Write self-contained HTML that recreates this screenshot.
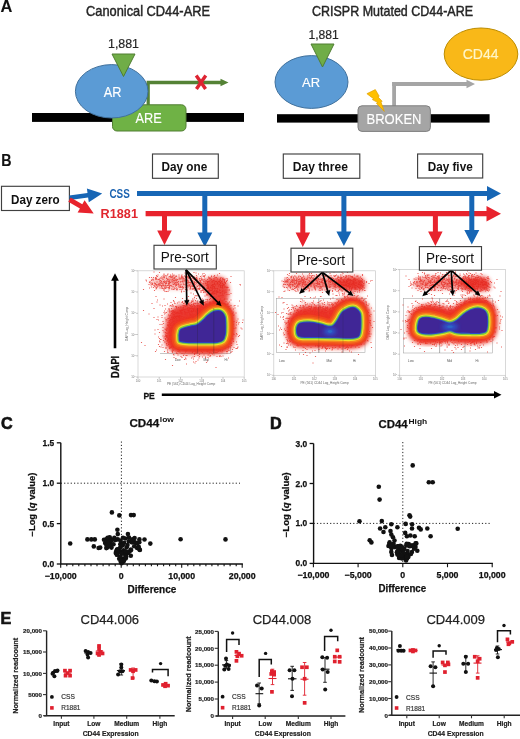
<!DOCTYPE html>
<html><head><meta charset="utf-8"><style>
html,body{margin:0;padding:0;background:#fff;}
svg{display:block;font-family:'Liberation Sans', Arial, sans-serif;}
</style></head><body>
<svg width="520" height="739" viewBox="0 0 520 739">
<rect width="520" height="739" fill="#fff"/>
<text x="0.6" y="12.0" font-size="16.4" font-weight="bold" fill="#111" stroke="#111" stroke-width="0.1">A</text>
<text x="86.0" y="16.2" font-size="14.3" fill="#262626" textLength="124.0" lengthAdjust="spacingAndGlyphs" stroke="#262626" stroke-width="0.45">Canonical CD44-ARE</text>
<text x="312.0" y="15.6" font-size="14.3" fill="#262626" textLength="161.0" lengthAdjust="spacingAndGlyphs" stroke="#262626" stroke-width="0.45">CRISPR Mutated CD44-ARE</text>
<rect x="32" y="113" width="212" height="8.9" fill="#000"/>
<rect x="112.5" y="104.8" width="73.5" height="26.2" rx="4.5" fill="#6fb245" stroke="#507e32" stroke-width="1"/>
<text x="135.6" y="122.8" font-size="13.8" fill="#fff" textLength="26.2" lengthAdjust="spacingAndGlyphs" stroke="#fff" stroke-width="0.15">ARE</text>
<line x1="148.2" y1="82.7" x2="148.2" y2="105" stroke="#548235" stroke-width="3.2"/>
<polygon points="146.6,84.2 220.5,84.2 220.5,86.3 228.5,82.5 220.5,78.7 220.5,80.8 146.6,80.8" fill="#548235"/>
<path d="M196.2,75.6 L205.6,89 M205.8,75.6 L196.4,89" stroke="#de2432" stroke-width="3.4" fill="none"/>
<ellipse cx="111.7" cy="91.3" rx="36.3" ry="26.7" fill="#5b9bd5" stroke="#41719c" stroke-width="1"/>
<polygon points="112,54 135,54 123.5,76.5" fill="#70ad47" stroke="#507e32" stroke-width="1"/>
<text x="108.0" y="47.7" font-size="12.3" fill="#262626" textLength="31.0" lengthAdjust="spacingAndGlyphs" stroke="#262626" stroke-width="0.2">1,881</text>
<text x="103.8" y="97.0" font-size="13.8" fill="#fff" textLength="17.7" lengthAdjust="spacingAndGlyphs" stroke="#fff" stroke-width="0.15">AR</text>
<rect x="277" y="114.2" width="212.6" height="8.4" fill="#000"/>
<rect x="392.2" y="82" width="3.8" height="24" fill="#a5a5a5"/>
<polygon points="392.2,86.0 466.5,86.0 466.5,88.2 475.0,84.0 466.5,79.8 466.5,82.0 392.2,82.0" fill="#a5a5a5"/>
<rect x="358" y="105.8" width="72.4" height="25.6" rx="4" fill="#a5a5a5" stroke="#7f7f7f" stroke-width="1"/>
<text x="366.5" y="123.6" font-size="14.4" fill="#fff" textLength="55.0" lengthAdjust="spacingAndGlyphs" stroke="#fff" stroke-width="0.15">BROKEN</text>
<polygon points="366.9,93.7 375.3,89.6 379.2,96.2 377.8,96.8 382.2,101.3 380.9,101.8 384.3,111.4 376.4,103.3 377.9,102.6 372.4,99.6 373.8,98.9" fill="#ffc000" stroke="#e0a000" stroke-width="0.7" stroke-linejoin="round"/>
<ellipse cx="311.5" cy="82" rx="36.5" ry="26.4" fill="#5b9bd5" stroke="#41719c" stroke-width="1"/>
<polygon points="311,44 334,44 322.5,67" fill="#70ad47" stroke="#507e32" stroke-width="1"/>
<text x="308.5" y="39.2" font-size="12.3" fill="#262626" textLength="30.3" lengthAdjust="spacingAndGlyphs" stroke="#262626" stroke-width="0.2">1,881</text>
<text x="302.0" y="86.5" font-size="13.5" fill="#fff" textLength="18.0" lengthAdjust="spacingAndGlyphs" stroke="#fff" stroke-width="0.15">AR</text>
<ellipse cx="481" cy="54.1" rx="36.8" ry="26.1" fill="#f9b818" stroke="#bc8c00" stroke-width="1"/>
<text x="462.7" y="59.4" font-size="14" fill="#fff6c8" textLength="35.8" lengthAdjust="spacingAndGlyphs" stroke="#fff6c8" stroke-width="0.15">CD44</text>
<defs><filter id="fblur" x="-20%" y="-20%" width="140%" height="140%"><feGaussianBlur stdDeviation="0.7"/></filter><filter id="fblur2" x="-50%" y="-50%" width="200%" height="200%"><feGaussianBlur stdDeviation="2.2"/></filter><filter id="fblur3" x="-50%" y="-50%" width="200%" height="200%"><feGaussianBlur stdDeviation="4"/></filter></defs>
<rect x="138" y="270.8" width="106.2" height="106.2" fill="#fff" stroke="#c8c8c8" stroke-width="0.7"/>
<line x1="136" y1="270.8" x2="138" y2="270.8" stroke="#999" stroke-width="0.5"/>
<text x="135.5" y="271.8" font-size="2.8" fill="#777" text-anchor="end">10<tspan dy="-1" font-size="2">5</tspan></text>
<line x1="138.0" y1="377" x2="138.0" y2="379" stroke="#999" stroke-width="0.5"/>
<text x="138.0" y="381.5" font-size="2.8" fill="#777" text-anchor="middle">100</text>
<line x1="136" y1="292.0" x2="138" y2="292.0" stroke="#999" stroke-width="0.5"/>
<text x="135.5" y="293.0" font-size="2.8" fill="#777" text-anchor="end">10<tspan dy="-1" font-size="2">4</tspan></text>
<line x1="159.2" y1="377" x2="159.2" y2="379" stroke="#999" stroke-width="0.5"/>
<text x="159.2" y="381.5" font-size="2.8" fill="#777" text-anchor="middle">101</text>
<line x1="136" y1="313.3" x2="138" y2="313.3" stroke="#999" stroke-width="0.5"/>
<text x="135.5" y="314.3" font-size="2.8" fill="#777" text-anchor="end">10<tspan dy="-1" font-size="2">3</tspan></text>
<line x1="180.5" y1="377" x2="180.5" y2="379" stroke="#999" stroke-width="0.5"/>
<text x="180.5" y="381.5" font-size="2.8" fill="#777" text-anchor="middle">102</text>
<line x1="136" y1="334.5" x2="138" y2="334.5" stroke="#999" stroke-width="0.5"/>
<text x="135.5" y="335.5" font-size="2.8" fill="#777" text-anchor="end">10<tspan dy="-1" font-size="2">2</tspan></text>
<line x1="201.7" y1="377" x2="201.7" y2="379" stroke="#999" stroke-width="0.5"/>
<text x="201.7" y="381.5" font-size="2.8" fill="#777" text-anchor="middle">103</text>
<line x1="136" y1="355.8" x2="138" y2="355.8" stroke="#999" stroke-width="0.5"/>
<text x="135.5" y="356.8" font-size="2.8" fill="#777" text-anchor="end">10<tspan dy="-1" font-size="2">1</tspan></text>
<line x1="223.0" y1="377" x2="223.0" y2="379" stroke="#999" stroke-width="0.5"/>
<text x="223.0" y="381.5" font-size="2.8" fill="#777" text-anchor="middle">104</text>
<line x1="136" y1="377.0" x2="138" y2="377.0" stroke="#999" stroke-width="0.5"/>
<text x="135.5" y="378.0" font-size="2.8" fill="#777" text-anchor="end">10<tspan dy="-1" font-size="2">0</tspan></text>
<line x1="244.2" y1="377" x2="244.2" y2="379" stroke="#999" stroke-width="0.5"/>
<text x="244.2" y="381.5" font-size="2.8" fill="#777" text-anchor="middle">105</text>
<text x="191.1" y="385.3" font-size="3.2" fill="#666" text-anchor="middle">PE (561) CD44 Log_Height Comp</text>
<text transform="translate(127.5,323.9) rotate(-90)" font-size="3.2" fill="#666" text-anchor="middle">DAPI Log_Height Comp</text>
<path d="M160,353.5 H230.5 V340" fill="none" stroke="#8a8a8a" stroke-width="0.5"/>
<line x1="197.7" y1="300" x2="197.7" y2="353.5" stroke="#666" stroke-width="0.5"/>
<line x1="213.8" y1="300" x2="213.8" y2="353.5" stroke="#666" stroke-width="0.5"/>
<path d="M165.0,334.0C165.0,329.7 166.0,323.8 167.0,320.0C168.0,316.2 169.2,313.3 171.0,311.0C172.8,308.7 174.8,307.2 178.0,306.0C181.2,304.8 185.7,304.5 190.0,304.0C194.3,303.5 200.2,303.7 204.0,303.0C207.8,302.3 210.0,300.4 213.0,300.0C216.0,299.6 219.3,299.3 222.0,300.5C224.7,301.7 227.5,303.4 229.0,307.0C230.5,310.6 230.8,316.5 231.0,322.0C231.2,327.5 231.2,335.5 230.5,340.0C229.8,344.5 229.6,346.9 227.0,349.0C224.4,351.1 220.3,351.8 215.0,352.5C209.7,353.2 201.5,353.2 195.0,353.0C188.5,352.8 180.7,352.7 176.0,351.5C171.3,350.3 168.8,348.9 167.0,346.0C165.2,343.1 165.0,338.3 165.0,334.0Z" fill="#ee4a44" opacity="0.3" filter="url(#fblur3)"/>
<path d="M205.0,281.0C206.2,278.5 210.0,277.5 213.0,277.0C216.0,276.5 220.5,276.7 223.0,278.0C225.5,279.3 227.0,282.2 228.0,285.0C229.0,287.8 229.5,292.2 229.0,295.0C228.5,297.8 227.7,301.2 225.0,302.0C222.3,302.8 216.2,301.7 213.0,300.0C209.8,298.3 207.3,295.2 206.0,292.0C204.7,288.8 203.8,283.5 205.0,281.0Z" fill="#e8281e" opacity="0.85" filter="url(#fblur2)"/>
<path d="M150.0,282.0C150.8,280.2 158.3,277.8 165.0,277.0C171.7,276.2 183.3,276.5 190.0,277.0C196.7,277.5 202.5,278.2 205.0,280.0C207.5,281.8 208.3,286.5 205.0,288.0C201.7,289.5 192.5,289.0 185.0,289.0C177.5,289.0 165.8,289.2 160.0,288.0C154.2,286.8 149.2,283.8 150.0,282.0Z" fill="#e8281e" opacity="0.35" filter="url(#fblur2)"/>
<path d="M193.5 311h0M174.5 326h0M193.5 359h0M169.5 347h0M180.5 341h0M191.5 329.5h0M205.5 320.5h0M185 350h0M195 363h0M177.5 328h0M155 330h0M180 334h0M219.5 348.5h0M214 329h0M189 336h0M209.5 311.5h0M178.5 317.5h0M215.5 322h0M228.5 310.5h0M201.5 331.5h0M186 322h0M210 333h0M221 343.5h0M207.5 305h0M174.5 316.5h0M173 315h0M198 327h0M191.5 345h0M207 309h0M215 320h0M201.5 348.5h0M219.5 350.5h0M164.5 342h0M190 314h0M195.5 349h0M227 299h0M215.5 322.5h0M208 357.5h0M217 314.5h0M229 306.5h0M197.5 330h0M193.5 333.5h0M218.5 314h0M211 321h0M193.5 321h0M224.5 326.5h0M194.5 308h0M193 344h0M199.5 340.5h0M174.5 337.5h0M218 323.5h0M197.5 325.5h0M210.5 355.5h0M230 347h0M173 333.5h0M219 329.5h0M164.5 351.5h0M215.5 308h0M186.5 318h0M201.5 339h0M217 352.5h0M209.5 317.5h0M223 311.5h0M210 302h0M207.5 341.5h0M212 321h0M183 309.5h0M178.5 313h0M201.5 310h0M168.5 344.5h0M219 309h0M214 307.5h0M183 339.5h0M220 316.5h0M222.5 339h0M194 320.5h0M232.5 328.5h0M192 331h0M173.5 321.5h0M180.5 323.5h0M205.5 358h0M186.5 341.5h0M225.5 330h0M204 315h0M202 343.5h0M179 302h0M216 336.5h0M213 325h0M213 318h0M170.5 339.5h0M189 330h0M181 339h0M207.5 343.5h0M197.5 323.5h0M197 313.5h0M206.5 306.5h0M217.5 322h0M227.5 326h0M193 318.5h0M219.5 342.5h0M211 325h0M203.5 320.5h0M174.5 343h0M176 333h0M236 336h0M201 335h0M224 337h0M171 331.5h0M227 320.5h0M193 315.5h0M206.5 311.5h0M173.5 311.5h0M188 308h0M188.5 325h0M199.5 338.5h0M191 318.5h0M221 295.5h0M191.5 334.5h0M219.5 349h0M185 324.5h0M206.5 340h0M212.5 307.5h0M172.5 310.5h0M166.5 330.5h0M174.5 312.5h0M202.5 311h0M197.5 342.5h0M224.5 314.5h0M209.5 303h0M180 349h0M184.5 339h0M171 302.5h0M177 320.5h0M188 324h0M232 315h0M164 338h0M198 331.5h0M182 312.5h0M171 323.5h0M184.5 350h0M221.5 304.5h0M178.5 344.5h0M227.5 329.5h0M216 348h0M188 323h0M184.5 321.5h0M219.5 330.5h0M187 315h0M179 340.5h0M219.5 302.5h0M167 328h0M192.5 321.5h0M206.5 314.5h0M189.5 341.5h0M172.5 351.5h0M232.5 322h0M198 342.5h0M189.5 305.5h0M221 321.5h0M212.5 348h0M180 322h0M208 335h0M212 316.5h0M198 305.5h0M206 301.5h0M180 325h0M195.5 322h0M186.5 339h0M197 340h0M210.5 339h0M188.5 330.5h0M231 293.5h0M187 305.5h0M192 345h0M222 305h0M172 311h0M174.5 312h0M203 339h0M202.5 334.5h0M197 324.5h0M167.5 341h0M214.5 324.5h0M170 324h0M167 329h0M208.5 330.5h0M198.5 311h0M228 308h0M190.5 338.5h0M222 306h0M185 327.5h0M179 347.5h0M213.5 302.5h0M224.5 327.5h0M231.5 330h0M231 326h0M177.5 337.5h0M204.5 348h0M164 332h0M174 312h0M189.5 311h0M200.5 311.5h0M231 315.5h0M222.5 342h0M204.5 326h0M228 338h0M206.5 324h0M169 333h0M206.5 323.5h0M189.5 313h0M212 293h0M216 325.5h0M213 332h0M196 322.5h0M208 350.5h0M193 309h0M187 355.5h0M214 336h0M209.5 341h0M201.5 315.5h0M230.5 311.5h0M192 308.5h0M215 340h0M191 342h0M226.5 351.5h0M225 336h0M184 303.5h0M186 324.5h0M217.5 318.5h0M218.5 334h0M211.5 317.5h0M222 305h0M188 340.5h0M194 342.5h0M218.5 318.5h0M210.5 325.5h0M212.5 332.5h0M205 328.5h0M174 355h0M180.5 316h0M212.5 325h0M203 341.5h0M206 304.5h0M180 313h0M172.5 313h0M186 306.5h0M189.5 345.5h0M179 336.5h0M164.5 314h0M204 322.5h0M206.5 344.5h0M201.5 305h0M206.5 340h0M180.5 336h0M208 335.5h0M209.5 320h0M195 342h0M169 321h0M190 303h0M191.5 333h0M219 317.5h0M180.5 322.5h0M212 325h0M228.5 324.5h0M182.5 298.5h0M199.5 329h0M201 344.5h0M192.5 317h0M180.5 321h0M179 313.5h0M215.5 331.5h0M169.5 340h0M227 334h0M210 315h0M221.5 315h0M178 339h0M227.5 351.5h0M205 335.5h0M181 312.5h0M189 307.5h0M215 316h0M200 327h0M194.5 353.5h0M210.5 328h0M200.5 323.5h0M196 342.5h0M203.5 340.5h0M206 313.5h0M215.5 322.5h0M206 336h0M171.5 340.5h0M218.5 326.5h0M202 332.5h0M221.5 306.5h0M229 328h0M198.5 315.5h0M203 337h0M217 331h0M199.5 330.5h0M193 308.5h0M224 314h0M213.5 314.5h0M215.5 335h0M210 336h0M232.5 338.5h0M218.5 302h0M219 328.5h0M195 333h0M201 338.5h0M227 343.5h0M224.5 345h0M208.5 313.5h0M212.5 326.5h0M194.5 330h0M214.5 340.5h0M226.5 340h0M174.5 339.5h0M223.5 307h0M180.5 307h0M172 351h0M217 348h0M176.5 307h0M203.5 322.5h0M177.5 340.5h0M196.5 329h0M221.5 335h0M200.5 335.5h0M182 310.5h0M225 323h0M207 320.5h0M198.5 327.5h0M200.5 308h0M189.5 346h0M219 337.5h0M171.5 334.5h0M203 342h0M173.5 327.5h0M214 309.5h0M232 351.5h0M215.5 340.5h0M196.5 334.5h0M214 327.5h0M194 305.5h0M178 325h0M221 336h0M199 310h0M227 304.5h0M227.5 317h0M189 305h0M179.5 332h0M173 305.5h0M207 331.5h0M212.5 345h0M225 325.5h0M186 344.5h0M224.5 329.5h0M216.5 322.5h0M193 322h0M214 324h0M159.5 346.5h0M202 328h0M185 345.5h0M204 328.5h0M225 340h0M196.5 316h0M199 343.5h0M169.5 348.5h0M228.5 325h0M175.5 317.5h0M219.5 346.5h0M199 358h0M212 321.5h0M221 339h0M222.5 310.5h0M178.5 325h0M197.5 329h0M214.5 304.5h0M184.5 327h0M173 319h0M163.5 323.5h0M200 312.5h0M205.5 327.5h0M204.5 320.5h0M217 313h0M218.5 306h0M169 318.5h0M183.5 355.5h0M195 327.5h0M199.5 332h0M228 347.5h0M196 323h0M212 350.5h0M191 341.5h0M195.5 311h0M198 314h0M196.5 317h0M212.5 354h0M203.5 317.5h0M195 341h0M185.5 350h0M179 316.5h0M216.5 315h0M190.5 333h0M193.5 294h0M187.5 308h0M173 306.5h0M226 336h0M183.5 341h0M199 335.5h0M190 334h0M192 305h0M200 342h0M188 341h0M168 352.5h0M213.5 334.5h0M233 341h0M165.5 332.5h0M182 326h0M223 329.5h0M186 319h0M171 329h0M173 346.5h0M182.5 310.5h0M174.5 343h0M175 320h0M191.5 337.5h0M225.5 327.5h0M205.5 310.5h0M182.5 331h0M199.5 325h0M207 331h0M175.5 343.5h0M201.5 321h0M185 309.5h0M202 339.5h0M172 311h0M186.5 317.5h0M222 321h0M227 339.5h0M175 311.5h0M188 330h0M210.5 309.5h0M218.5 312.5h0M178 339h0M170.5 328.5h0M223 311.5h0M227.5 335.5h0M202.5 335.5h0M167 345.5h0M229 335.5h0M188 323.5h0M212 340h0M191.5 358h0M176.5 325h0M209.5 305h0M215 347h0M180.5 311.5h0M187.5 326.5h0M223 303.5h0M174.5 331.5h0M204 329h0M182 302.5h0M192.5 299h0M176 335.5h0M173.5 347.5h0M194.5 345.5h0M219.5 335.5h0M196 330.5h0M161 339.5h0M207 310.5h0M220 348.5h0M192.5 324.5h0M218.5 351.5h0M205 320h0M209.5 337.5h0M238.5 336.5h0M211.5 314h0M208.5 315h0M184 339.5h0M183 329.5h0M195 303.5h0M176.5 348.5h0M182.5 332.5h0M178 330h0M158.5 320h0M214.5 302.5h0M224.5 319.5h0M221 309h0M203 307.5h0M208 327h0M216 317.5h0M206 347.5h0M226.5 337.5h0M205.5 340.5h0M185.5 305h0M169.5 341.5h0M213.5 317.5h0M218 343.5h0M175.5 325h0M171.5 347.5h0M180 340.5h0M174 314.5h0M184.5 328h0M198 355.5h0M182.5 321h0M210 352.5h0M209 339.5h0M200.5 304h0M209.5 308.5h0M205 319.5h0M179.5 318h0M181.5 313h0M218.5 322.5h0M170 312h0M190.5 350.5h0M204 348h0M226 301.5h0M177 320h0M175.5 328.5h0M223 356h0M224.5 321.5h0M224.5 340h0M212.5 330.5h0M167 320h0M197 332h0M236.5 333.5h0M214 319h0M207.5 308.5h0M199.5 326.5h0M215 303.5h0M179 342.5h0M203.5 350h0M211.5 341h0M215.5 305.5h0M201.5 328h0M178.5 307.5h0M171.5 341h0M201 319.5h0M233.5 309h0M188.5 344.5h0M206 316h0M176.5 306.5h0M206.5 304.5h0M212 347.5h0M218 305h0M206 344.5h0M224.5 337.5h0M177.5 343h0M167.5 304h0M188 343.5h0M190.5 324h0M184 346.5h0M199.5 317h0M187.5 306h0M198 303.5h0M184 310h0M198 322h0M202 332h0M202 326.5h0M201.5 333h0M165 342h0M195.5 317h0M216 346h0M208 329h0M199 336.5h0M172.5 340h0M188.5 323.5h0M204 327h0M217.5 324h0M170 306h0M203.5 349h0M207 326h0M169.5 317h0M171.5 317.5h0M190.5 330h0M213.5 316h0M171.5 335.5h0M192.5 318.5h0M175.5 340.5h0M222.5 302h0M191.5 343h0M192.5 325.5h0M203 346.5h0M224 303.5h0M209 314.5h0M200 324.5h0M207 320.5h0M190 347.5h0M218 336.5h0M210.5 326h0M219 301.5h0M166.5 336.5h0M221.5 322h0M222 307.5h0M185.5 313h0M196.5 327.5h0M218.5 346.5h0M193.5 320h0M193.5 340.5h0M198 325.5h0M220.5 308h0M196.5 348.5h0M194.5 333h0M191.5 305h0M196.5 339.5h0M221.5 311h0M161 347h0M183.5 349.5h0M209.5 307h0M210.5 326.5h0M189.5 336h0M188.5 333.5h0M194.5 336.5h0M238 306h0M200 310.5h0M231 300h0M199.5 311.5h0M231 314h0M227.5 316.5h0M187 321.5h0M215.5 315.5h0M200 342h0M204.5 310.5h0M190.5 323h0M233 312h0M220.5 305.5h0M190.5 308.5h0M180 323h0M241 328h0M195.5 338.5h0M218.5 309h0M208 320h0M180 329.5h0M192 334.5h0M212.5 339h0M230 323.5h0M212.5 337.5h0M193.5 309.5h0M219.5 315h0M209.5 329h0M214.5 308h0M237 344.5h0M233 338.5h0M207 310h0M187.5 350h0M230.5 339.5h0M169 324.5h0M212 330h0M207.5 351.5h0M201 340h0M168 340h0M191 306.5h0M178 330h0M174 334.5h0M184.5 359.5h0M193 347.5h0M199.5 350.5h0M178 346.5h0M193 300.5h0M188.5 347h0M198.5 331.5h0M201 310h0M212.5 324h0M210 319.5h0M212.5 341h0M180 332.5h0M214.5 331h0M192 311.5h0M206.5 309.5h0M188 300h0M190.5 305.5h0M217.5 310h0M193 357h0M225.5 311h0M186 320h0M182.5 342.5h0M216.5 313h0M201 341.5h0M223.5 326h0M209.5 299.5h0M231.5 316h0M215.5 334h0M177 326h0M216 314.5h0M194.5 350.5h0M203 326h0M187.5 319h0M196 325h0M220.5 301h0M228.5 339.5h0M220.5 299h0M205.5 346.5h0M173.5 329.5h0M211 304.5h0M211 309h0M202.5 341.5h0M177 338h0M183 336.5h0M214.5 302.5h0M201 342h0M217.5 311.5h0M237 321h0M172 318h0M187 313h0M216 334h0M173.5 300.5h0M212 339h0M211 335h0M209.5 353h0M185 348.5h0M228.5 318h0M200 346h0M207.5 312h0M199.5 354.5h0M191 344h0M188 331.5h0M219.5 322.5h0M175 313h0M210.5 309h0M173 334.5h0M201.5 334.5h0M206.5 307h0M209.5 306.5h0M178.5 349.5h0M183 333.5h0M231.5 343h0M235 308h0M231.5 314.5h0M216.5 316.5h0M172.5 341.5h0M211 329.5h0M208 343.5h0M184 320.5h0M225.5 348h0M183 322h0M196 295.5h0M172 317h0M208 352h0M166 336h0M201 328h0M217 347h0M212.5 343h0M227 328.5h0M179.5 320h0M219.5 332h0M214 315h0M174 357.5h0M213 346.5h0M214.5 322h0M224.5 303.5h0M219.5 304.5h0M171.5 311h0M186 345h0M210.5 332h0M216.5 310h0M202.5 330.5h0M196 361.5h0M175 325h0M188.5 342.5h0M221.5 343.5h0M175 344.5h0M217 315h0M190.5 336.5h0M189.5 336h0M189 333h0M184.5 324h0M176 316.5h0M225 299h0M162 324.5h0M195 310h0M175.5 317h0M228.5 326.5h0M201.5 311h0M158 317h0M172 329.5h0M183.5 307h0M172 335.5h0M208.5 328.5h0M219 304h0M224 324h0M204.5 348.5h0M194 303h0M242.5 322.5h0M186.5 323.5h0M232 331h0M176.5 353h0M199.5 308.5h0M181.5 321.5h0M183.5 309.5h0M204.5 332.5h0M167 336.5h0M206.5 362.5h0M225 307.5h0M196.5 319h0M196 302h0M219 350.5h0M223 328h0M179.5 317.5h0M209.5 325.5h0M216.5 350.5h0M220 311.5h0M193.5 362h0M192 338.5h0M181 316h0M200 301.5h0M191 342h0M160 342h0M209 337.5h0M227 315h0M226 325.5h0M200.5 338.5h0M176.5 339h0M217 356.5h0M225 307.5h0M194 326h0M208 331h0M192 324h0M212.5 331h0M221.5 313h0M223 345h0M200.5 306.5h0M202.5 315h0M214 306.5h0M210.5 334.5h0M187 337.5h0M227.5 341h0M194 319.5h0M205 302.5h0M173 305.5h0M214.5 329.5h0M189 323.5h0M187 319.5h0M192 347h0M207 336.5h0M222 304h0M167 341h0M197.5 307h0M217.5 308h0M203 349h0M193.5 326h0M184 305.5h0M194.5 356.5h0M215.5 346.5h0M172 346.5h0M198 350.5h0M178 343.5h0M229 346.5h0M198 360h0M216 317h0M193.5 304h0M207.5 361h0M213 349.5h0M187 344h0M228 307h0M170 341.5h0M163 347.5h0M218 347.5h0M222.5 314h0M182 314h0M169.5 336h0M210 315h0M198 344.5h0M220.5 338h0M229 336.5h0M201.5 324h0M196.5 347h0M223.5 335h0M197.5 318.5h0M188 324.5h0M213.5 331.5h0M206 340h0M218 344.5h0M182 316.5h0M204 355h0M217.5 327h0M193 327.5h0M188 342.5h0M202.5 307h0M201 328.5h0M201 350h0M195.5 300.5h0M180 324.5h0M217.5 316h0M206 317.5h0M180.5 322h0M200 349.5h0M178.5 332.5h0M208 355h0M194 344h0M214 331.5h0M185.5 321h0M209 355h0M209 343h0M207.5 326h0M212.5 302h0M178.5 345.5h0M202.5 329h0M213.5 316.5h0M221.5 335h0M176 337.5h0M221 309h0M222.5 335.5h0M221 306.5h0M222.5 350.5h0M217.5 332h0M213 335h0M191 351h0M195 331h0M173 314h0M175.5 329.5h0M222.5 326h0M198.5 308.5h0M198 311h0M217.5 325h0M195 338.5h0M204.5 326h0M228.5 341h0M184 338.5h0M223 325h0M226.5 336h0M227 330.5h0M223 310.5h0M193.5 333h0M173.5 335h0M209 311h0M193.5 323h0M218 322h0M232.5 313.5h0M198.5 337h0M180 343.5h0M218 348h0M215 337.5h0M175.5 346.5h0M173.5 310.5h0M186 345.5h0M217 338.5h0M198.5 295.5h0M220 301.5h0M219.5 306.5h0M192.5 329.5h0M218 329h0M166.5 337h0M174.5 303h0M234 334.5h0M195.5 352h0M186.5 351h0M181 323h0M204.5 338.5h0M192.5 351h0M193 347h0M192 318.5h0M176 358.5h0M196 330h0M174.5 342.5h0M220 350h0M202 306.5h0M225.5 315h0M199 342.5h0M204 322h0M193.5 324h0M197 317.5h0M197.5 344h0M207.5 311h0M168.5 339.5h0M225.5 315.5h0M226 338.5h0M178 351.5h0M175 331h0M210.5 324h0M214 305h0M187.5 302h0M188 320h0M214.5 324.5h0M174.5 333.5h0M205 340h0M202 313h0M223.5 334h0M223.5 308h0M206 325.5h0M185.5 352h0M220 355.5h0M212 306h0M174.5 318.5h0M208 332.5h0M210 356.5h0M190.5 317.5h0M174 314.5h0M207.5 318.5h0M211.5 353h0M193 323.5h0M220.5 332h0M189 309.5h0M172.5 304.5h0M210.5 338h0M201.5 330.5h0M186.5 298.5h0M186.5 304h0M217 348h0M227.5 317h0M227.5 313h0M185.5 347.5h0M194 322h0M187.5 323h0M187.5 337h0M212 339.5h0M220.5 310h0M210.5 334.5h0M187.5 321h0M220.5 314h0M218.5 338.5h0M192 301.5h0M205.5 323.5h0M222.5 328h0M187 330.5h0M195 352h0M192 343.5h0M186.5 334.5h0M225.5 316.5h0M182.5 323.5h0M232 324.5h0M210 331.5h0M195 343h0M176 345h0M192.5 306.5h0M180.5 333h0M203 321h0M203.5 302.5h0M207 347h0M215 335h0M236 348.5h0M230.5 336.5h0M222 326h0M222.5 334h0M224 319h0M171.5 335h0M199.5 333.5h0M201 339h0M217 310.5h0M204 342.5h0M220 323.5h0M213 340.5h0M173.5 318h0M211.5 343h0M181.5 342.5h0M166 348.5h0M179 336.5h0M178 338h0M180 321.5h0M217.5 327.5h0M219 305.5h0M223 322h0M174 324.5h0M224 324.5h0M171.5 327.5h0M221 303h0M217.5 339h0M180 336h0M186.5 322h0M185.5 336h0M225 304h0M169.5 330h0M193 344.5h0M177 337h0M172 338h0M219.5 330h0M213.5 329h0M184.5 336.5h0M187.5 332.5h0M170 328h0M173 312h0M214 335.5h0M191 336h0M176 340h0M173.5 338.5h0M209.5 322h0M188 319h0M193.5 322.5h0M208 340.5h0M188.5 348.5h0M171.5 313.5h0M223 313.5h0M188.5 345.5h0M178.5 316.5h0M174.5 326.5h0M179.5 324.5h0M193 316h0M194 333h0M209.5 338h0M174 321.5h0M184.5 331h0M171.5 306h0M186.5 341h0M223.5 311h0M219.5 328h0M176 334h0M166.5 335.5h0M214 301.5h0M192.5 311.5h0M196.5 341.5h0M213.5 344h0M192.5 335h0M217 315h0M195.5 334h0M177.5 313h0M205.5 323.5h0M190 314.5h0M224 319.5h0M167 337.5h0M194 351h0M172 340.5h0M216 336h0M181.5 317h0M226 328.5h0M200 319.5h0M180 329h0M218.5 343h0M187.5 302h0M213 350h0M173.5 354.5h0M208 312h0M183.5 329h0M215 335h0M187.5 340.5h0M205 342h0M202 332h0M201 307.5h0M194.5 297.5h0M185.5 331h0M165.5 359.5h0M216 346h0M181 346.5h0M204 321h0M164.5 311h0M196.5 323.5h0M186.5 346h0M205.5 344h0M208 334.5h0M228 350h0M194.5 325.5h0M215.5 352.5h0M219.5 313.5h0M185 313h0M199.5 306.5h0M226 341h0M223 338.5h0M199.5 356.5h0M220.5 306h0M200.5 314h0M219.5 342h0M172 344h0M185 338.5h0M173.5 321h0M219 307h0M207.5 346.5h0M184.5 302h0M198 339h0M182 341.5h0M213 341.5h0M230 320.5h0M182.5 302.5h0M186 359h0M220 316h0M222.5 334.5h0M209 316h0M201 349h0M238.5 324h0M222 330.5h0M198 316.5h0M170 315.5h0M229 334.5h0M204.5 330.5h0M192.5 320.5h0M199 326.5h0M195 353.5h0M179.5 315.5h0M215 323h0M158.5 344.5h0M215 314.5h0M210.5 334h0M166.5 312.5h0M184.5 338.5h0M197.5 302h0M208 313h0M221 345.5h0M205 324h0M185.5 358h0M167.5 325h0M179 335.5h0M167.5 341h0M177 330h0M208 334.5h0M212 312h0M192.5 346.5h0M175 341h0M204.5 312h0M214 349.5h0M179.5 320h0M227 316.5h0M179.5 336h0M223 334.5h0M208.5 331.5h0M206.5 304h0M214 308.5h0M195 332.5h0M213.5 303.5h0M208 314.5h0M222 302.5h0M231 317h0M189.5 338.5h0M228.5 348h0M167.5 350h0M195 338.5h0M215 332.5h0M169.5 322.5h0M196 351h0M225 340h0M193.5 333h0M232.5 321h0M218 308.5h0M204 307h0M238 347h0M191 325.5h0M173.5 350h0M201 330.5h0M202.5 352.5h0M197 309h0M195.5 336.5h0M180 337h0M220 302h0M214 333h0M197.5 342.5h0M202 344h0M189 327h0M194.5 320.5h0M208.5 318.5h0M219 350.5h0M218 306.5h0M198.5 313.5h0M231 305.5h0M195 306.5h0M228 328h0M201.5 307h0M226.5 341.5h0M204 314.5h0M219.5 315.5h0M200 301.5h0M171.5 334h0M221.5 326h0M208 311.5h0M176.5 313h0M186 341h0M219.5 346h0M225.5 331h0M172.5 342.5h0M197 315.5h0M212 325h0M219.5 332.5h0M186 309h0M225.5 335h0M175.5 324.5h0M217 318h0M212.5 315.5h0M188.5 296.5h0M207 338h0M197.5 321.5h0M177.5 303h0M178 348.5h0M197 314.5h0M223.5 305.5h0M220.5 302h0M168.5 338.5h0M210.5 319.5h0M168 318.5h0M226 301.5h0M227.5 334h0M175 311.5h0M190.5 323.5h0M222 352h0M215.5 326h0M193 347.5h0M212.5 343h0M219 343.5h0M226 344h0M212.5 326.5h0M205 307h0M203.5 320h0M174.5 340h0M175 321h0M199 304h0M186.5 334.5h0M214.5 333h0M203.5 348.5h0M194.5 349.5h0M218 318h0M201 317.5h0M220.5 346h0M217.5 315h0M218.5 305.5h0M198 351h0M192 313h0M183 332.5h0M191.5 316h0M185.5 335.5h0M196.5 298.5h0M197 325.5h0M186.5 350.5h0M237 334.5h0M219.5 356.5h0M230.5 313h0M215 314h0M230.5 314.5h0M224.5 312h0M213 334h0M222 323.5h0M234 321.5h0M209 313.5h0M200 341.5h0M174.5 344.5h0M177 353.5h0M207.5 325h0M183.5 303.5h0M220 332.5h0M181.5 334h0M200 309.5h0M189.5 321h0M212.5 320h0M216.5 331h0M205 316h0M191 321h0M192 314.5h0M197.5 313h0M166 347.5h0M196 340.5h0M174.5 315h0M202 330.5h0M223.5 318h0M213 307h0M194.5 339.5h0M176.5 333h0M224.5 345.5h0M163.5 340.5h0M188 349.5h0M197 296h0M222 309h0M221 326h0M233 314h0M169 342.5h0M181 307h0M193 344h0M215.5 341.5h0M205 322.5h0M184.5 302h0M210 303.5h0M179.5 332.5h0M225 338.5h0M191 325h0M207 331h0M231.5 343.5h0M208 307h0M185 320.5h0M178.5 320.5h0M214.5 331.5h0M198 309h0M196 333.5h0M208 335h0M222.5 346h0M194 299h0M184.5 347h0M181 318.5h0M169 309.5h0M219 339.5h0M177 312.5h0M204 302.5h0M202.5 330h0M208.5 326.5h0M205.5 328h0M216.5 334h0M211 313h0M209.5 312h0M226.5 338.5h0M188 333.5h0M200 331h0M189 317.5h0M199.5 354h0M218 326.5h0M169 327h0M187 323h0M223 317h0M196.5 310h0M182 357.5h0M182.5 314h0M174 344.5h0M214.5 340h0M213 325.5h0M178 331h0M199 346h0M170.5 305.5h0M203 344.5h0M225.5 312h0M209 330.5h0M216 311h0M190.5 315.5h0M181 321.5h0M172.5 321h0M166 329.5h0M226.5 314h0M190.5 350.5h0M196 327h0M189 346h0M210 348.5h0M224.5 340h0M169 308.5h0M224 300h0M184.5 339.5h0M199 330h0M216.5 332h0M172.5 352.5h0M207 308.5h0M190.5 327h0M203 316h0M201.5 311h0M201.5 315h0M177 343.5h0M220.5 350.5h0M215 338h0M171.5 311.5h0M177.5 312.5h0M208.5 346h0M205 313h0M165.5 335h0M214 301.5h0M202.5 328h0M178 355h0M227 343.5h0M201.5 349.5h0M157 319.5h0M171 332h0M208.5 331.5h0M219 329h0M194.5 305.5h0M195.5 311h0M183.5 326h0M196 342.5h0M187 343.5h0M221 337.5h0M200.5 342.5h0M165.5 313h0M211 326h0M205.5 320.5h0M206.5 343.5h0M200.5 347h0M212 333.5h0M162 317.5h0M174 323.5h0M182.5 328h0M194.5 354.5h0M225 344h0M178.5 320.5h0M225 313.5h0M210.5 302.5h0M195.5 350.5h0M202.5 330.5h0M217.5 333h0M217.5 339.5h0M188.5 312h0M172 316.5h0M186.5 341.5h0M190.5 350h0M209.5 346h0M173 345.5h0M175.5 325h0M194 327h0M173.5 328h0M207 326.5h0M184 325h0M204 313h0M209.5 324h0M169.5 320.5h0M184 317h0M199.5 307h0M209 337h0M236.5 325h0M218.5 319.5h0M162.5 306h0M232.5 349.5h0M216.5 335h0M181 334.5h0M200 345h0M214.5 309.5h0M172 322.5h0M178.5 325.5h0M204 327.5h0M189.5 329.5h0M222.5 333.5h0M221.5 341h0M215 308.5h0M185 334h0M242 329h0M202.5 314h0M177.5 333h0M210 347h0M219.5 341h0M221.5 306.5h0M220 318h0M204 346.5h0M173 343h0M166.5 344h0M195.5 349h0M189.5 330h0M217 330h0M205.5 357h0M221 331h0M195.5 347.5h0M184.5 323h0M203 336h0M185 331.5h0M176.5 308h0M180 334h0M200 316.5h0M204.5 312.5h0M207 351.5h0M209.5 344h0M195.5 337.5h0M177.5 333.5h0M212.5 314h0M191 350h0M167.5 340h0M170.5 319.5h0M216.5 322.5h0M222 347h0M183.5 309.5h0M227.5 337h0M197 330h0M211 336h0M165 329h0M204 328.5h0M183 334h0M223.5 314h0M222.5 333h0M207 313.5h0M217 339h0M223.5 315.5h0M218.5 303.5h0M225 325h0M197.5 333.5h0M212.5 336.5h0M193 351.5h0M183.5 339h0M216.5 319h0M228 329h0M182.5 322h0M206.5 317h0M160.5 339.5h0M187 301.5h0M175.5 313h0M203.5 315.5h0M225.5 316.5h0M194 351h0M200 311h0M220.5 332.5h0M223.5 343.5h0M177 333.5h0M203.5 349.5h0M177.5 349.5h0M231.5 345.5h0M183.5 327.5h0M191.5 308h0M229 294.5h0M192.5 345.5h0M182.5 349.5h0M205.5 304h0M188.5 303.5h0M207.5 295h0M198.5 325h0M193.5 310.5h0M206 308h0M201 322h0M216.5 338.5h0M195.5 326h0M195.5 345.5h0M230.5 314h0M171 347h0M213.5 343h0M176.5 318.5h0M206.5 319h0M214 352.5h0M207.5 332h0M204 291h0M219.5 310.5h0M172.5 365.5h0M191 339h0M221.5 320.5h0M198 343h0M221 336.5h0M193.5 304.5h0M210.5 332h0M197 324h0M205.5 342h0M193 321.5h0M216 345h0M196 342h0M226.5 334.5h0M196 311.5h0M207 340h0M203 305.5h0M210 306.5h0M235 305.5h0M195 296h0M181.5 336h0M228.5 320h0M174.5 331h0M192.5 335h0M172.5 346.5h0M177 338.5h0M170.5 325.5h0M197.5 309.5h0M176.5 327.5h0M163 327.5h0M207 349.5h0M179 334h0M189 338.5h0M191 349h0M168 338h0M169 324.5h0M207 343h0M207 324h0M173 313h0M232.5 323h0M190.5 322h0M163 336h0M178.5 349h0M179 331h0M210.5 341h0M228.5 320.5h0M199 306h0M159.5 338.5h0M191 330h0M208 342h0M169.5 312h0M192 322.5h0M177.5 349.5h0M183.5 341.5h0M189.5 322.5h0M218.5 305h0M184.5 342h0M220 324.5h0M175.5 306.5h0M210.5 319.5h0M168 322.5h0M211 331h0M237.5 348h0M216.5 327.5h0M204 308.5h0M172.5 337.5h0M198.5 342.5h0M198 315.5h0M210 307.5h0M214.5 314h0M221.5 326.5h0M196.5 312.5h0M215 321.5h0M167 335.5h0M159.5 332.5h0M210 348.5h0M224.5 299h0M215 319h0M195.5 337h0M218.5 317h0M199 331h0M195 334h0M210.5 324h0M204 326.5h0M207 315.5h0M208.5 325.5h0M214.5 323.5h0M233 312.5h0M191.5 326.5h0M210 339.5h0M173.5 325h0M178 316h0M225.5 305h0M172 312h0M235.5 328h0M227 353h0M210.5 340h0M221 342h0M196 316h0M191 312h0M188 349h0M236 328h0M234 328.5h0M185.5 335.5h0M162 345h0M209.5 327h0M206 324.5h0M191.5 341h0M195.5 324.5h0M221.5 318.5h0M219 317.5h0M207.5 311h0M181.5 310h0M218 315h0M200.5 336h0M221.5 326h0M205 330h0M233.5 315.5h0M185 323.5h0M214 339h0M223.5 324h0M219 331.5h0M201 313.5h0M214 313h0M159.5 341h0M205 347.5h0M191 347.5h0M207.5 319.5h0M222.5 317h0M186 333h0M188.5 332h0M169.5 332h0M207.5 299.5h0M181.5 312.5h0M203.5 326h0M185.5 347.5h0M225.5 320h0M185.5 342h0M201 341h0M208 339h0M188.5 340.5h0M197.5 310h0M188.5 317.5h0M171 329h0M213 313h0M225.5 339.5h0M206 343.5h0M206 341h0M175.5 331.5h0M206.5 343h0M221.5 320.5h0M215.5 338h0M187.5 310h0M168 311h0M196 315.5h0M224 317h0M210.5 338.5h0M217.5 342h0M198.5 346h0M176 313.5h0M233 339.5h0M188 349.5h0M167.5 352h0M206 348h0M189 335.5h0M211.5 341h0M180 317h0M209 325h0M228.5 348h0M214 326h0M217.5 304h0M179.5 332.5h0M191.5 341h0M222.5 322h0M177.5 332.5h0M190.5 336.5h0M198 350.5h0M173 329.5h0M163 330.5h0M228.5 321.5h0M168 322.5h0M202 312h0M176 346.5h0M175.5 331h0M196.5 349.5h0M217.5 302.5h0M219 324.5h0M172.5 349h0M170 311h0M175 335h0M196 332.5h0M188 335.5h0M192.5 352.5h0M212 322.5h0M203 310.5h0M165 336.5h0M229.5 308.5h0M206 307h0M217 343h0M220 330.5h0M180 310.5h0M195.5 318h0M173.5 321.5h0M169.5 324h0M229.5 315h0M199.5 336h0M205.5 334.5h0M214.5 321.5h0M178 344h0M196 332h0M219.5 342h0M208.5 315h0M198 341h0M198.5 311h0M178 345.5h0M194.5 322h0M178.5 341h0M189.5 335h0M174.5 339h0M171 330.5h0M174 301.5h0M211 314h0M217.5 316.5h0M192.5 327h0M199.5 315h0M191 342.5h0M168.5 315h0M221.5 302.5h0M190 316h0M163 321.5h0M206 299.5h0M188.5 344.5h0M208 318h0M188 327h0M180 327h0M217.5 327h0M208.5 341.5h0M216.5 343h0M201.5 306h0M230.5 334.5h0M220.5 326h0M220 330.5h0M186.5 319h0M230.5 322h0M196 323.5h0M218.5 303.5h0M182.5 334h0M185 306.5h0M223 304.5h0M160 324.5h0M189 348.5h0M201 302.5h0M213 301.5h0M202 307.5h0M213.5 343h0M216.5 335.5h0M198.5 336h0M221.5 306.5h0M193 301.5h0M188.5 300h0M213 334.5h0M164 332h0M202.5 357h0M211 349h0M198.5 322.5h0M230.5 309h0M209 315h0M220.5 351h0M210.5 335.5h0M214.5 315.5h0M207 315h0M209 314h0M190 330.5h0M226.5 312.5h0M195.5 318.5h0M205.5 340.5h0M215 326h0M175.5 335.5h0M192.5 313h0M201.5 351.5h0M211.5 325.5h0M195.5 327h0M180 338h0M206 338.5h0M181 313h0M206 315.5h0M201 304.5h0M191.5 302.5h0M204 307.5h0M214 355h0M232 322.5h0M180 316h0M205.5 305.5h0M190 326h0M182.5 322h0M180.5 310.5h0M228.5 315h0M202.5 327.5h0M197.5 318h0M216 325.5h0M208 322.5h0M182 348h0M169.5 310h0M209.5 345h0M189 342h0M228 304h0M200 334h0M173 343.5h0M201.5 312h0M188.5 310.5h0M199.5 309.5h0M207 330.5h0M166 321h0M210.5 336h0M201 345h0M203.5 333h0M224 321h0M215.5 310.5h0M215.5 329.5h0M182 353.5h0M210.5 334h0M192.5 324h0M181 348h0M180 311h0M185 312h0M172.5 346h0M195 343.5h0M210 348.5h0M185 347.5h0M208 333.5h0M175 329h0M220 330h0M216 367.5h0M199 310h0M183.5 308h0M205.5 314.5h0M198.5 342.5h0M236.5 342h0M203.5 326h0M194.5 329.5h0M186 346h0M236 313h0M201 309.5h0M206.5 324h0M171 332h0M179.5 320.5h0M183 328h0M191 311.5h0M175 328h0M197 326.5h0M173 325.5h0M179 351h0M208.5 344.5h0M187.5 336h0M225 332h0M173.5 332.5h0M189 326.5h0M193 330.5h0M195.5 335.5h0M189 317.5h0M180.5 311.5h0M189 330h0M216.5 311.5h0M208 321h0M166 319.5h0M182.5 301.5h0M171.5 308.5h0M225.5 326h0M207.5 307.5h0M194 311.5h0M211 343.5h0M186 332.5h0M213.5 337h0M180.5 329.5h0M225.5 324.5h0M181.5 341.5h0M216.5 312.5h0M191.5 304.5h0M216.5 320.5h0M197 309.5h0M213.5 308.5h0M219.5 342h0M217.5 311.5h0M173 342h0M199.5 313.5h0M189 329.5h0M227 321h0M200 310h0M180 352h0M178 335h0M224.5 333.5h0M191.5 301h0M208.5 320.5h0M227 341h0M222 324.5h0M225 305.5h0M190 305.5h0M194 314.5h0M211 305.5h0M218.5 320h0M205 324h0M208 318.5h0M238 319h0M198 324.5h0M210.5 311.5h0M182 339h0M213.5 341.5h0M186 333.5h0M210.5 325h0M190.5 315h0M183.5 334h0M199 339h0M179.5 350.5h0M175 303.5h0M231 352.5h0M172 335.5h0M156.5 350h0M211 316.5h0M185 314.5h0M226 313h0M179 345h0M216.5 337h0M211 335h0M188 347h0M194.5 319.5h0M178.5 313h0M184 354h0M223 342h0M170.5 321h0M222.5 310.5h0M182 337.5h0M187 330.5h0M228.5 316.5h0M193 320h0M193.5 334h0M213.5 325.5h0M200 316.5h0M224.5 303.5h0M216.5 315h0M205 296h0M210 338h0M165.5 339.5h0M175 343h0M200.5 347.5h0M205 326.5h0M219.5 343.5h0M175.5 337h0M229 350.5h0M214.5 313h0M213.5 318h0M177.5 326h0M199.5 354h0M166 335.5h0M186.5 364h0M207.5 323h0M170 347.5h0M204.5 339.5h0M213.5 299.5h0M187 331h0M230 335h0M198.5 319h0M221 356.5h0M187 312.5h0M170.5 348h0M203.5 321.5h0M202.5 299h0M174 334h0M206.5 315h0M165.5 338.5h0M196 347.5h0M169 326h0M207 319h0M190.5 321h0M231.5 343h0M213 325h0M173.5 335h0M190 333.5h0M215.5 331h0M225 340h0M213.5 349.5h0M221 342h0M210 315.5h0M200 308.5h0M234 315h0M211.5 323.5h0M229.5 302h0M209.5 310h0M185.5 342.5h0M204 334.5h0M196.5 328h0M190.5 323h0M185.5 325h0M182 338h0M243 320h0M217.5 352h0M186.5 305h0M170 335.5h0M180 339.5h0M215 337h0M220.5 351h0M181 356.5h0M166.5 343.5h0M228.5 358h0M233.5 334h0M179.5 343h0M191.5 310.5h0M169.5 332.5h0M186.5 330h0M195.5 341.5h0M176.5 330.5h0M178 329h0M176.5 344h0M182 336h0M214.5 337h0M213 344h0M165 318h0M186 355.5h0M184.5 311.5h0M228.5 346.5h0M184 317.5h0M212.5 351h0M182.5 328.5h0M186.5 341.5h0M208 295h0M188.5 320h0M199 330h0M181 312.5h0M219.5 334.5h0M209 306h0M192.5 324.5h0M197 313h0M207.5 311h0M204.5 332.5h0M218 333h0M215.5 304.5h0M210 351h0M177.5 316.5h0M227 318h0M168 325.5h0M175 310h0M188.5 304.5h0M214.5 344.5h0M191.5 331.5h0M189.5 341h0M177.5 312.5h0M209.5 313h0M183 305.5h0M198.5 318.5h0M196 303.5h0M195 326h0M172 319.5h0M208.5 344h0M167 333.5h0M220 333h0M216 343.5h0M188 318h0M171 325h0M194 328h0M209.5 349.5h0M173.5 345.5h0M212.5 349h0M183 308h0M181.5 311h0M180.5 339h0M215 298.5h0M184.5 322.5h0M177 316h0M198 328h0M193.5 309h0M183 339.5h0M182 321h0M236.5 322.5h0M227 337.5h0M231.5 327.5h0M227.5 325.5h0M231.5 311h0M215 318.5h0M197 346h0M192.5 345.5h0M215 313.5h0M218 316h0M183 319h0M173 333.5h0M203 337h0M179 337.5h0M189.5 305h0M176.5 316.5h0M216 352.5h0M171 315h0M179 344.5h0M180.5 335h0M207.5 301h0M190.5 343h0M221.5 316.5h0M215.5 348h0M205 317.5h0M197.5 315h0M189.5 343.5h0M173.5 317h0M202 321h0M228 303h0M172.5 339h0M220.5 346.5h0M216 302h0M189.5 308.5h0M208 307.5h0M205 323.5h0M173 350.5h0M218.5 309h0M196.5 353h0M166 333h0M208.5 349.5h0M233.5 341.5h0M159 279.5h0M183.5 288h0M192 285h0M204 289.5h0M181 287.5h0M191.5 283h0M166.5 286h0M216.5 281.5h0M223 278h0M186 285h0M187 285.5h0M176.5 284.5h0M165.5 286h0M190.5 286h0M215 293.5h0M208.5 285h0M215.5 281.5h0M162 285.5h0M222.5 280h0M223 284h0M181.5 278h0M191 293h0M217.5 279h0M189.5 285h0M220.5 280.5h0M200.5 276.5h0M185.5 277.5h0M202.5 290.5h0M193 289.5h0M174.5 278.5h0M155.5 279h0M174.5 281h0M167 280.5h0M219.5 284.5h0M214 293h0M221 277.5h0M222.5 294h0M170 276.5h0M194.5 283.5h0M159 285.5h0M161 282.5h0M176 285h0M173 275.5h0M155.5 283.5h0M207 288.5h0M188 287h0M180 289.5h0M213.5 291.5h0M203 288.5h0M183.5 284h0M205 292.5h0M202.5 274h0M194 279h0M171 285.5h0M204.5 287.5h0M195 290.5h0M194 279.5h0M220 285h0M196.5 278.5h0M185.5 289.5h0M202 280h0M227.5 280h0M214 280.5h0M188 281.5h0M192 289h0M153.5 280h0M190.5 276.5h0M224 280h0M226 290h0M160.5 280.5h0M182 275h0M192 278.5h0M190 289h0M166.5 278.5h0M215 277.5h0M214.5 283h0M165 276h0M224 291h0M197 286h0M223.5 285h0M176.5 285.5h0M161.5 277h0M156 287.5h0M168.5 287.5h0M191 276.5h0M214.5 287.5h0M181.5 292h0M204 286h0M173 289.5h0M174.5 277.5h0M160 288h0M203 283.5h0M192.5 286.5h0M200 281h0M214.5 286.5h0M196 288.5h0M188.5 282.5h0M172 277h0M181.5 276.5h0M186 284.5h0M193.5 284.5h0M154 285.5h0M187.5 276.5h0M208.5 277h0M156 279.5h0M177.5 282.5h0M175.5 282.5h0M224.5 280.5h0M163 283h0M207.5 279.5h0M197 290.5h0M219 296h0M163 276h0M214 294h0M158.5 284h0M195 278.5h0M204 284h0M182.5 288h0M215 291h0M172.5 279.5h0M212 288h0M169.5 276.5h0M212.5 293h0M199.5 288h0M212.5 287h0M208 287.5h0M191 286.5h0M211.5 295h0M146 280h0M195.5 280h0M165.5 285h0M222.5 288h0M201.5 278h0M217.5 275h0M194.5 288h0M176.5 280h0M186.5 279.5h0M204 281.5h0M216.5 277.5h0M219.5 273.5h0M206 290h0M217.5 289h0M214.5 290.5h0M156.5 275.5h0M204 282h0M165.5 288.5h0M212.5 293.5h0M171.5 286h0M215 291h0M214 287h0M165 287.5h0M209 278.5h0M152 283h0M216 288.5h0M181.5 277h0M204 289h0M172 277.5h0M226 292h0M203.5 286.5h0M180 278.5h0M211 293.5h0M185.5 276.5h0M204.5 289.5h0M220.5 286.5h0M178 284.5h0M156.5 288.5h0M208.5 287h0M189.5 286h0M196.5 283h0M217 290.5h0M193 285h0M169 285h0M158 275h0M156.5 278.5h0M214 284.5h0M219.5 282h0M196.5 289h0M187.5 277h0M206 285h0M196 277.5h0M154 272h0M151 285h0M211.5 276h0M202 285h0M164 276.5h0M189.5 274h0M194.5 282.5h0M195 284.5h0M165 281.5h0M184 278.5h0M214.5 275.5h0M208 291h0M212 282h0M194.5 279h0M190.5 288h0M160.5 278h0M154.5 286h0M166 288h0M174 282.5h0M212.5 284.5h0M200.5 281.5h0M159.5 279h0M161 285.5h0M199 283.5h0M188.5 277.5h0M187 279.5h0M165 291.5h0M214 281h0M216 278h0M213 294h0M224 284.5h0M216.5 291h0M217 291.5h0M213.5 286.5h0M159.5 272.5h0M189 277.5h0M200.5 280.5h0M211 278h0M190.5 289h0M203.5 288.5h0M166.5 283h0M192.5 285.5h0M216 292h0M171 276h0M160 283h0M210 278h0M194 277.5h0M202 279h0M197 277h0M170.5 275h0M219.5 290h0M206.5 295h0M209 281.5h0M164 275h0M198 281.5h0M207 281.5h0M170 280h0M204 279.5h0M182 287h0M162.5 288.5h0M163.5 285.5h0M179 277h0M228 287.5h0M165.5 283.5h0M169.5 281.5h0M203.5 281h0M157 284.5h0M214.5 293h0M167.5 279h0M172 281h0M167.5 285.5h0M210.5 287.5h0M214 276.5h0M202 280h0M207.5 279.5h0M174.5 280h0M207.5 286h0M169 282.5h0M152 280h0M208 286.5h0M214 278.5h0M204.5 276h0M201.5 291h0M197.5 279h0M225 286.5h0M225 283h0M187.5 280.5h0M208 281.5h0M151.5 280.5h0M175.5 286h0M155.5 278.5h0M169.5 283.5h0M177 282.5h0M178.5 284h0M161 283h0M193.5 285h0M152.5 284.5h0M170.5 282.5h0M199 288.5h0M223 278h0M186 277.5h0M224 279.5h0M196.5 277.5h0M188.5 282.5h0M194.5 282.5h0M226.5 287.5h0M199.5 285.5h0M228 290h0M199 285.5h0M214 279h0M220.5 278.5h0M209 291h0M176.5 289.5h0M157 282h0M168 274h0M222 292h0M164 289.5h0M225 279h0M220.5 293h0M207.5 282.5h0M181.5 291h0M201.5 283h0M200 285.5h0M153.5 277.5h0M200 278.5h0M169.5 283.5h0M203 290.5h0M149 284.5h0M183.5 287.5h0M197 280h0M156.5 287.5h0M174 289.5h0M172 282h0M157.5 287h0M177.5 279.5h0M182 278h0M174 278h0M213.5 292h0M204 275.5h0M197 291h0M160 285h0M202.5 290h0M169.5 286.5h0M223 278.5h0M223 279.5h0M149.5 288h0M220.5 283.5h0M183 277h0M229.5 290h0M212.5 282h0M184.5 281h0M189 285.5h0M203.5 289h0M220.5 287.5h0M160 284.5h0M194 281.5h0M188 280.5h0M179 275h0M175 276h0M195 282.5h0M173 278h0M169 288.5h0M177.5 289h0M183 280h0M213 286h0M176 279h0M203 284h0M196 273h0M181.5 276h0M222 285.5h0M182 276.5h0M207 294h0M218 292h0M202 276h0M178.5 284h0M187 275h0M222 281.5h0M172 277.5h0M218 284h0M151.5 277.5h0M162 278.5h0M186.5 289.5h0M202.5 280h0M220.5 282.5h0M149.5 277.5h0M212.5 285h0M157 286h0M190.5 278.5h0M194 284h0M202 290.5h0M161.5 277h0M152.5 284h0M173 286.5h0M188 278h0M173.5 281h0M179 287h0M180.5 286h0M151 285h0M218.5 286h0M162 283.5h0M220.5 292.5h0M168 279.5h0M166 282h0M185 279.5h0M225.5 282.5h0M150 281.5h0M151 283h0M200.5 282.5h0M217.5 283h0M197.5 282.5h0M224.5 279.5h0M214 288.5h0M223 295.5h0M197.5 286.5h0M183 282h0M214 291.5h0M157 276.5h0M162 288.5h0M180 278h0M169.5 287.5h0M180 279h0M178 283h0M176 280.5h0M210 289h0M158 279.5h0M156 285h0M194 288h0M166.5 277h0M193 283h0M205.5 282h0M182.5 281.5h0M224.5 281.5h0M186.5 280.5h0M166 283h0M204 287.5h0M164.5 287h0M221 287.5h0M199.5 289.5h0M216 288.5h0M153 279h0M152 279.5h0M158.5 284.5h0M185 280.5h0M186.5 282.5h0M180.5 282h0M207.5 284.5h0M222 282h0M220 293h0M166 275.5h0M207 285.5h0M171 279h0M163 284.5h0M186 284h0M194 288.5h0M164 290.5h0M156 289h0M173 276.5h0M212 288.5h0M167 281.5h0M163 279.5h0M193.5 283.5h0M164.5 281h0M219.5 281h0M169 284h0M187.5 283h0M222.5 278.5h0M220 290.5h0M222.5 291h0M200.5 291h0M185 281h0M185 273h0M168.5 283.5h0M204 281h0M212 290h0M176.5 276h0M223 285.5h0M159.5 284h0M190.5 282.5h0M194.5 284h0M212.5 282h0M186 287.5h0M215.5 285h0M199 284h0M164 278h0M194 272.5h0M155.5 277.5h0M208.5 290.5h0M150.5 283h0M157 285.5h0M175.5 277h0M170 285.5h0M227 280.5h0M188 282h0M188.5 276h0M191 293h0M169 281.5h0M210.5 296.5h0M168.5 284h0M196.5 279h0M190.5 287h0M187.5 290h0M186 284.5h0M169 277h0M183 279h0M182.5 286.5h0M217.5 284h0M197 280.5h0M213 294h0M180 287.5h0M196 280h0M230.5 282.5h0M198.5 274h0M174.5 288h0M176.5 288h0M156 284.5h0M163 277.5h0M211 287h0M150.5 283h0M159.5 281h0M161.5 281.5h0M169.5 282.5h0M194 284h0M222.5 287h0M193.5 286.5h0M226 292.5h0M159 285.5h0M153.5 287.5h0M205 279h0M225 287.5h0M221.5 281.5h0M155 284h0M190 277.5h0M208 292.5h0M186.5 284h0M226.5 281.5h0M182 289.5h0M210.5 290.5h0M164 289h0M168 285.5h0M167.5 275h0M163.5 283h0M195.5 280.5h0M227 294.5h0M223 278.5h0M203.5 287.5h0M210 280h0M167.5 279h0M173 288h0M204 291.5h0M209.5 293.5h0M213 280.5h0M194 278h0M202.5 287.5h0M210 278.5h0M164 274h0M183 280.5h0M188.5 284h0M179 285h0M193 288.5h0M199.5 278.5h0M217.5 288.5h0M176 283.5h0M180 278h0M211.5 279.5h0M152 284.5h0M188.5 282h0M206 291.5h0M161 281h0M171 277.5h0M218.5 281.5h0M194 285.5h0M164.5 277.5h0M211 280h0M146.5 281h0M166.5 291.5h0M200 288.5h0M161.5 286.5h0M183 278h0M201 292.5h0M152.5 283.5h0M159 286h0M212 290.5h0M190 284.5h0M212.5 289h0M208 288.5h0M204.5 277h0M181 284.5h0M165 285.5h0M154.5 283h0M194.5 278.5h0M184 284.5h0M183 281.5h0M196 287.5h0M196.5 275.5h0M213 285h0M216.5 294h0M222.5 286h0M181 279h0M156.5 279h0M186.5 287h0M205.5 275h0M176.5 276.5h0M163 283h0M204 286.5h0M189.5 282.5h0M169 279h0M227 278.5h0M201.5 280h0M215 289h0M217.5 292.5h0M157.5 276.5h0M224.5 282.5h0M214.5 293.5h0M167.5 279.5h0M177 281h0M203.5 292.5h0M180.5 286.5h0M170.5 277h0M209 290h0M194.5 286.5h0M170 282h0M194.5 289h0M223.5 279.5h0M184 291.5h0M183.5 288h0M171.5 289h0M192.5 286.5h0M189 278.5h0M173 284h0M227 288h0M177 290h0M169.5 288.5h0M188 286h0M168 291.5h0M200 286.5h0M169 280.5h0M204 273.5h0M213 280.5h0M220 279.5h0M210 290.5h0M175 288.5h0M220.5 285.5h0M163.5 281.5h0M172 276.5h0M212.5 292h0M209.5 290h0M203.5 289h0M164.5 282.5h0M203.5 276.5h0M211.5 285.5h0M210.5 296.5h0M166.5 283.5h0M156.5 278h0M198 288.5h0M214.5 284h0M162 283.5h0M217.5 291.5h0M207 288h0M173.5 280h0M192.5 280.5h0M165 288.5h0M179 279h0M198 289.5h0M190.5 283h0M217.5 282.5h0M194.5 282h0M167.5 275h0M212 281.5h0M167 287.5h0M199.5 280h0M188 286.5h0M207 285.5h0M186.5 273.5h0M176 282h0M205.5 283.5h0M151.5 287h0M186.5 288.5h0M197 279.5h0M194 276.5h0M181 281.5h0M194.5 286.5h0M205.5 283.5h0M155 286.5h0M174.5 283.5h0M181.5 292h0M195 278.5h0M168.5 281.5h0M211.5 290.5h0M196.5 279h0M219.5 281h0M216 297.5h0M207 283.5h0M172.5 274h0M163 288.5h0M179 286h0M174 275h0M165 288.5h0M206 280.5h0M162 287.5h0M204 287.5h0M208.5 288h0M173.5 284.5h0M211.5 276.5h0M189.5 286h0M184.5 276h0M209.5 290h0M208.5 288.5h0M217 292.5h0M210.5 298.5h0M209.5 291.5h0M169 290h0M162 278.5h0M182 277h0M192 285.5h0M219 292h0M227 287h0M174.5 278.5h0M203 286h0M178.5 281.5h0M177.5 289h0M189.5 340h0M230.5 320.5h0M217 299h0M157.5 300h0M155 334h0M233 324.5h0M163 286h0M218.5 319.5h0M155.5 351.5h0M216.5 349h0M239.5 335.5h0M234 347.5h0M157 302h0M195 324.5h0M156 296.5h0M218.5 349.5h0M188.5 347h0M228.5 344.5h0M160 305h0M207.5 337.5h0M224.5 285h0M209 277.5h0M172 280h0M192 285.5h0M207 307h0M222 300.5h0M240.5 285h0M149 314h0M191.5 340h0M143.5 289.5h0M165.5 309h0M223.5 326.5h0M165 305.5h0M218 318h0M152 303.5h0M143.5 310.5h0M164 299h0M175 341.5h0M149.5 282.5h0M154 308.5h0M184.5 346.5h0M214 296.5h0M154 317.5h0M224.5 293h0M217.5 303.5h0M237 348.5h0M158.5 337h0M200 305.5h0M193 345h0M189 319h0M190.5 277.5h0M217 284h0M231 276.5h0M198 295.5h0M209.5 323.5h0M216 338.5h0M240 284.5h0M164 312.5h0M234 306h0M162 315.5h0M172.5 282h0M222 310.5h0M225.5 283.5h0M175 284.5h0M225.5 310h0M201.5 279.5h0M185 305.5h0M211.5 294h0M239.5 301h0M192.5 311.5h0M175.5 280h0M145 345.5h0M239 322.5h0M154.5 290.5h0M173 278.5h0M175.5 297.5h0M173.5 339.5h0M197 352h0M172 281h0M217.5 331.5h0M223 304h0M222.5 283.5h0M213.5 328.5h0M197.5 322.5h0M187.5 308.5h0M188.5 322h0M226 301.5h0M197 305.5h0M158 329.5h0M141.5 342.5h0" stroke="#e4261e" stroke-opacity="0.7" stroke-width="1.1" stroke-linecap="square" fill="none"/>
<path d="M165.0,334.0C165.0,329.7 166.0,323.8 167.0,320.0C168.0,316.2 169.2,313.3 171.0,311.0C172.8,308.7 174.8,307.2 178.0,306.0C181.2,304.8 185.7,304.5 190.0,304.0C194.3,303.5 200.2,303.7 204.0,303.0C207.8,302.3 210.0,300.4 213.0,300.0C216.0,299.6 219.3,299.3 222.0,300.5C224.7,301.7 227.5,303.4 229.0,307.0C230.5,310.6 230.8,316.5 231.0,322.0C231.2,327.5 231.2,335.5 230.5,340.0C229.8,344.5 229.6,346.9 227.0,349.0C224.4,351.1 220.3,351.8 215.0,352.5C209.7,353.2 201.5,353.2 195.0,353.0C188.5,352.8 180.7,352.7 176.0,351.5C171.3,350.3 168.8,348.9 167.0,346.0C165.2,343.1 165.0,338.3 165.0,334.0Z" fill="#e92a20" opacity="0.9" filter="url(#fblur2)"/>
<path d="M179.5,340.0C179.3,338.3 179.4,332.9 180.0,331.0C180.6,329.1 181.3,329.2 183.0,328.5C184.7,327.8 187.7,327.1 190.0,326.5C192.3,325.9 194.8,326.0 197.0,325.0C199.2,324.0 201.2,322.1 203.0,320.5C204.8,318.9 206.3,316.9 208.0,315.5C209.7,314.1 211.2,312.8 213.0,312.0C214.8,311.2 217.4,310.9 219.0,311.0C220.6,311.1 221.5,311.8 222.5,312.8C223.5,313.8 224.3,314.8 224.8,317.0C225.3,319.2 225.4,323.1 225.4,326.0C225.4,328.9 225.5,332.1 225.0,334.5C224.5,336.9 223.9,338.9 222.6,340.2C221.3,341.4 220.8,341.6 217.0,342.0C213.2,342.4 205.2,342.3 200.0,342.3C194.8,342.3 189.2,342.2 186.0,342.0C182.8,341.8 182.1,341.6 181.0,341.3C179.9,341.0 179.7,341.7 179.5,340.0Z" fill="#ec3220" stroke="#ec3220" stroke-width="21" stroke-linejoin="round" filter="url(#fblur2)"/>
<g filter="url(#fblur)">
<path d="M179.5,340.0C179.3,338.3 179.4,332.9 180.0,331.0C180.6,329.1 181.3,329.2 183.0,328.5C184.7,327.8 187.7,327.1 190.0,326.5C192.3,325.9 194.8,326.0 197.0,325.0C199.2,324.0 201.2,322.1 203.0,320.5C204.8,318.9 206.3,316.9 208.0,315.5C209.7,314.1 211.2,312.8 213.0,312.0C214.8,311.2 217.4,310.9 219.0,311.0C220.6,311.1 221.5,311.8 222.5,312.8C223.5,313.8 224.3,314.8 224.8,317.0C225.3,319.2 225.4,323.1 225.4,326.0C225.4,328.9 225.5,332.1 225.0,334.5C224.5,336.9 223.9,338.9 222.6,340.2C221.3,341.4 220.8,341.6 217.0,342.0C213.2,342.4 205.2,342.3 200.0,342.3C194.8,342.3 189.2,342.2 186.0,342.0C182.8,341.8 182.1,341.6 181.0,341.3C179.9,341.0 179.7,341.7 179.5,340.0Z" fill="#ef441e" stroke="#ef441e" stroke-width="15.5" stroke-linejoin="round"/>
<path d="M179.5,340.0C179.3,338.3 179.4,332.9 180.0,331.0C180.6,329.1 181.3,329.2 183.0,328.5C184.7,327.8 187.7,327.1 190.0,326.5C192.3,325.9 194.8,326.0 197.0,325.0C199.2,324.0 201.2,322.1 203.0,320.5C204.8,318.9 206.3,316.9 208.0,315.5C209.7,314.1 211.2,312.8 213.0,312.0C214.8,311.2 217.4,310.9 219.0,311.0C220.6,311.1 221.5,311.8 222.5,312.8C223.5,313.8 224.3,314.8 224.8,317.0C225.3,319.2 225.4,323.1 225.4,326.0C225.4,328.9 225.5,332.1 225.0,334.5C224.5,336.9 223.9,338.9 222.6,340.2C221.3,341.4 220.8,341.6 217.0,342.0C213.2,342.4 205.2,342.3 200.0,342.3C194.8,342.3 189.2,342.2 186.0,342.0C182.8,341.8 182.1,341.6 181.0,341.3C179.9,341.0 179.7,341.7 179.5,340.0Z" fill="#f25c1e" stroke="#f25c1e" stroke-width="12" stroke-linejoin="round"/>
<path d="M179.5,340.0C179.3,338.3 179.4,332.9 180.0,331.0C180.6,329.1 181.3,329.2 183.0,328.5C184.7,327.8 187.7,327.1 190.0,326.5C192.3,325.9 194.8,326.0 197.0,325.0C199.2,324.0 201.2,322.1 203.0,320.5C204.8,318.9 206.3,316.9 208.0,315.5C209.7,314.1 211.2,312.8 213.0,312.0C214.8,311.2 217.4,310.9 219.0,311.0C220.6,311.1 221.5,311.8 222.5,312.8C223.5,313.8 224.3,314.8 224.8,317.0C225.3,319.2 225.4,323.1 225.4,326.0C225.4,328.9 225.5,332.1 225.0,334.5C224.5,336.9 223.9,338.9 222.6,340.2C221.3,341.4 220.8,341.6 217.0,342.0C213.2,342.4 205.2,342.3 200.0,342.3C194.8,342.3 189.2,342.2 186.0,342.0C182.8,341.8 182.1,341.6 181.0,341.3C179.9,341.0 179.7,341.7 179.5,340.0Z" fill="#f5861e" stroke="#f5861e" stroke-width="9" stroke-linejoin="round"/>
<path d="M179.5,340.0C179.3,338.3 179.4,332.9 180.0,331.0C180.6,329.1 181.3,329.2 183.0,328.5C184.7,327.8 187.7,327.1 190.0,326.5C192.3,325.9 194.8,326.0 197.0,325.0C199.2,324.0 201.2,322.1 203.0,320.5C204.8,318.9 206.3,316.9 208.0,315.5C209.7,314.1 211.2,312.8 213.0,312.0C214.8,311.2 217.4,310.9 219.0,311.0C220.6,311.1 221.5,311.8 222.5,312.8C223.5,313.8 224.3,314.8 224.8,317.0C225.3,319.2 225.4,323.1 225.4,326.0C225.4,328.9 225.5,332.1 225.0,334.5C224.5,336.9 223.9,338.9 222.6,340.2C221.3,341.4 220.8,341.6 217.0,342.0C213.2,342.4 205.2,342.3 200.0,342.3C194.8,342.3 189.2,342.2 186.0,342.0C182.8,341.8 182.1,341.6 181.0,341.3C179.9,341.0 179.7,341.7 179.5,340.0Z" fill="#eee22c" stroke="#eee22c" stroke-width="6.4" stroke-linejoin="round"/>
<path d="M179.5,340.0C179.3,338.3 179.4,332.9 180.0,331.0C180.6,329.1 181.3,329.2 183.0,328.5C184.7,327.8 187.7,327.1 190.0,326.5C192.3,325.9 194.8,326.0 197.0,325.0C199.2,324.0 201.2,322.1 203.0,320.5C204.8,318.9 206.3,316.9 208.0,315.5C209.7,314.1 211.2,312.8 213.0,312.0C214.8,311.2 217.4,310.9 219.0,311.0C220.6,311.1 221.5,311.8 222.5,312.8C223.5,313.8 224.3,314.8 224.8,317.0C225.3,319.2 225.4,323.1 225.4,326.0C225.4,328.9 225.5,332.1 225.0,334.5C224.5,336.9 223.9,338.9 222.6,340.2C221.3,341.4 220.8,341.6 217.0,342.0C213.2,342.4 205.2,342.3 200.0,342.3C194.8,342.3 189.2,342.2 186.0,342.0C182.8,341.8 182.1,341.6 181.0,341.3C179.9,341.0 179.7,341.7 179.5,340.0Z" fill="#7cc83c" stroke="#7cc83c" stroke-width="4.2" stroke-linejoin="round"/>
<path d="M179.5,340.0C179.3,338.3 179.4,332.9 180.0,331.0C180.6,329.1 181.3,329.2 183.0,328.5C184.7,327.8 187.7,327.1 190.0,326.5C192.3,325.9 194.8,326.0 197.0,325.0C199.2,324.0 201.2,322.1 203.0,320.5C204.8,318.9 206.3,316.9 208.0,315.5C209.7,314.1 211.2,312.8 213.0,312.0C214.8,311.2 217.4,310.9 219.0,311.0C220.6,311.1 221.5,311.8 222.5,312.8C223.5,313.8 224.3,314.8 224.8,317.0C225.3,319.2 225.4,323.1 225.4,326.0C225.4,328.9 225.5,332.1 225.0,334.5C224.5,336.9 223.9,338.9 222.6,340.2C221.3,341.4 220.8,341.6 217.0,342.0C213.2,342.4 205.2,342.3 200.0,342.3C194.8,342.3 189.2,342.2 186.0,342.0C182.8,341.8 182.1,341.6 181.0,341.3C179.9,341.0 179.7,341.7 179.5,340.0Z" fill="#2a4ccc" stroke="#2a4ccc" stroke-width="1.8" stroke-linejoin="round"/>
<path d="M179.5,340.0C179.3,338.3 179.4,332.9 180.0,331.0C180.6,329.1 181.3,329.2 183.0,328.5C184.7,327.8 187.7,327.1 190.0,326.5C192.3,325.9 194.8,326.0 197.0,325.0C199.2,324.0 201.2,322.1 203.0,320.5C204.8,318.9 206.3,316.9 208.0,315.5C209.7,314.1 211.2,312.8 213.0,312.0C214.8,311.2 217.4,310.9 219.0,311.0C220.6,311.1 221.5,311.8 222.5,312.8C223.5,313.8 224.3,314.8 224.8,317.0C225.3,319.2 225.4,323.1 225.4,326.0C225.4,328.9 225.5,332.1 225.0,334.5C224.5,336.9 223.9,338.9 222.6,340.2C221.3,341.4 220.8,341.6 217.0,342.0C213.2,342.4 205.2,342.3 200.0,342.3C194.8,342.3 189.2,342.2 186.0,342.0C182.8,341.8 182.1,341.6 181.0,341.3C179.9,341.0 179.7,341.7 179.5,340.0Z" fill="#3f2896"/>
</g>
<line x1="197.7" y1="308" x2="197.7" y2="353.5" stroke="#222" stroke-width="0.5" opacity="0.55"/>
<line x1="213.8" y1="308" x2="213.8" y2="353.5" stroke="#222" stroke-width="0.5" opacity="0.55"/>
<text x="177.7" y="361" font-size="3.2" fill="#555" text-anchor="middle">Low</text>
<text x="206" y="361" font-size="3.2" fill="#555" text-anchor="middle">Mid</text>
<text x="226" y="361" font-size="3.2" fill="#555" text-anchor="middle">Hi</text>
<polygon points="185.3,269.8 185.9,300.2 184.2,300.3 186.9,305.7 189.4,300.1 187.6,300.2 186.9,269.8" fill="#000"/>
<polygon points="185.3,270.2 200.6,301.1 199.0,301.9 203.8,305.7 203.7,299.6 202.1,300.4 186.9,269.4" fill="#000"/>
<polygon points="185.5,270.4 217.2,302.9 215.9,304.2 221.6,306.3 219.6,300.5 218.4,301.8 186.7,269.2" fill="#000"/>
<rect x="273.8" y="270.8" width="101.6" height="104.5" fill="#fff" stroke="#c8c8c8" stroke-width="0.7"/>
<line x1="271.8" y1="270.8" x2="273.8" y2="270.8" stroke="#999" stroke-width="0.5"/>
<text x="271.3" y="271.8" font-size="2.8" fill="#777" text-anchor="end">10<tspan dy="-1" font-size="2">5</tspan></text>
<line x1="273.8" y1="375.3" x2="273.8" y2="377.3" stroke="#999" stroke-width="0.5"/>
<text x="273.8" y="379.8" font-size="2.8" fill="#777" text-anchor="middle">100</text>
<line x1="271.8" y1="291.7" x2="273.8" y2="291.7" stroke="#999" stroke-width="0.5"/>
<text x="271.3" y="292.7" font-size="2.8" fill="#777" text-anchor="end">10<tspan dy="-1" font-size="2">4</tspan></text>
<line x1="294.1" y1="375.3" x2="294.1" y2="377.3" stroke="#999" stroke-width="0.5"/>
<text x="294.1" y="379.8" font-size="2.8" fill="#777" text-anchor="middle">101</text>
<line x1="271.8" y1="312.6" x2="273.8" y2="312.6" stroke="#999" stroke-width="0.5"/>
<text x="271.3" y="313.6" font-size="2.8" fill="#777" text-anchor="end">10<tspan dy="-1" font-size="2">3</tspan></text>
<line x1="314.4" y1="375.3" x2="314.4" y2="377.3" stroke="#999" stroke-width="0.5"/>
<text x="314.4" y="379.8" font-size="2.8" fill="#777" text-anchor="middle">102</text>
<line x1="271.8" y1="333.5" x2="273.8" y2="333.5" stroke="#999" stroke-width="0.5"/>
<text x="271.3" y="334.5" font-size="2.8" fill="#777" text-anchor="end">10<tspan dy="-1" font-size="2">2</tspan></text>
<line x1="334.8" y1="375.3" x2="334.8" y2="377.3" stroke="#999" stroke-width="0.5"/>
<text x="334.8" y="379.8" font-size="2.8" fill="#777" text-anchor="middle">103</text>
<line x1="271.8" y1="354.4" x2="273.8" y2="354.4" stroke="#999" stroke-width="0.5"/>
<text x="271.3" y="355.4" font-size="2.8" fill="#777" text-anchor="end">10<tspan dy="-1" font-size="2">1</tspan></text>
<line x1="355.1" y1="375.3" x2="355.1" y2="377.3" stroke="#999" stroke-width="0.5"/>
<text x="355.1" y="379.8" font-size="2.8" fill="#777" text-anchor="middle">104</text>
<line x1="271.8" y1="375.3" x2="273.8" y2="375.3" stroke="#999" stroke-width="0.5"/>
<text x="271.3" y="376.3" font-size="2.8" fill="#777" text-anchor="end">10<tspan dy="-1" font-size="2">0</tspan></text>
<line x1="375.4" y1="375.3" x2="375.4" y2="377.3" stroke="#999" stroke-width="0.5"/>
<text x="375.4" y="379.8" font-size="2.8" fill="#777" text-anchor="middle">105</text>
<text x="324.6" y="383.6" font-size="3.2" fill="#666" text-anchor="middle">PE (561) CD44 Log_Height Comp</text>
<text transform="translate(263.3,323.1) rotate(-90)" font-size="3.2" fill="#666" text-anchor="middle">DAPI Log_Height Comp</text>
<rect x="276.3" y="298.5" width="88.7" height="54.2" fill="none" stroke="#9a9a9a" stroke-width="0.5"/>
<line x1="318.8" y1="298.5" x2="318.8" y2="352.7" stroke="#666" stroke-width="0.5"/>
<line x1="343" y1="298.5" x2="343" y2="352.7" stroke="#666" stroke-width="0.5"/>
<path d="M288.0,330.0C287.8,326.2 288.7,321.3 290.0,318.0C291.3,314.7 293.5,312.0 296.0,310.0C298.5,308.0 301.0,306.7 305.0,306.0C309.0,305.3 315.5,306.0 320.0,306.0C324.5,306.0 328.7,306.8 332.0,306.0C335.3,305.2 337.0,302.2 340.0,301.0C343.0,299.8 346.7,298.7 350.0,298.5C353.3,298.3 357.5,298.4 360.0,300.0C362.5,301.6 364.0,304.3 365.0,308.0C366.0,311.7 366.0,317.3 366.0,322.0C366.0,326.7 366.0,332.5 365.0,336.0C364.0,339.5 363.3,341.5 360.0,343.0C356.7,344.5 351.7,344.8 345.0,345.0C338.3,345.2 327.5,344.7 320.0,344.5C312.5,344.3 304.8,344.6 300.0,344.0C295.2,343.4 293.0,343.3 291.0,341.0C289.0,338.7 288.2,333.8 288.0,330.0Z" fill="#ee4a44" opacity="0.3" filter="url(#fblur3)"/>
<path d="M336.0,280.0C337.2,278.2 341.0,277.5 345.0,277.0C349.0,276.5 356.7,276.0 360.0,277.0C363.3,278.0 364.5,280.8 365.0,283.0C365.5,285.2 365.8,288.7 363.0,290.0C360.2,291.3 352.2,291.3 348.0,291.0C343.8,290.7 340.0,289.8 338.0,288.0C336.0,286.2 334.8,281.8 336.0,280.0Z" fill="#e8281e" opacity="0.9" filter="url(#fblur2)"/>
<path d="M284.0,282.0C284.8,280.2 289.0,277.8 295.0,277.0C301.0,276.2 312.8,276.7 320.0,277.0C327.2,277.3 335.0,277.2 338.0,279.0C341.0,280.8 341.8,286.3 338.0,288.0C334.2,289.7 323.0,289.0 315.0,289.0C307.0,289.0 295.2,289.2 290.0,288.0C284.8,286.8 283.2,283.8 284.0,282.0Z" fill="#e8281e" opacity="0.55" filter="url(#fblur2)"/>
<path d="M336 319.5h0M338.5 318.5h0M336.5 341.5h0M315.5 297h0M322.5 337.5h0M339.5 346h0M359 347.5h0M294.5 320.5h0M331 320.5h0M311.5 323h0M348.5 334h0M351 307h0M351.5 339.5h0M294.5 320h0M347.5 331.5h0M369 333h0M297 306.5h0M320 304h0M336.5 304h0M307 339.5h0M309.5 338.5h0M321.5 319h0M363 319h0M346 335.5h0M333 298h0M327.5 302h0M342 307h0M339.5 328.5h0M321.5 315.5h0M348 295.5h0M361 343h0M314.5 304.5h0M301 338.5h0M323.5 313.5h0M351 299.5h0M316 341.5h0M320 323.5h0M301 345.5h0M364 319.5h0M351 325h0M318 327.5h0M318.5 329.5h0M350.5 316.5h0M362.5 327.5h0M309 340.5h0M334.5 334h0M304 316.5h0M326 339h0M337.5 336.5h0M356 333.5h0M300 324h0M363 337h0M300.5 307h0M347 313.5h0M361.5 318h0M356.5 312.5h0M350 310h0M311.5 311h0M337 305h0M312 341h0M297.5 319h0M337 325.5h0M313 314.5h0M351.5 324h0M349 325.5h0M315.5 310h0M284 335h0M349.5 332h0M344.5 326.5h0M307 317h0M296.5 310h0M314.5 328.5h0M329.5 340h0M294 336.5h0M344.5 331.5h0M308.5 337.5h0M314 322.5h0M313 304h0M356 312.5h0M337.5 317h0M296.5 317.5h0M305 324.5h0M358 318h0M300.5 341.5h0M308 318.5h0M314.5 313.5h0M315 308h0M286 337.5h0M318 336.5h0M324 309h0M371 314.5h0M308.5 339.5h0M352.5 344h0M371.5 347.5h0M327 334h0M355 341.5h0M343.5 324h0M299.5 354h0M362 331.5h0M342 343.5h0M292.5 335.5h0M314.5 307.5h0M319.5 306h0M303.5 335.5h0M334.5 307h0M331.5 315h0M312.5 326h0M311 308h0M328.5 334.5h0M339.5 345h0M347.5 342h0M330 333.5h0M317.5 345.5h0M349 337.5h0M352.5 331.5h0M356 303.5h0M328.5 342h0M357 336h0M356.5 337h0M337.5 332h0M337 308.5h0M310.5 312h0M322 316h0M363.5 310.5h0M304 328h0M293.5 309h0M343.5 337h0M317.5 336.5h0M338 336.5h0M357 329.5h0M311 319h0M306 336h0M318.5 309h0M358.5 308h0M304.5 316.5h0M348.5 316h0M339 339h0M362.5 325.5h0M328.5 328h0M360.5 322.5h0M317 332h0M342 343.5h0M298 309.5h0M314 325h0M353 335h0M315.5 345.5h0M319 345h0M351 328h0M325.5 310h0M340 344h0M289.5 319h0M366 301.5h0M349 327h0M306 335.5h0M313.5 321h0M301.5 310.5h0M332 344.5h0M299.5 323h0M298 311h0M326.5 321h0M357.5 320h0M324.5 329h0M350 333h0M310.5 337h0M332.5 339.5h0M350 310.5h0M305.5 305h0M295.5 341.5h0M302.5 300h0M306.5 337h0M318 347h0M290 313h0M309.5 340.5h0M305 330h0M349 322h0M349.5 315h0M351.5 352h0M313 332.5h0M290.5 345h0M333.5 330.5h0M293 328h0M315.5 329h0M333.5 340.5h0M291.5 326.5h0M297 343.5h0M326 321h0M346.5 341h0M317.5 331h0M356 332.5h0M355 326h0M347.5 318.5h0M361 317.5h0M369 310h0M325 315.5h0M350 315.5h0M327.5 304h0M291 338h0M307 307.5h0M346 304.5h0M358.5 332h0M279.5 345h0M360.5 304h0M310.5 315h0M316.5 324.5h0M333 305.5h0M307 307.5h0M318.5 333.5h0M352 308.5h0M308.5 337h0M295 306.5h0M340.5 323.5h0M294 321.5h0M316 307.5h0M318.5 326.5h0M349 332h0M357.5 329.5h0M352.5 310.5h0M349 302h0M349.5 351h0M335 324h0M318.5 317.5h0M307 313.5h0M303 338h0M337.5 344h0M361.5 307.5h0M341 343h0M317 313.5h0M353 334.5h0M292 337.5h0M307 328.5h0M303 341.5h0M296.5 330.5h0M323.5 346h0M332.5 329.5h0M318.5 346.5h0M307 349.5h0M300 332h0M336 307h0M360 313.5h0M323.5 325.5h0M313 332.5h0M311 312.5h0M318 330h0M309 336.5h0M347 314h0M347 305h0M352.5 313.5h0M327.5 309h0M345 302h0M325.5 309h0M345 331.5h0M316.5 315.5h0M326 318h0M296.5 320.5h0M351.5 335h0M356 335h0M340.5 313.5h0M310 319h0M360 325h0M356.5 342.5h0M339 340h0M354 317h0M329.5 311h0M343.5 307h0M332 321.5h0M339 300h0M340 347.5h0M319 324.5h0M325.5 333.5h0M328 330h0M315 305.5h0M309 306h0M348.5 323.5h0M367.5 311.5h0M292.5 336h0M347 316h0M334.5 310h0M305 331.5h0M303 337h0M337 333.5h0M365.5 315h0M348 324h0M297 327.5h0M339 307h0M310 335h0M297 345.5h0M346.5 313.5h0M321.5 311.5h0M360.5 330.5h0M342.5 321h0M358.5 320h0M329 333h0M352 327.5h0M351 312h0M343.5 337.5h0M293 333h0M301 315h0M315.5 331h0M355.5 325h0M360.5 333.5h0M362 339h0M281.5 313h0M339 322.5h0M330 324.5h0M346 306h0M360.5 311.5h0M312 330.5h0M319.5 322.5h0M306 331.5h0M357.5 320h0M363 332.5h0M353.5 338.5h0M341.5 344h0M365.5 323.5h0M335 317h0M357.5 321.5h0M304.5 317.5h0M339 347h0M294.5 311h0M338.5 330h0M339.5 337.5h0M320.5 307.5h0M325.5 317.5h0M354 332.5h0M340.5 332h0M300.5 332h0M320.5 345h0M310.5 332.5h0M318 305h0M289.5 340.5h0M342.5 323h0M366 337.5h0M323.5 340.5h0M325.5 327.5h0M314 314.5h0M332.5 328.5h0M352 306h0M325 336h0M365 326h0M321.5 332.5h0M351 328.5h0M334 348h0M322.5 318h0M304.5 337h0M300.5 333.5h0M343 325h0M317 329h0M329 319h0M349.5 315.5h0M299 326h0M332.5 325.5h0M320.5 341h0M349 313h0M314.5 331h0M346.5 327.5h0M360.5 309.5h0M308 338.5h0M370 322h0M313 339.5h0M319.5 334.5h0M347.5 321.5h0M362 328h0M301 332h0M342 319h0M349.5 306h0M302.5 318.5h0M347 313.5h0M330 305h0M327 322.5h0M347.5 310h0M301 299h0M361 329.5h0M315 332.5h0M330.5 341h0M348 325.5h0M304.5 344.5h0M327.5 324h0M337 332h0M309.5 331.5h0M318.5 320h0M332 332.5h0M330.5 320.5h0M320 316.5h0M361.5 332h0M314 340h0M323 317.5h0M322 335h0M349 313.5h0M315.5 307h0M301.5 336.5h0M318.5 339h0M330.5 308.5h0M306.5 326h0M326 312.5h0M343 331h0M336 336h0M307.5 328h0M313 320.5h0M351.5 303h0M354.5 335.5h0M322 340.5h0M299 333.5h0M341 335.5h0M302 318h0M335 345.5h0M358 321.5h0M298.5 318h0M299 319h0M354 310h0M292.5 319.5h0M361.5 309h0M344 319h0M346 335h0M310.5 309.5h0M348.5 333.5h0M362 316.5h0M357 308h0M326 308.5h0M355 300.5h0M323 304h0M316 333.5h0M300 334h0M361 308h0M319 330h0M333.5 342h0M316 308.5h0M329 326h0M298.5 339h0M318 345h0M324 310h0M353 338.5h0M349 337h0M361 306h0M364 344h0M294.5 332.5h0M297 328.5h0M323 308.5h0M306.5 323h0M318 333h0M298.5 335h0M314.5 318.5h0M361.5 311h0M307.5 329h0M338 338h0M347.5 313.5h0M345.5 313h0M322.5 347.5h0M321 326.5h0M335.5 320.5h0M347 339h0M295.5 321h0M341 324.5h0M334.5 332h0M290 324.5h0M330.5 324.5h0M297 332h0M337.5 336h0M291.5 309.5h0M320 320.5h0M331 302.5h0M330 322.5h0M327.5 318h0M329 329h0M318 315h0M367.5 328.5h0M304.5 324h0M356 330h0M332 313.5h0M313 328h0M307 345h0M317 335.5h0M317 345h0M351 298.5h0M307 340.5h0M343.5 335.5h0M339 330h0M321.5 328h0M335.5 328.5h0M364 304h0M312 311h0M366.5 330h0M336 307.5h0M351 334h0M374 311h0M335 331.5h0M317 334.5h0M334 329h0M325.5 327h0M348.5 307.5h0M341.5 321h0M325 340h0M333 308h0M323.5 317h0M350.5 330h0M349 336.5h0M330 332h0M345 314h0M288.5 345h0M365 326.5h0M319.5 324.5h0M353 312.5h0M346.5 337.5h0M346 313.5h0M339 341h0M344.5 334h0M348.5 318.5h0M354.5 318h0M340 328h0M362 318.5h0M297.5 334.5h0M280.5 328h0M304.5 343.5h0M338.5 320.5h0M340 313h0M304.5 334h0M316 319.5h0M368.5 312.5h0M357 299.5h0M317 309.5h0M362.5 307.5h0M355 310h0M366.5 305h0M359.5 321.5h0M363.5 332.5h0M319 343h0M300.5 313h0M342.5 322.5h0M300.5 301.5h0M309.5 306.5h0M349.5 345.5h0M350.5 327.5h0M364.5 320.5h0M296 333.5h0M309.5 342h0M357 330h0M307 336h0M307 334h0M366 317.5h0M308.5 317.5h0M318.5 316h0M358.5 321.5h0M339.5 343.5h0M350 318.5h0M321 300.5h0M324 312h0M319.5 330.5h0M307.5 327.5h0M342 327h0M307 332h0M341.5 339.5h0M331.5 319h0M309.5 332h0M320 339h0M309 321.5h0M287.5 308.5h0M303.5 315.5h0M344.5 342.5h0M312.5 323h0M293.5 331h0M309.5 317.5h0M337 313h0M300.5 337.5h0M353.5 325.5h0M351 308.5h0M311.5 342h0M304.5 338.5h0M288.5 318.5h0M330.5 317.5h0M348 311h0M311 313.5h0M367.5 340.5h0M319 343.5h0M342.5 323h0M302.5 327.5h0M334.5 311h0M306 336h0M353 314h0M354.5 313.5h0M354.5 301h0M353 319h0M327.5 307h0M289.5 342h0M309 327h0M288 343.5h0M336.5 336h0M298 313.5h0M318.5 341.5h0M300.5 329h0M336.5 342.5h0M345.5 332.5h0M352.5 343h0M361 304h0M359.5 317.5h0M350 328.5h0M358.5 315.5h0M298.5 345.5h0M351 310.5h0M313 303h0M326 313.5h0M345.5 348h0M322.5 307h0M360 319h0M305 309.5h0M345 339h0M314 318.5h0M308 332h0M328 334.5h0M356 329h0M349 337.5h0M316.5 331h0M312 338.5h0M293 336h0M339 320.5h0M298 318h0M331.5 312h0M353 306.5h0M296.5 332.5h0M357.5 312.5h0M290.5 314h0M286.5 313.5h0M332.5 341h0M322.5 317.5h0M362 326.5h0M316 311h0M335.5 339h0M336.5 315.5h0M298 341h0M333 305h0M301 330h0M293.5 340h0M360 325h0M371 342.5h0M342 349h0M323.5 337.5h0M348.5 347.5h0M343 336.5h0M297.5 328.5h0M329.5 343.5h0M343 303h0M364 319h0M329 333.5h0M322 324h0M296.5 319.5h0M334 318h0M356 307.5h0M332.5 331h0M290 326.5h0M321 331.5h0M314.5 315h0M358.5 319h0M357 318.5h0M324.5 304.5h0M327 342.5h0M308 313.5h0M354 325.5h0M320 307h0M346 338h0M341 318.5h0M301 308h0M320.5 306h0M335 306.5h0M317.5 334h0M296.5 338h0M363 315.5h0M368.5 330h0M325 311h0M313 310.5h0M306.5 337.5h0M315.5 342.5h0M325.5 351h0M291 334.5h0M293 320.5h0M314 308h0M311.5 316.5h0M332 321.5h0M290.5 341.5h0M319 343h0M363.5 336.5h0M288 334h0M343.5 337h0M307.5 338h0M306 317h0M354.5 328.5h0M325.5 340h0M341.5 342.5h0M322.5 311.5h0M301.5 329.5h0M309 313.5h0M327.5 307.5h0M328.5 316h0M288.5 307.5h0M316.5 338h0M364 331.5h0M362 308.5h0M316.5 335.5h0M367 326h0M287 347.5h0M344 307h0M335 310h0M359 318.5h0M338.5 330h0M339 313.5h0M294 331.5h0M328 311.5h0M301 342.5h0M301.5 343h0M341 302.5h0M364 324.5h0M356 310h0M307.5 324.5h0M305.5 328.5h0M296 315h0M324.5 329h0M349 332.5h0M356.5 306.5h0M312 337.5h0M305 321h0M335.5 333h0M341.5 305.5h0M302 327h0M349.5 337h0M306 344.5h0M352 318h0M351 302.5h0M323.5 316h0M356.5 322.5h0M358 313h0M342 320.5h0M362 302h0M344 320.5h0M335 333.5h0M358 339h0M302 326h0M340.5 314.5h0M341 306h0M305.5 344.5h0M295.5 331h0M332.5 347.5h0M305.5 348.5h0M350 340.5h0M322 303h0M300 321h0M283 312.5h0M361.5 306h0M329 339.5h0M332 314h0M365 313h0M311 321.5h0M286.5 343.5h0M319.5 314.5h0M322 307.5h0M327 339.5h0M311 323.5h0M316 314h0M308.5 327.5h0M363.5 327h0M355.5 307.5h0M355.5 307.5h0M330 340.5h0M297 315h0M342.5 330.5h0M329 344.5h0M307.5 341.5h0M335 332h0M317.5 324h0M355 321h0M312 335h0M338.5 301.5h0M345 301h0M348 313.5h0M316.5 335h0M300 317.5h0M288 318.5h0M291 336h0M350.5 330h0M317 324h0M353 335.5h0M356 330.5h0M287.5 347h0M319 314h0M339.5 287h0M309 329h0M360.5 327h0M342.5 293.5h0M306.5 344h0M300.5 338h0M319.5 342h0M360.5 310h0M310.5 323.5h0M325 332.5h0M323.5 334.5h0M288 341.5h0M305 315.5h0M357.5 332.5h0M299 337h0M351 301.5h0M303.5 312.5h0M338 308.5h0M327 308h0M327 333h0M358 295.5h0M345 309h0M325 319h0M295 325h0M330.5 344.5h0M298.5 327h0M320.5 338.5h0M331.5 327h0M326 314h0M358 302h0M301 323.5h0M320.5 317.5h0M354.5 319h0M316 329h0M342.5 325.5h0M323.5 333.5h0M351 333h0M308 332.5h0M329 332.5h0M302 332.5h0M358.5 328.5h0M332 322h0M364.5 317.5h0M371.5 308h0M344.5 298h0M299 313h0M311.5 343h0M332.5 326.5h0M358 329h0M330 317.5h0M320.5 337h0M321 312h0M345 315h0M311.5 315.5h0M300.5 343.5h0M344.5 327h0M338.5 318.5h0M339 315.5h0M314 307h0M360 306h0M353.5 337h0M369.5 315.5h0M310 335.5h0M312.5 333.5h0M355 335.5h0M362 331h0M301 321h0M349.5 316.5h0M329 318.5h0M334 341.5h0M305.5 320.5h0M353 345h0M324 322.5h0M317 312h0M325 312.5h0M346 314.5h0M352.5 323h0M332 316h0M364.5 321h0M354 310h0M322 312.5h0M339 336h0M330.5 299h0M298.5 334.5h0M355 334h0M344 314h0M305 326.5h0M296 325h0M327.5 348.5h0M354 338h0M341.5 310.5h0M330.5 324h0M349 320.5h0M305.5 334h0M319.5 333.5h0M338.5 318h0M323 312h0M325 338h0M339.5 337h0M311.5 341.5h0M338 329.5h0M326 336h0M325 332.5h0M310 340h0M351 315.5h0M325.5 347.5h0M315 330.5h0M298 328.5h0M361 334h0M339 324.5h0M314 312h0M321 333h0M353.5 319.5h0M303.5 324h0M335 342h0M301 345h0M324 334.5h0M332.5 329.5h0M340 322.5h0M346 339h0M320 345.5h0M326 323h0M305.5 322h0M308 318.5h0M309 340h0M348 297.5h0M314 328.5h0M314 298h0M324.5 339.5h0M329 334.5h0M324 345h0M325.5 310.5h0M317 331h0M339 339.5h0M289 331.5h0M320.5 313h0M333.5 339.5h0M346.5 332.5h0M300 329.5h0M364.5 338h0M319 337h0M329.5 338.5h0M344 331.5h0M305 321.5h0M327 314.5h0M358.5 354.5h0M315.5 309.5h0M303.5 306h0M332.5 307h0M301.5 331h0M323.5 314.5h0M298.5 334.5h0M363.5 328h0M337.5 342h0M331 334.5h0M350.5 319.5h0M325 339h0M325.5 309.5h0M362 323h0M331.5 315.5h0M353 311h0M312.5 318h0M361.5 323h0M359 307.5h0M323.5 323.5h0M356 309.5h0M330.5 312h0M295 347.5h0M315 317h0M337 333.5h0M319.5 320.5h0M290 336h0M322 337.5h0M332 324h0M322 334h0M300.5 324h0M349.5 345.5h0M341.5 312.5h0M317 341.5h0M345.5 322.5h0M319 340h0M297 318.5h0M360.5 307.5h0M338.5 331.5h0M335 325.5h0M310.5 309h0M323.5 328h0M293 325h0M296 325h0M313.5 339h0M350.5 323h0M329.5 323h0M363.5 316h0M296.5 330.5h0M329 343.5h0M293 333.5h0M315.5 336h0M345 311.5h0M299.5 334.5h0M291.5 320.5h0M350 299.5h0M359.5 301h0M354 307.5h0M331.5 316h0M289 324h0M308 310h0M361 324.5h0M314 334h0M293 342.5h0M308 318h0M339 324.5h0M344.5 342h0M304 339.5h0M352.5 344.5h0M346 309.5h0M338.5 310.5h0M305 311.5h0M349.5 324.5h0M344 295h0M323.5 324.5h0M340.5 324.5h0M311.5 307.5h0M306 330h0M353 317.5h0M349 333h0M326 321h0M339 326.5h0M317.5 325.5h0M348.5 340h0M356 335h0M332 303.5h0M361.5 341h0M351.5 320h0M286.5 323.5h0M355 335h0M329 317.5h0M344.5 320h0M331 325.5h0M311 323.5h0M305 343h0M345.5 306.5h0M346 321.5h0M322 316h0M341.5 327.5h0M358 307.5h0M309.5 330h0M350.5 335h0M318 329h0M356.5 310.5h0M357 314.5h0M344 301.5h0M360.5 310.5h0M357 311.5h0M317 308h0M302 331.5h0M351 313h0M307.5 337h0M360.5 327h0M359.5 309.5h0M318 317h0M346.5 318.5h0M324.5 313h0M332.5 338.5h0M355.5 331h0M343 312.5h0M359 307h0M305 340.5h0M366.5 312.5h0M281.5 329.5h0M351.5 318h0M365 317h0M300 326.5h0M357 322h0M301.5 332h0M303.5 315.5h0M284.5 334.5h0M332.5 330h0M322.5 346.5h0M346 318.5h0M315 342.5h0M329.5 331h0M336 334.5h0M301.5 322.5h0M310.5 327.5h0M358.5 306.5h0M345 348.5h0M338 349h0M362.5 333.5h0M347 316.5h0M322.5 317.5h0M304 308h0M357.5 330.5h0M304 306.5h0M323.5 306.5h0M302 341h0M356 334.5h0M322.5 316.5h0M327.5 346h0M313.5 310h0M304 347.5h0M322 334h0M334.5 330.5h0M321 317.5h0M328 345h0M363.5 331h0M293.5 314h0M331 321.5h0M354.5 320.5h0M352 310.5h0M363.5 306h0M337.5 311h0M351.5 301.5h0M292 305h0M348 343h0M299 334.5h0M315 315h0M361 334h0M329.5 313.5h0M329.5 319h0M310 329h0M305.5 333h0M330 319.5h0M367.5 314h0M295.5 338h0M296 324.5h0M362.5 328.5h0M369 320.5h0M308 315.5h0M338 309h0M299 345.5h0M299 332h0M314.5 339.5h0M302 339.5h0M320.5 318h0M354.5 295.5h0M355 310h0M325 322h0M344.5 331h0M350 323h0M303.5 321h0M364.5 333.5h0M356.5 317h0M293.5 347h0M332.5 344.5h0M364.5 313.5h0M324.5 302.5h0M303.5 323h0M346 335h0M349.5 321.5h0M345.5 338h0M351.5 337.5h0M322 348.5h0M345.5 327.5h0M331.5 315h0M335.5 310.5h0M318 315.5h0M305 321h0M317 308h0M311.5 322.5h0M286 349.5h0M300 323.5h0M291 334h0M344 317.5h0M308.5 325h0M341.5 325h0M351.5 332h0M342 314.5h0M327 320h0M343.5 342h0M335 307h0M289.5 325h0M323 323.5h0M346.5 304h0M332.5 324.5h0M300.5 340h0M332.5 308h0M361.5 329h0M350 323h0M356.5 341.5h0M328 325h0M338 339h0M361.5 327h0M302 314.5h0M307.5 324.5h0M321 312.5h0M312.5 313h0M332 350h0M344.5 333h0M327 316.5h0M298.5 312h0M331 318.5h0M317 326h0M369.5 331.5h0M362.5 325.5h0M289.5 342h0M304.5 314h0M332.5 311h0M347 307.5h0M363 302.5h0M326 322h0M357 315h0M354 310h0M355 332.5h0M315.5 334.5h0M344.5 302.5h0M304.5 330h0M366 298.5h0M354.5 301h0M315 312.5h0M310 318h0M322.5 314h0M305.5 324.5h0M340.5 324h0M314 309h0M288.5 320.5h0M343.5 323.5h0M288.5 333.5h0M348 339h0M316.5 338h0M347.5 335h0M345 333.5h0M347 347h0M322.5 316h0M328.5 329h0M297.5 310.5h0M365 327h0M285.5 324h0M359.5 334h0M353 309.5h0M345.5 313.5h0M324 313.5h0M297.5 325.5h0M329 325.5h0M326 323h0M313 314.5h0M349.5 323h0M310.5 317h0M348 328.5h0M327 312.5h0M348 336h0M342.5 307.5h0M320.5 333h0M358 312.5h0M324.5 336.5h0M301 333h0M315 311.5h0M315 334h0M303 350.5h0M336.5 321h0M310 318h0M309 310.5h0M344 310.5h0M356 313.5h0M321.5 336.5h0M306.5 341.5h0M341 320h0M308.5 318.5h0M341 324h0M335.5 332.5h0M294 328h0M350 325.5h0M333 322h0M305 339h0M334.5 324.5h0M306 311h0M326.5 335.5h0M366 302h0M371 334h0M357 296.5h0M296.5 326h0M340.5 341.5h0M337.5 310h0M295 326.5h0M352.5 330h0M329 302.5h0M354 335.5h0M348 317h0M332 341h0M337.5 307h0M301 319h0M347 316h0M300.5 339h0M313.5 322h0M308.5 341.5h0M338.5 322.5h0M325.5 307h0M338.5 325h0M342 319.5h0M358 331.5h0M353.5 327h0M286 318.5h0M318 333h0M345.5 348h0M327.5 316h0M337 329.5h0M320 312.5h0M354.5 303.5h0M323.5 332.5h0M353.5 337h0M319.5 325.5h0M326.5 323h0M326 319h0M305.5 352.5h0M352 329.5h0M306 311.5h0M299.5 317h0M324.5 309h0M332 319.5h0M348.5 317h0M289.5 323.5h0M343.5 314.5h0M319 332.5h0M358.5 311h0M307.5 330h0M359.5 323h0M315.5 334h0M297 319.5h0M355.5 331.5h0M319.5 336h0M346 318h0M301 315.5h0M331 320.5h0M293 328h0M285 321h0M299.5 336.5h0M294.5 329.5h0M361 344.5h0M366 318.5h0M313 363h0M364.5 316.5h0M311.5 307.5h0M306.5 333.5h0M348.5 317h0M337.5 318.5h0M321.5 314h0M310.5 310h0M305 332h0M356.5 320h0M326.5 335h0M351 347.5h0M354 331.5h0M318 313h0M356.5 298h0M315.5 310h0M294 341.5h0M275.5 312.5h0M311 347.5h0M333 316h0M361.5 322.5h0M332 319h0M318.5 323.5h0M298 341h0M295 331h0M300.5 305.5h0M332 328h0M351.5 346h0M320 334h0M323.5 322h0M326 308h0M352.5 339.5h0M305.5 302.5h0M313 324.5h0M312 336h0M347 329h0M302 302h0M312.5 330.5h0M333 309h0M323.5 300h0M295 318h0M331 311.5h0M320.5 333h0M327.5 328.5h0M350 325.5h0M351 298.5h0M320.5 318h0M330.5 324h0M318 333.5h0M304.5 313h0M298 346h0M324.5 326h0M368 341h0M325 338.5h0M357.5 303h0M320 341.5h0M362 305.5h0M322.5 337h0M325.5 316h0M316.5 328h0M327.5 321.5h0M322.5 320h0M343 322h0M311.5 324.5h0M297.5 321.5h0M302.5 324h0M351 304.5h0M356.5 306.5h0M347.5 311h0M299.5 325.5h0M328.5 340h0M357 338.5h0M319 316h0M293 319.5h0M350.5 337h0M354 315h0M313.5 327h0M326.5 310.5h0M291.5 321.5h0M295.5 325.5h0M336.5 339h0M350.5 328h0M281.5 346.5h0M331.5 329.5h0M314.5 313h0M334.5 318.5h0M332.5 320h0M312.5 329.5h0M345.5 300h0M339.5 330.5h0M292.5 329h0M320 334h0M338.5 329.5h0M365.5 315h0M322 309.5h0M312.5 351h0M331 319.5h0M358.5 301h0M330.5 311h0M297.5 345h0M364 308h0M353 340h0M311.5 306.5h0M316.5 320.5h0M339.5 326h0M334 318h0M304 312h0M359.5 300h0M356.5 340.5h0M319.5 326.5h0M310 338.5h0M334 319h0M344 303h0M337.5 331h0M349 336.5h0M336 303h0M320 317h0M315 325.5h0M318 315.5h0M293.5 322h0M344 336h0M310.5 322.5h0M303.5 314.5h0M338 308.5h0M290.5 332h0M361.5 309.5h0M335.5 319.5h0M304 301h0M360.5 307h0M296 342h0M326.5 329h0M297.5 344h0M309.5 333h0M348.5 307h0M300.5 344.5h0M295.5 322.5h0M329 316.5h0M308.5 332.5h0M331 323h0M344.5 311.5h0M312 302.5h0M332.5 305.5h0M331 334.5h0M359.5 335h0M295 308h0M283.5 333h0M346.5 328.5h0M354.5 313h0M308 318h0M359.5 308.5h0M334.5 333h0M344 316h0M344 342h0M359 315h0M309 325.5h0M367.5 331h0M320.5 314h0M353 331.5h0M288.5 321.5h0M306.5 324h0M295.5 324h0M350 340.5h0M294 333.5h0M303 335h0M312 335h0M336.5 328.5h0M329.5 343h0M353 304.5h0M341.5 323h0M355 321h0M327 333.5h0M311 327h0M316 325h0M345.5 308h0M365 330.5h0M290 331.5h0M297.5 330.5h0M314 310h0M336 295.5h0M326 307.5h0M330.5 314h0M292.5 330.5h0M306.5 320.5h0M279.5 330h0M346.5 327h0M303 307.5h0M335 303.5h0M342.5 336.5h0M349.5 319h0M364.5 325h0M352 333.5h0M340.5 323h0M315 338h0M326 339.5h0M338 318.5h0M336.5 315.5h0M308 320.5h0M303 306h0M316.5 326.5h0M290 318h0M324 343.5h0M353.5 331h0M354.5 326.5h0M345 333.5h0M330 322h0M294.5 338h0M292 328h0M355 316.5h0M363.5 317h0M361.5 340.5h0M360.5 310.5h0M324 338h0M355.5 307h0M327.5 329.5h0M308 322.5h0M339 312.5h0M310 322h0M323.5 328.5h0M294 325h0M328 343h0M347.5 333h0M301 324.5h0M338.5 308h0M356.5 321h0M346.5 328h0M340 305h0M357 323h0M347.5 337.5h0M296.5 312.5h0M336 337.5h0M346.5 311.5h0M335 302.5h0M360.5 332.5h0M293.5 320.5h0M307 342h0M323.5 316.5h0M353 318.5h0M344 338h0M328.5 322h0M360 316h0M348.5 306.5h0M319 337.5h0M314 328.5h0M330.5 317.5h0M343 301h0M345.5 330h0M308 338.5h0M367 337h0M341.5 299.5h0M311.5 307.5h0M332.5 315.5h0M287.5 340.5h0M294.5 330h0M350 299h0M292 307.5h0M313 342.5h0M329 332h0M328.5 316h0M332 341.5h0M305 303h0M338 322h0M351 314.5h0M319 333.5h0M292.5 326.5h0M285 322.5h0M299 322h0M346 324h0M308.5 319h0M360 327h0M357 307h0M359.5 321h0M337 339.5h0M301 339.5h0M312.5 311.5h0M357 330h0M359.5 342.5h0M313 335h0M340.5 328h0M358.5 332.5h0M309.5 315.5h0M304 311h0M332 310.5h0M318 341.5h0M308 317h0M332.5 320.5h0M284.5 329h0M306.5 332.5h0M314.5 322h0M297 316h0M349.5 343.5h0M313.5 343h0M301 311.5h0M340.5 325.5h0M296.5 322h0M315.5 315h0M348.5 320h0M323.5 323h0M310 316h0M321 327.5h0M308 326h0M335.5 338h0M369.5 334h0M314 322h0M365 324.5h0M310 353h0M362 336.5h0M329.5 313h0M298 341h0M346 318.5h0M359 303.5h0M309.5 335h0M333 323.5h0M323.5 332.5h0M345 311h0M328.5 326h0M367 323.5h0M297.5 315.5h0M319.5 346h0M342 352h0M362 298.5h0M350.5 305h0M333.5 304.5h0M309.5 343h0M305.5 316h0M370 336.5h0M340.5 339.5h0M351 338.5h0M342.5 339h0M313.5 332h0M325 337.5h0M316.5 306h0M341.5 326.5h0M308.5 329.5h0M305.5 311.5h0M318 336h0M303.5 326h0M296 326.5h0M293.5 318h0M306 325.5h0M298 336.5h0M310.5 339.5h0M367 317.5h0M304 320.5h0M333.5 328h0M324 313h0M297.5 319h0M362.5 310h0M341.5 320.5h0M287.5 327.5h0M333 307.5h0M350.5 342h0M362.5 319h0M338 322h0M322 339.5h0M364.5 309.5h0M355.5 323.5h0M337 314h0M345 318h0M335.5 320.5h0M337 313.5h0M356 323.5h0M359.5 305h0M349.5 308.5h0M358 329h0M289 324h0M337.5 306h0M322 309.5h0M324.5 319h0M288 314h0M330.5 319h0M347.5 346h0M360 321h0M305.5 314h0M338.5 323.5h0M341 342.5h0M334.5 338h0M332.5 313h0M344.5 308.5h0M340 335.5h0M350 307.5h0M339 336h0M318.5 307.5h0M334.5 317.5h0M331.5 304.5h0M331 333h0M350.5 332.5h0M336.5 341h0M319 327.5h0M324.5 318.5h0M299.5 307.5h0M297.5 328.5h0M333 316.5h0M344.5 304h0M314 315.5h0M324 317h0M337 299.5h0M330.5 323.5h0M293.5 326h0M292.5 340.5h0M313.5 341.5h0M365 333.5h0M349 304h0M335.5 329h0M364 310h0M335 339h0M346 330h0M300 326.5h0M352.5 316h0M360.5 302.5h0M343.5 327.5h0M321 333.5h0M301.5 321h0M293.5 307.5h0M297.5 323h0M319 308h0M301.5 332h0M299.5 335h0M300.5 331.5h0M305.5 322h0M315.5 312.5h0M313.5 330.5h0M336 338.5h0M302 321.5h0M284 343h0M361.5 344.5h0M328.5 325.5h0M354 324h0M342 306.5h0M355 334h0M328.5 318.5h0M334.5 323h0M338.5 301h0M315.5 356.5h0M322 335.5h0M298.5 340.5h0M343 301.5h0M333.5 328.5h0M332 345h0M306 343h0M360.5 303.5h0M369 336h0M306 323.5h0M345.5 291h0M349.5 327.5h0M322 310.5h0M328 346h0M374 321.5h0M342 317h0M302.5 320.5h0M297.5 324.5h0M346.5 331.5h0M297 333h0M329 317.5h0M315 318.5h0M323.5 328h0M318.5 325.5h0M315 350.5h0M322.5 320h0M322.5 322.5h0M311 308h0M337.5 327h0M366.5 303h0M348.5 328.5h0M315 333.5h0M327.5 330.5h0M314.5 328h0M299 331h0M328.5 328.5h0M326.5 329h0M303.5 332.5h0M349 319.5h0M324.5 347h0M304 329.5h0M342.5 334h0M357.5 340h0M344.5 342.5h0M296 334.5h0M339 344.5h0M296.5 336h0M332.5 349h0M297.5 335h0M316.5 323h0M345 344h0M327 324h0M336 339h0M362.5 331.5h0M333 308h0M323 321h0M349 312h0M300 324.5h0M345 341.5h0M297.5 324.5h0M357 331.5h0M342 327.5h0M304 325.5h0M293 306h0M343 319.5h0M322.5 304h0M360.5 330h0M354 304.5h0M350.5 329.5h0M319 320h0M358 342h0M319 341.5h0M346.5 327.5h0M305 322h0M303.5 354.5h0M287.5 331.5h0M333 324.5h0M342 312h0M357.5 308h0M347 325.5h0M365 330h0M320.5 308h0M302.5 313.5h0M320 340h0M349 299.5h0M352 313.5h0M370.5 324h0M325.5 348.5h0M365 340.5h0M323 335h0M323 331h0M355.5 331.5h0M311.5 341h0M345 335.5h0M327 312.5h0M308 324h0M340.5 310.5h0M328.5 323h0M348.5 338h0M312.5 320.5h0M361 331h0M326 315h0M353 336h0M342 339.5h0M361 344.5h0M326 319.5h0M328.5 327.5h0M343 328.5h0M329 304h0M319 316h0M342 326h0M337.5 302.5h0M350 323.5h0M335 343h0M353.5 310h0M305 329.5h0M346.5 313h0M333.5 308h0M359 317h0M309.5 343h0M344.5 307.5h0M344.5 296.5h0M307.5 344.5h0M346.5 300h0M349.5 302.5h0M316.5 317.5h0M310 331h0M278.5 326h0M311 306.5h0M313 333.5h0M342.5 344h0M342.5 339.5h0M357.5 319h0M323 321h0M296.5 331.5h0M357 336.5h0M332 304.5h0M352 303.5h0M350.5 319.5h0M351 301.5h0M305.5 331h0M356.5 326h0M306.5 329.5h0M343.5 335.5h0M341.5 310h0M321.5 316h0M312.5 319h0M359 322h0M292 330.5h0M368 305.5h0M314 323.5h0M360 327h0M311.5 336.5h0M325.5 309.5h0M309 339h0M370 316.5h0M359.5 325.5h0M311 331.5h0M310 330h0M351.5 319h0M324 333.5h0M298.5 335.5h0M303.5 339h0M335 320h0M295.5 350h0M315.5 346h0M329.5 322h0M338 328.5h0M358.5 324h0M336 339.5h0M357.5 343.5h0M301.5 327h0M325 314.5h0M320.5 329.5h0M335 334h0M300.5 343h0M335.5 324.5h0M344.5 327h0M289.5 318.5h0M318 302.5h0M298.5 338.5h0M325.5 333h0M352.5 304h0M336 314.5h0M335 340.5h0M323.5 337h0M346.5 347.5h0M306.5 336h0M293 336h0M369.5 322.5h0M335 329.5h0M338 314.5h0M319.5 329h0M364 299.5h0M314.5 330.5h0M365.5 310h0M347 306.5h0M348 348h0M347 296.5h0M332 315h0M348.5 321.5h0M307 355.5h0M354 337.5h0M343 339.5h0M361.5 313h0M336 320.5h0M293 334.5h0M301 325.5h0M287 322.5h0M351 331.5h0M358.5 303h0M331.5 341.5h0M315.5 325.5h0M328.5 328.5h0M344 339h0M331.5 316.5h0M296.5 320.5h0M335 321.5h0M320.5 296.5h0M327.5 335.5h0M361 343.5h0M351 311h0M306 304.5h0M309.5 338h0M327 320h0M367.5 296h0M364.5 290.5h0M345 308h0M346 334h0M320 333.5h0M315.5 330h0M348 322.5h0M313 337.5h0M339 293h0M344.5 293h0M344 294h0M333 303h0M293 308h0M321 313.5h0M303.5 342h0M361.5 332.5h0M336 323.5h0M318 345.5h0M349.5 304.5h0M296.5 305.5h0M337 295.5h0M362.5 336h0M357 332.5h0M321.5 338.5h0M341 318h0M339 334.5h0M303 331h0M330 336h0M337 327.5h0M310.5 322h0M333 323.5h0M326.5 348.5h0M352 327h0M361.5 315h0M342.5 308.5h0M306.5 313h0M308 339h0M343.5 331.5h0M319.5 324h0M328.5 318h0M350 318.5h0M343.5 312h0M321.5 313h0M339.5 339.5h0M321 317h0M291 312.5h0M350.5 304h0M340 337h0M310 317h0M323.5 343.5h0M325 344h0M317 339h0M353 323.5h0M325 332.5h0M357 320.5h0M342 300.5h0M340 304h0M357 345.5h0M283.5 319.5h0M335 312.5h0M294 320.5h0M352.5 308.5h0M345.5 332h0M319.5 344h0M340.5 327h0M365 315.5h0M328.5 328h0M351.5 325.5h0M370 323h0M319.5 325.5h0M346.5 301.5h0M290.5 329h0M336.5 321h0M310.5 310h0M293 342.5h0M322 321.5h0M310.5 334h0M319 319h0M310 331.5h0M360.5 308.5h0M345 342h0M316.5 324h0M310.5 317.5h0M311 335.5h0M335 314h0M338 309.5h0M337 309h0M345 332.5h0M344 311h0M292 321h0M346.5 318h0M304 340h0M320 333.5h0M287.5 343h0M325 319.5h0M353.5 330.5h0M356.5 305h0M333.5 318.5h0M331.5 324h0M309.5 331h0M326.5 340h0M323 326h0M314 330.5h0M288.5 322.5h0M345.5 321.5h0M307 326h0M359 307.5h0M313 324h0M344 310h0M291 340h0M366 307h0M339 323.5h0M365 323.5h0M340 307.5h0M345.5 297h0M283.5 316.5h0M310 304h0M314.5 312h0M311.5 305h0M292 318.5h0M357 328h0M339 318h0M295.5 308.5h0M312 323.5h0M365 324h0M343 309.5h0M331 333.5h0M303 322.5h0M363.5 321h0M340 312h0M340.5 342.5h0M291 314.5h0M352 345.5h0M336 337.5h0M338.5 314h0M305 332.5h0M359 333h0M360.5 335.5h0M346 336h0M302.5 321.5h0M319 334.5h0M290.5 336h0M349 303h0M353 299.5h0M348 308.5h0M319.5 325h0M344 337h0M320 317h0M341 329h0M342.5 323.5h0M337.5 334h0M325 323.5h0M300.5 311h0M295.5 320.5h0M368.5 334h0M304 344.5h0M362.5 310h0M295 310h0M332 335.5h0M318.5 302.5h0M303 305.5h0M329 329h0M340.5 337.5h0M341.5 322.5h0M344.5 317.5h0M336.5 309h0M298 337.5h0M295 327.5h0M294 314h0M366 331.5h0M307.5 304h0M319.5 333h0M352.5 299.5h0M314 324.5h0M298 330h0M343 345.5h0M331.5 336.5h0M352 311h0M332 318.5h0M337 307.5h0M360 327h0M285.5 330.5h0M347 307h0M315 337h0M319.5 329h0M323.5 333.5h0M301.5 340.5h0M344 346h0M322 334h0M353.5 333.5h0M328 322h0M312.5 332.5h0M293.5 327h0M313.5 301h0M307.5 312.5h0M341.5 339.5h0M313 314h0M350.5 343.5h0M348.5 332.5h0M366.5 304.5h0M316.5 341.5h0M320.5 336.5h0M357.5 340.5h0M307.5 318h0M332 329.5h0M317 338h0M355.5 342h0M326.5 349.5h0M326 336.5h0M325.5 339.5h0M352 325h0M358 315.5h0M302 326.5h0M336.5 324.5h0M313.5 340h0M318 341h0M340 327.5h0M334 323h0M333.5 328h0M360.5 317h0M291.5 322h0M337.5 321h0M296.5 312.5h0M289 338h0M326 346.5h0M309.5 308.5h0M363.5 303.5h0M336.5 323h0M344 333.5h0M286.5 282h0M324.5 284h0M294.5 283.5h0M302 285h0M332 281h0M330.5 280.5h0M319 284h0M321 282h0M333 282.5h0M308 287.5h0M341 290h0M347 283h0M294 280h0M326.5 284.5h0M290.5 284.5h0M326.5 272h0M297.5 285h0M305 285h0M305 287.5h0M336.5 283h0M344.5 281.5h0M349.5 288.5h0M354 279h0M301 283h0M292 284.5h0M299 281.5h0M326.5 287.5h0M293 285.5h0M350 289h0M310 278h0M346 279h0M298.5 285h0M358.5 287.5h0M338.5 291h0M330 281h0M296.5 283h0M328.5 279.5h0M299 283h0M329.5 281.5h0M357 289.5h0M352 277.5h0M354 282.5h0M348 280h0M336.5 281.5h0M353.5 279.5h0M362.5 290h0M347 276h0M327.5 287h0M302.5 286h0M339 277.5h0M322.5 284h0M362 281.5h0M288.5 279h0M346.5 277h0M310.5 285h0M324 276h0M359.5 290.5h0M288 280.5h0M337.5 282.5h0M338.5 281h0M310 281.5h0M303.5 288.5h0M301.5 281h0M334.5 280.5h0M347.5 279h0M329 279h0M346.5 280.5h0M332 277.5h0M292.5 280h0M295 276h0M335 289h0M284.5 287.5h0M292 289.5h0M362 281h0M347.5 286.5h0M295 280.5h0M305.5 283h0M309 291h0M332 280.5h0M305 284.5h0M357 276.5h0M304 279.5h0M342.5 295h0M336 287.5h0M289 285h0M302.5 278h0M359 284.5h0M314.5 284h0M349.5 284h0M338 277.5h0M307 284.5h0M318.5 284h0M343.5 276.5h0M360 284h0M322.5 278.5h0M322.5 284h0M300 293h0M304 280h0M300 283.5h0M287.5 281.5h0M298.5 284.5h0M319 283.5h0M294.5 286.5h0M352.5 277.5h0M289 275.5h0M302.5 282.5h0M353 280.5h0M296 287h0M336.5 280h0M312 283.5h0M324 280h0M330 286h0M346.5 282.5h0M355 291.5h0M307 284h0M283.5 284.5h0M338.5 283.5h0M289.5 284h0M359.5 292h0M313 282h0M293 284.5h0M309.5 275h0M304.5 284h0M291 278h0M288 282h0M314.5 288h0M319 284h0M294 279h0M292 276h0M346.5 281.5h0M309 275h0M352.5 287h0M310.5 278.5h0M350.5 281h0M344.5 287.5h0M313.5 278h0M308.5 287h0M346.5 285h0M310.5 285h0M326 286.5h0M343.5 289h0M344 282.5h0M351.5 288h0M317 278h0M350.5 279.5h0M348.5 276h0M300 280h0M298.5 277h0M335 276.5h0M287.5 274.5h0M282 281h0M351.5 289h0M294 280h0M317 278.5h0M330.5 287h0M330 290h0M297.5 289h0M298.5 285h0M359 280.5h0M289.5 273.5h0M341.5 284.5h0M345 285h0M307.5 278h0M292.5 284.5h0M284 284h0M333 284h0M350 282.5h0M334.5 276.5h0M342 272.5h0M315.5 288h0M339 280h0M328.5 278.5h0M353.5 281.5h0M349.5 280h0M340.5 277h0M290.5 282.5h0M363 289h0M296.5 273.5h0M321.5 282h0M346.5 285h0M334.5 284.5h0M321 287h0M294.5 288.5h0M306.5 289.5h0M317 281h0M352.5 283.5h0M323 286h0M297 281h0M346 276.5h0M334 287h0M349 275.5h0M301.5 278h0M293.5 278h0M322 281h0M348 285.5h0M351 290.5h0M287.5 288h0M325 280h0M302.5 274h0M321 279h0M343.5 289h0M351 291h0M311.5 284h0M325.5 276.5h0M335.5 285h0M291 276.5h0M313 283h0M313 279h0M306 279.5h0M330 282.5h0M287.5 277.5h0M336 283.5h0M364.5 290.5h0M350.5 280.5h0M338 277.5h0M348 283.5h0M363 287.5h0M303 283.5h0M353.5 283h0M329.5 277.5h0M335.5 286h0M346 291h0M304.5 278.5h0M326.5 281.5h0M336.5 282.5h0M304 289h0M316.5 280.5h0M309 277h0M335.5 290h0M356 288h0M346.5 281.5h0M332.5 290.5h0M338 284.5h0M319 286.5h0M353.5 284h0M311.5 283h0M335 286.5h0M333 281h0M338.5 277.5h0M364.5 288h0M302.5 278h0M357.5 292h0M355 286h0M346.5 286h0M320 279.5h0M309.5 289h0M296.5 287.5h0M317.5 283h0M305.5 287.5h0M350.5 291.5h0M347.5 281.5h0M347.5 280h0M322 275.5h0M341 279.5h0M328.5 281h0M344 281h0M349 289.5h0M311.5 273.5h0M354 281.5h0M354.5 280h0M348.5 285h0M302.5 279.5h0M360 289h0M321.5 287h0M363.5 283.5h0M307 279.5h0M303.5 287h0M314 287h0M309 284h0M343.5 280.5h0M341 277h0M313 283h0M286 280.5h0M352.5 276.5h0M331 277h0M286.5 287.5h0M330.5 282.5h0M338 286.5h0M363 281h0M311.5 277.5h0M332 283h0M289 285.5h0M329 285h0M314.5 286h0M354 293.5h0M359 287h0M309.5 291h0M340.5 278.5h0M293 280.5h0M366.5 281.5h0M309.5 273.5h0M351.5 276.5h0M325.5 282h0M362.5 274.5h0M348.5 286h0M307.5 276h0M303.5 282.5h0M336.5 275h0M332.5 281.5h0M347.5 290h0M348.5 278h0M307 287.5h0M297 279h0M285 284.5h0M300 285h0M358.5 284h0M329.5 281h0M292 281h0M333 284h0M321 282.5h0M303.5 276h0M325 281h0M327.5 288.5h0M349.5 287.5h0M339 283h0M320 288h0M310.5 278h0M284.5 287.5h0M324 277h0M348 291h0M303 284.5h0M345.5 285.5h0M325.5 283h0M350 277h0M317 286h0M283 286h0M353 292h0M288.5 279h0M334.5 280h0M330 286.5h0M340.5 275h0M359 281.5h0M343 273.5h0M354.5 284h0M320.5 286.5h0M323.5 286h0M290.5 287.5h0M320 285h0M305 286h0M317.5 282h0M360.5 287h0M361.5 288.5h0M361.5 281.5h0M307 285h0M356 285.5h0M304 282.5h0M297.5 286h0M328.5 283h0M349 287h0M316 283.5h0M355.5 280.5h0M344.5 285.5h0M335.5 285.5h0M319.5 281.5h0M338 280h0M320 285h0M353 282h0M292.5 286h0M284.5 280h0M321.5 281h0M352.5 288h0M342 291h0M350.5 279.5h0M288 290h0M335.5 279h0M360.5 281.5h0M359.5 282.5h0M360.5 277h0M292.5 284.5h0M290 284h0M354 287h0M337 278.5h0M313 278h0M284 287h0M362.5 275.5h0M335.5 275.5h0M339 287h0M310 275.5h0M364 285h0M351.5 280.5h0M324 284h0M352.5 285h0M344.5 279h0M339.5 286h0M298 290h0M330 273.5h0M360.5 287h0M301 282h0M346.5 288.5h0M313.5 285h0M354 284h0M327.5 286h0M283.5 281.5h0M335.5 284h0M321 288h0M292.5 281h0M320.5 288h0M347.5 272.5h0M301.5 287h0M350 286.5h0M345.5 283h0M289.5 290.5h0M298 281h0M322.5 290h0M305 290h0M291 281h0M309.5 290.5h0M306.5 286.5h0M327.5 277h0M311.5 281h0M364.5 281h0M319 290h0M299 282.5h0M296 283.5h0M296 280.5h0M362.5 287h0M334 276h0M303.5 286.5h0M292.5 282.5h0M335 284h0M333 294h0M355 288.5h0M348.5 279.5h0M346 284.5h0M309 280.5h0M290 287h0M342.5 291h0M293.5 277h0M361 282.5h0M343 279.5h0M318 276h0M342 282.5h0M305 289.5h0M322 279.5h0M322.5 280h0M306 284.5h0M321.5 282.5h0M332.5 284h0M303.5 276h0M361 280.5h0M308 282.5h0M284.5 287.5h0M341.5 278.5h0M341 279.5h0M299 276h0M286 280h0M303 280h0M291.5 276.5h0M287 281h0M352 285h0M298.5 279.5h0M353.5 283.5h0M333.5 278.5h0M311.5 276.5h0M354.5 275h0M302.5 284h0M288 290h0M362.5 279.5h0M303.5 283h0M338 276h0M353 282h0M298.5 287h0M302.5 280h0M299 283.5h0M343.5 281h0M363.5 286h0M355 287.5h0M357 279.5h0M316 285.5h0M346.5 280.5h0M285 278h0M312 275.5h0M318 284.5h0M350.5 276h0M329.5 287.5h0M317 283.5h0M345.5 277.5h0M358.5 284.5h0M317 275.5h0M287 281.5h0M319 283h0M349 280.5h0M316.5 276.5h0M316.5 286h0M303.5 281.5h0M353 281.5h0M300 281.5h0M304 277h0M365 290.5h0M309.5 281.5h0M362.5 282.5h0M296 277h0M331 284.5h0M320 288.5h0M292 279.5h0M292 282h0M344 282h0M338.5 290.5h0M331 281.5h0M319.5 284h0M297 278h0M325 286h0M297 287h0M325 275.5h0M287.5 279.5h0M351 284h0M336 282.5h0M355.5 289h0M295 284.5h0M291 277h0M350.5 286.5h0M332.5 280.5h0M307 279h0M305.5 283h0M330 278h0M285 282.5h0M337.5 278h0M311 286h0M343 286h0M295 290.5h0M286.5 278h0M318 280h0M308.5 286.5h0M347 289.5h0M309 277h0M352 285h0M299.5 284.5h0M303 289h0M326 286.5h0M316.5 274.5h0M296.5 280h0M290 286h0M316 279h0M324 283h0M318.5 278.5h0M358 276h0M318.5 279h0M329 287h0M319.5 288h0M361.5 278.5h0M319.5 283.5h0M333 288.5h0M344.5 285.5h0M296 277h0M347 292h0M348.5 279.5h0M303 281h0M342 275h0M300.5 276.5h0M285.5 284.5h0M322.5 282.5h0M311 286.5h0M291.5 281.5h0M360.5 285.5h0M322 275h0M366.5 282.5h0M313 280.5h0M317.5 284h0M327 286.5h0M322 286.5h0M339.5 281h0M296.5 282h0M316 286h0M355.5 280h0M315.5 290h0M317.5 283.5h0M334 283.5h0M354 278h0M339 277.5h0M334 286h0M351.5 284.5h0M343.5 285.5h0M346 288h0M304 281h0M287.5 284.5h0M288.5 286h0M315 289h0M337 291.5h0M336 287.5h0M286.5 278h0M361 288h0M314.5 276h0M357.5 286.5h0M357 276h0M312.5 283.5h0M327.5 289h0M319.5 284.5h0M331 275.5h0M287.5 282h0M325 290h0M305 282h0M311 285h0M332 286h0M305.5 281.5h0M322.5 292.5h0M311.5 283.5h0M284 281.5h0M305.5 285h0M362.5 286h0M291.5 277.5h0M298.5 283h0M349 283.5h0M361.5 284.5h0M337 282.5h0M301 281h0M359.5 288h0M313 275.5h0M353 283.5h0M359 278h0M286.5 281h0M356 283h0M320 290.5h0M308 287.5h0M340.5 282h0M308 287.5h0M355 289.5h0M338 276.5h0M351.5 290h0M293.5 289.5h0M294.5 276h0M361 284h0M299 281.5h0M302 279.5h0M320 277h0M294 282.5h0M310 281.5h0M301.5 279h0M314.5 287h0M323.5 280h0M362 285h0M327 280.5h0M295 276h0M355 279.5h0M342 277.5h0M349.5 290.5h0M313 282h0M312 290h0M360 284h0M346.5 284.5h0M302.5 279.5h0M345 289.5h0M349 279h0M295.5 288h0M318 287h0M322.5 281h0M354.5 279.5h0M356 283.5h0M334 272h0M350 282.5h0M323.5 274h0M308 288.5h0M346 275.5h0M332.5 291.5h0M340 288h0M332 278.5h0M361.5 286h0M349.5 285h0M321 290h0M364.5 283h0M289.5 279.5h0M338.5 279.5h0M302 280h0M329 281.5h0M329 276h0M340.5 281h0M343 284.5h0M294.5 279h0M338.5 277h0M296.5 286h0M347.5 296h0M344 277h0M325 280h0M334 275.5h0M317.5 277.5h0M360 289.5h0M298 284h0M299.5 279h0M316 280.5h0M354 285h0M318.5 278.5h0M349 280.5h0M339.5 289.5h0M325.5 281h0M326 286h0M334 285h0M322.5 286h0M285.5 281.5h0M330 284h0M294 281.5h0M302 277.5h0M350 285h0M327.5 289h0M290.5 288h0M341 277.5h0M320 310h0M329 316h0M316.5 280h0M335.5 347.5h0M359.5 307.5h0M305 321h0M298 291h0M339.5 310.5h0M369 283.5h0M339 337.5h0M329.5 309.5h0M322 289h0M333.5 341h0M287 318h0M289 314h0M278 314.5h0M295.5 324h0M359 344.5h0M296 291.5h0M322 319.5h0M284 309h0M355.5 347h0M326.5 290h0M303 347h0M335 287h0M372.5 327.5h0M287 304.5h0M283 303h0M370.5 320.5h0M328.5 340.5h0M288.5 311h0M321 296.5h0M364 309h0M369 304h0M291 334.5h0M294 334.5h0M320 301.5h0M337 343.5h0M359.5 333h0M329.5 348.5h0M329 305h0M284 291.5h0M289.5 310h0M355 278.5h0M284 302.5h0M353 292.5h0M353.5 344.5h0M326.5 315h0M305 296.5h0M360 342.5h0M370.5 281h0M287 339.5h0M371 325.5h0M319 349.5h0M306 326h0M279 297h0M329.5 340.5h0M283 317.5h0M337.5 302.5h0M352 314h0M308 345.5h0M327.5 292.5h0M339.5 295h0M330.5 279h0M282 297.5h0M372 280.5h0M363.5 300.5h0M280.5 317h0M362 297.5h0M315.5 289.5h0M285 291h0M325.5 339.5h0M367.5 311h0M295 280.5h0M350.5 344h0M309 277.5h0M330 344.5h0M356.5 333.5h0M319.5 326.5h0M345 297.5h0M347.5 349.5h0M287 347h0M331 281h0M292.5 289h0M347 306h0M354.5 315.5h0M356 282.5h0M308.5 307h0M310.5 297.5h0M289 314.5h0" stroke="#e4261e" stroke-opacity="0.7" stroke-width="1.1" stroke-linecap="square" fill="none"/>
<path d="M288.0,330.0C287.8,326.2 288.7,321.3 290.0,318.0C291.3,314.7 293.5,312.0 296.0,310.0C298.5,308.0 301.0,306.7 305.0,306.0C309.0,305.3 315.5,306.0 320.0,306.0C324.5,306.0 328.7,306.8 332.0,306.0C335.3,305.2 337.0,302.2 340.0,301.0C343.0,299.8 346.7,298.7 350.0,298.5C353.3,298.3 357.5,298.4 360.0,300.0C362.5,301.6 364.0,304.3 365.0,308.0C366.0,311.7 366.0,317.3 366.0,322.0C366.0,326.7 366.0,332.5 365.0,336.0C364.0,339.5 363.3,341.5 360.0,343.0C356.7,344.5 351.7,344.8 345.0,345.0C338.3,345.2 327.5,344.7 320.0,344.5C312.5,344.3 304.8,344.6 300.0,344.0C295.2,343.4 293.0,343.3 291.0,341.0C289.0,338.7 288.2,333.8 288.0,330.0Z" fill="#e92a20" opacity="0.9" filter="url(#fblur2)"/>
<path d="M296.8,330.0C296.8,328.5 297.2,326.9 297.8,325.8C298.4,324.7 298.4,323.9 300.3,323.3C302.2,322.8 306.1,322.3 309.5,322.5C312.9,322.7 318.0,323.8 321.0,324.5C324.0,325.2 325.5,326.2 327.5,326.5C329.5,326.8 331.3,327.1 333.0,326.0C334.7,324.9 336.3,322.2 337.8,320.0C339.3,317.8 340.4,314.5 342.2,312.6C344.0,310.7 346.8,309.3 348.7,308.5C350.6,307.7 352.1,307.4 353.6,307.7C355.1,307.9 356.4,308.9 357.5,310.0C358.6,311.1 359.6,312.0 360.1,314.2C360.6,316.4 360.6,320.2 360.6,323.0C360.6,325.8 360.5,328.8 360.1,331.0C359.7,333.2 359.9,335.1 358.3,336.2C356.7,337.3 354.4,337.7 350.4,337.9C346.3,338.1 339.4,337.5 334.0,337.4C328.6,337.3 323.1,337.2 317.7,337.1C312.2,337.0 304.6,337.2 301.3,336.8C298.0,336.4 298.4,335.9 297.6,334.8C296.9,333.7 296.8,331.5 296.8,330.0Z" fill="#ec3220" stroke="#ec3220" stroke-width="21" stroke-linejoin="round" filter="url(#fblur2)"/>
<g filter="url(#fblur)">
<path d="M296.8,330.0C296.8,328.5 297.2,326.9 297.8,325.8C298.4,324.7 298.4,323.9 300.3,323.3C302.2,322.8 306.1,322.3 309.5,322.5C312.9,322.7 318.0,323.8 321.0,324.5C324.0,325.2 325.5,326.2 327.5,326.5C329.5,326.8 331.3,327.1 333.0,326.0C334.7,324.9 336.3,322.2 337.8,320.0C339.3,317.8 340.4,314.5 342.2,312.6C344.0,310.7 346.8,309.3 348.7,308.5C350.6,307.7 352.1,307.4 353.6,307.7C355.1,307.9 356.4,308.9 357.5,310.0C358.6,311.1 359.6,312.0 360.1,314.2C360.6,316.4 360.6,320.2 360.6,323.0C360.6,325.8 360.5,328.8 360.1,331.0C359.7,333.2 359.9,335.1 358.3,336.2C356.7,337.3 354.4,337.7 350.4,337.9C346.3,338.1 339.4,337.5 334.0,337.4C328.6,337.3 323.1,337.2 317.7,337.1C312.2,337.0 304.6,337.2 301.3,336.8C298.0,336.4 298.4,335.9 297.6,334.8C296.9,333.7 296.8,331.5 296.8,330.0Z" fill="#ef441e" stroke="#ef441e" stroke-width="15.5" stroke-linejoin="round"/>
<path d="M296.8,330.0C296.8,328.5 297.2,326.9 297.8,325.8C298.4,324.7 298.4,323.9 300.3,323.3C302.2,322.8 306.1,322.3 309.5,322.5C312.9,322.7 318.0,323.8 321.0,324.5C324.0,325.2 325.5,326.2 327.5,326.5C329.5,326.8 331.3,327.1 333.0,326.0C334.7,324.9 336.3,322.2 337.8,320.0C339.3,317.8 340.4,314.5 342.2,312.6C344.0,310.7 346.8,309.3 348.7,308.5C350.6,307.7 352.1,307.4 353.6,307.7C355.1,307.9 356.4,308.9 357.5,310.0C358.6,311.1 359.6,312.0 360.1,314.2C360.6,316.4 360.6,320.2 360.6,323.0C360.6,325.8 360.5,328.8 360.1,331.0C359.7,333.2 359.9,335.1 358.3,336.2C356.7,337.3 354.4,337.7 350.4,337.9C346.3,338.1 339.4,337.5 334.0,337.4C328.6,337.3 323.1,337.2 317.7,337.1C312.2,337.0 304.6,337.2 301.3,336.8C298.0,336.4 298.4,335.9 297.6,334.8C296.9,333.7 296.8,331.5 296.8,330.0Z" fill="#f25c1e" stroke="#f25c1e" stroke-width="12" stroke-linejoin="round"/>
<path d="M296.8,330.0C296.8,328.5 297.2,326.9 297.8,325.8C298.4,324.7 298.4,323.9 300.3,323.3C302.2,322.8 306.1,322.3 309.5,322.5C312.9,322.7 318.0,323.8 321.0,324.5C324.0,325.2 325.5,326.2 327.5,326.5C329.5,326.8 331.3,327.1 333.0,326.0C334.7,324.9 336.3,322.2 337.8,320.0C339.3,317.8 340.4,314.5 342.2,312.6C344.0,310.7 346.8,309.3 348.7,308.5C350.6,307.7 352.1,307.4 353.6,307.7C355.1,307.9 356.4,308.9 357.5,310.0C358.6,311.1 359.6,312.0 360.1,314.2C360.6,316.4 360.6,320.2 360.6,323.0C360.6,325.8 360.5,328.8 360.1,331.0C359.7,333.2 359.9,335.1 358.3,336.2C356.7,337.3 354.4,337.7 350.4,337.9C346.3,338.1 339.4,337.5 334.0,337.4C328.6,337.3 323.1,337.2 317.7,337.1C312.2,337.0 304.6,337.2 301.3,336.8C298.0,336.4 298.4,335.9 297.6,334.8C296.9,333.7 296.8,331.5 296.8,330.0Z" fill="#f5861e" stroke="#f5861e" stroke-width="9" stroke-linejoin="round"/>
<path d="M296.8,330.0C296.8,328.5 297.2,326.9 297.8,325.8C298.4,324.7 298.4,323.9 300.3,323.3C302.2,322.8 306.1,322.3 309.5,322.5C312.9,322.7 318.0,323.8 321.0,324.5C324.0,325.2 325.5,326.2 327.5,326.5C329.5,326.8 331.3,327.1 333.0,326.0C334.7,324.9 336.3,322.2 337.8,320.0C339.3,317.8 340.4,314.5 342.2,312.6C344.0,310.7 346.8,309.3 348.7,308.5C350.6,307.7 352.1,307.4 353.6,307.7C355.1,307.9 356.4,308.9 357.5,310.0C358.6,311.1 359.6,312.0 360.1,314.2C360.6,316.4 360.6,320.2 360.6,323.0C360.6,325.8 360.5,328.8 360.1,331.0C359.7,333.2 359.9,335.1 358.3,336.2C356.7,337.3 354.4,337.7 350.4,337.9C346.3,338.1 339.4,337.5 334.0,337.4C328.6,337.3 323.1,337.2 317.7,337.1C312.2,337.0 304.6,337.2 301.3,336.8C298.0,336.4 298.4,335.9 297.6,334.8C296.9,333.7 296.8,331.5 296.8,330.0Z" fill="#eee22c" stroke="#eee22c" stroke-width="6.4" stroke-linejoin="round"/>
<path d="M296.8,330.0C296.8,328.5 297.2,326.9 297.8,325.8C298.4,324.7 298.4,323.9 300.3,323.3C302.2,322.8 306.1,322.3 309.5,322.5C312.9,322.7 318.0,323.8 321.0,324.5C324.0,325.2 325.5,326.2 327.5,326.5C329.5,326.8 331.3,327.1 333.0,326.0C334.7,324.9 336.3,322.2 337.8,320.0C339.3,317.8 340.4,314.5 342.2,312.6C344.0,310.7 346.8,309.3 348.7,308.5C350.6,307.7 352.1,307.4 353.6,307.7C355.1,307.9 356.4,308.9 357.5,310.0C358.6,311.1 359.6,312.0 360.1,314.2C360.6,316.4 360.6,320.2 360.6,323.0C360.6,325.8 360.5,328.8 360.1,331.0C359.7,333.2 359.9,335.1 358.3,336.2C356.7,337.3 354.4,337.7 350.4,337.9C346.3,338.1 339.4,337.5 334.0,337.4C328.6,337.3 323.1,337.2 317.7,337.1C312.2,337.0 304.6,337.2 301.3,336.8C298.0,336.4 298.4,335.9 297.6,334.8C296.9,333.7 296.8,331.5 296.8,330.0Z" fill="#7cc83c" stroke="#7cc83c" stroke-width="4.2" stroke-linejoin="round"/>
<path d="M296.8,330.0C296.8,328.5 297.2,326.9 297.8,325.8C298.4,324.7 298.4,323.9 300.3,323.3C302.2,322.8 306.1,322.3 309.5,322.5C312.9,322.7 318.0,323.8 321.0,324.5C324.0,325.2 325.5,326.2 327.5,326.5C329.5,326.8 331.3,327.1 333.0,326.0C334.7,324.9 336.3,322.2 337.8,320.0C339.3,317.8 340.4,314.5 342.2,312.6C344.0,310.7 346.8,309.3 348.7,308.5C350.6,307.7 352.1,307.4 353.6,307.7C355.1,307.9 356.4,308.9 357.5,310.0C358.6,311.1 359.6,312.0 360.1,314.2C360.6,316.4 360.6,320.2 360.6,323.0C360.6,325.8 360.5,328.8 360.1,331.0C359.7,333.2 359.9,335.1 358.3,336.2C356.7,337.3 354.4,337.7 350.4,337.9C346.3,338.1 339.4,337.5 334.0,337.4C328.6,337.3 323.1,337.2 317.7,337.1C312.2,337.0 304.6,337.2 301.3,336.8C298.0,336.4 298.4,335.9 297.6,334.8C296.9,333.7 296.8,331.5 296.8,330.0Z" fill="#2a4ccc" stroke="#2a4ccc" stroke-width="1.8" stroke-linejoin="round"/>
<path d="M296.8,330.0C296.8,328.5 297.2,326.9 297.8,325.8C298.4,324.7 298.4,323.9 300.3,323.3C302.2,322.8 306.1,322.3 309.5,322.5C312.9,322.7 318.0,323.8 321.0,324.5C324.0,325.2 325.5,326.2 327.5,326.5C329.5,326.8 331.3,327.1 333.0,326.0C334.7,324.9 336.3,322.2 337.8,320.0C339.3,317.8 340.4,314.5 342.2,312.6C344.0,310.7 346.8,309.3 348.7,308.5C350.6,307.7 352.1,307.4 353.6,307.7C355.1,307.9 356.4,308.9 357.5,310.0C358.6,311.1 359.6,312.0 360.1,314.2C360.6,316.4 360.6,320.2 360.6,323.0C360.6,325.8 360.5,328.8 360.1,331.0C359.7,333.2 359.9,335.1 358.3,336.2C356.7,337.3 354.4,337.7 350.4,337.9C346.3,338.1 339.4,337.5 334.0,337.4C328.6,337.3 323.1,337.2 317.7,337.1C312.2,337.0 304.6,337.2 301.3,336.8C298.0,336.4 298.4,335.9 297.6,334.8C296.9,333.7 296.8,331.5 296.8,330.0Z" fill="#3f2896"/>
</g>
<ellipse cx="330" cy="331.5" rx="6" ry="3.5" fill="#2a5ad0" filter="url(#fblur2)"/>
<ellipse cx="330" cy="331.5" rx="2.1" ry="1.4" fill="#2a80c8" opacity="0.5" filter="url(#fblur)"/>
<line x1="318.8" y1="306.5" x2="318.8" y2="352.7" stroke="#222" stroke-width="0.5" opacity="0.3"/>
<line x1="343" y1="306.5" x2="343" y2="352.7" stroke="#222" stroke-width="0.5" opacity="0.3"/>
<text x="282" y="361.5" font-size="3.2" fill="#555" text-anchor="middle">Low</text>
<text x="329" y="361.5" font-size="3.2" fill="#555" text-anchor="middle">Mid</text>
<text x="354.6" y="361.5" font-size="3.2" fill="#555" text-anchor="middle">Hi</text>
<polygon points="321.7,271.7 302.6,289.4 301.5,288.1 299.2,293.8 305.0,292.0 303.8,290.7 322.9,272.9" fill="#000"/>
<polygon points="321.5,272.5 326.8,291.0 325.2,291.4 329.2,296.0 330.2,290.0 328.5,290.5 323.1,272.1" fill="#000"/>
<polygon points="321.8,273.0 348.6,293.3 347.5,294.7 353.5,296.0 350.7,290.6 349.6,292.0 322.8,271.6" fill="#000"/>
<rect x="399.7" y="269.6" width="105.7" height="105.7" fill="#fff" stroke="#c8c8c8" stroke-width="0.7"/>
<line x1="397.7" y1="269.6" x2="399.7" y2="269.6" stroke="#999" stroke-width="0.5"/>
<text x="397.2" y="270.6" font-size="2.8" fill="#777" text-anchor="end">10<tspan dy="-1" font-size="2">5</tspan></text>
<line x1="399.7" y1="375.3" x2="399.7" y2="377.3" stroke="#999" stroke-width="0.5"/>
<text x="399.7" y="379.8" font-size="2.8" fill="#777" text-anchor="middle">100</text>
<line x1="397.7" y1="290.7" x2="399.7" y2="290.7" stroke="#999" stroke-width="0.5"/>
<text x="397.2" y="291.7" font-size="2.8" fill="#777" text-anchor="end">10<tspan dy="-1" font-size="2">4</tspan></text>
<line x1="420.8" y1="375.3" x2="420.8" y2="377.3" stroke="#999" stroke-width="0.5"/>
<text x="420.8" y="379.8" font-size="2.8" fill="#777" text-anchor="middle">101</text>
<line x1="397.7" y1="311.9" x2="399.7" y2="311.9" stroke="#999" stroke-width="0.5"/>
<text x="397.2" y="312.9" font-size="2.8" fill="#777" text-anchor="end">10<tspan dy="-1" font-size="2">3</tspan></text>
<line x1="442.0" y1="375.3" x2="442.0" y2="377.3" stroke="#999" stroke-width="0.5"/>
<text x="442.0" y="379.8" font-size="2.8" fill="#777" text-anchor="middle">102</text>
<line x1="397.7" y1="333.0" x2="399.7" y2="333.0" stroke="#999" stroke-width="0.5"/>
<text x="397.2" y="334.0" font-size="2.8" fill="#777" text-anchor="end">10<tspan dy="-1" font-size="2">2</tspan></text>
<line x1="463.1" y1="375.3" x2="463.1" y2="377.3" stroke="#999" stroke-width="0.5"/>
<text x="463.1" y="379.8" font-size="2.8" fill="#777" text-anchor="middle">103</text>
<line x1="397.7" y1="354.2" x2="399.7" y2="354.2" stroke="#999" stroke-width="0.5"/>
<text x="397.2" y="355.2" font-size="2.8" fill="#777" text-anchor="end">10<tspan dy="-1" font-size="2">1</tspan></text>
<line x1="484.3" y1="375.3" x2="484.3" y2="377.3" stroke="#999" stroke-width="0.5"/>
<text x="484.3" y="379.8" font-size="2.8" fill="#777" text-anchor="middle">104</text>
<line x1="397.7" y1="375.3" x2="399.7" y2="375.3" stroke="#999" stroke-width="0.5"/>
<text x="397.2" y="376.3" font-size="2.8" fill="#777" text-anchor="end">10<tspan dy="-1" font-size="2">0</tspan></text>
<line x1="505.4" y1="375.3" x2="505.4" y2="377.3" stroke="#999" stroke-width="0.5"/>
<text x="505.4" y="379.8" font-size="2.8" fill="#777" text-anchor="middle">105</text>
<text x="452.5" y="383.6" font-size="3.2" fill="#666" text-anchor="middle">PE (561) CD44 Log_Height Comp</text>
<text transform="translate(389.2,322.5) rotate(-90)" font-size="3.2" fill="#666" text-anchor="middle">DAPI Log_Height Comp</text>
<rect x="403.4" y="298.5" width="89.3" height="54.5" fill="none" stroke="#9a9a9a" stroke-width="0.5"/>
<line x1="439.6" y1="298.5" x2="439.6" y2="353" stroke="#666" stroke-width="0.5"/>
<line x1="465" y1="298.5" x2="465" y2="353" stroke="#666" stroke-width="0.5"/>
<path d="M412.0,326.0C411.5,322.0 412.0,318.0 413.0,315.0C414.0,312.0 415.5,309.7 418.0,308.0C420.5,306.3 424.3,305.3 428.0,305.0C431.7,304.7 436.3,305.3 440.0,306.0C443.7,306.7 446.7,309.2 450.0,309.0C453.3,308.8 456.7,306.5 460.0,305.0C463.3,303.5 466.3,301.0 470.0,300.0C473.7,299.0 478.8,298.3 482.0,299.0C485.2,299.7 487.5,300.8 489.0,304.0C490.5,307.2 490.8,313.3 491.0,318.0C491.2,322.7 490.8,328.5 490.0,332.0C489.2,335.5 489.3,337.5 486.0,339.0C482.7,340.5 476.0,340.8 470.0,341.0C464.0,341.2 456.7,340.0 450.0,340.0C443.3,340.0 435.7,341.2 430.0,341.0C424.3,340.8 419.0,341.5 416.0,339.0C413.0,336.5 412.5,330.0 412.0,326.0Z" fill="#ee4a44" opacity="0.3" filter="url(#fblur3)"/>
<path d="M460.0,280.0C461.3,278.2 465.8,277.5 470.0,277.0C474.2,276.5 481.7,276.0 485.0,277.0C488.3,278.0 489.5,280.8 490.0,283.0C490.5,285.2 491.0,288.7 488.0,290.0C485.0,291.3 476.3,291.3 472.0,291.0C467.7,290.7 464.0,289.8 462.0,288.0C460.0,286.2 458.7,281.8 460.0,280.0Z" fill="#e8281e" opacity="0.9" filter="url(#fblur2)"/>
<path d="M414.0,282.0C415.2,280.2 419.8,277.8 425.0,277.0C430.2,276.2 438.8,276.7 445.0,277.0C451.2,277.3 459.2,277.2 462.0,279.0C464.8,280.8 465.7,286.3 462.0,288.0C458.3,289.7 447.3,289.0 440.0,289.0C432.7,289.0 422.3,289.2 418.0,288.0C413.7,286.8 412.8,283.8 414.0,282.0Z" fill="#e8281e" opacity="0.55" filter="url(#fblur2)"/>
<path d="M451.5 325.5h0M428 302.5h0M426.5 332h0M435 321h0M488 303.5h0M441 310h0M486.5 305.5h0M486.5 334h0M439.5 325.5h0M472.5 307.5h0M408 310.5h0M477.5 320.5h0M469 320.5h0M435.5 330.5h0M480 332.5h0M445 326.5h0M474.5 296h0M419.5 331.5h0M438 337h0M453 331.5h0M424 321h0M460 328.5h0M455 325h0M478.5 308.5h0M418.5 321h0M423 325.5h0M461 305.5h0M474 317h0M418.5 324h0M477 298.5h0M471 343h0M437.5 335h0M448 301.5h0M423.5 327.5h0M476 325h0M425.5 312h0M452 350.5h0M429 303.5h0M457.5 330.5h0M431.5 316.5h0M481 303.5h0M482.5 312.5h0M415 321h0M493 301h0M482 295.5h0M480.5 309.5h0M487.5 324h0M469.5 301.5h0M453 325h0M473.5 301h0M444.5 339h0M458.5 326h0M437 324.5h0M439.5 327.5h0M468.5 324.5h0M480 345.5h0M479.5 307h0M465.5 321h0M451 317h0M434 317h0M471 339.5h0M430.5 310h0M425 339h0M432 314.5h0M452 320h0M412 325h0M431 324h0M454 340.5h0M416 332.5h0M436.5 311.5h0M457.5 326h0M429.5 334h0M487 322h0M442.5 322.5h0M484 310.5h0M423.5 326h0M421 333h0M435.5 323.5h0M419.5 320h0M441 326.5h0M459.5 327h0M429.5 325h0M462 325.5h0M478.5 336.5h0M465 315.5h0M430 306.5h0M500 323h0M460.5 315.5h0M479 347h0M465.5 337.5h0M416.5 321.5h0M438 331.5h0M477.5 308h0M480 326h0M442 345h0M464 303.5h0M419.5 323h0M490 329h0M426 331h0M425 340.5h0M472 342.5h0M421 319.5h0M473.5 314.5h0M430.5 305h0M464 346.5h0M423.5 323h0M461.5 339h0M436 346.5h0M477 317h0M431 318.5h0M418.5 307.5h0M409.5 312.5h0M426.5 325.5h0M423.5 315.5h0M466 315.5h0M419.5 336h0M460 320.5h0M468.5 333h0M454.5 332.5h0M436 312.5h0M452 319.5h0M463.5 305h0M428.5 309.5h0M419.5 338h0M458.5 313.5h0M435 328.5h0M430.5 310h0M478 335.5h0M426 304h0M437.5 311h0M424 324h0M410 311.5h0M429.5 319h0M425.5 308h0M434.5 316h0M452.5 314h0M441 336h0M488 312h0M419.5 310.5h0M452 311h0M469 308.5h0M481.5 324h0M472 334.5h0M470.5 343.5h0M434.5 315h0M472.5 327.5h0M484.5 334h0M415 314h0M434.5 339.5h0M426.5 310.5h0M441 319h0M470.5 341h0M445.5 334h0M470.5 300h0M484 312h0M481.5 312.5h0M471 334h0M474.5 320h0M459.5 326.5h0M421.5 314.5h0M440 336.5h0M435 314h0M481.5 313.5h0M465.5 318h0M439 314h0M462 322.5h0M470.5 299h0M440.5 332h0M480.5 301.5h0M419 330.5h0M475 345h0M428 320h0M471 308h0M460 313h0M422 315.5h0M435.5 339h0M478 327.5h0M435.5 334.5h0M474 342h0M469 308.5h0M446 335h0M464.5 331.5h0M455.5 313.5h0M481 302h0M460 338h0M486.5 342h0M455.5 334h0M458.5 306.5h0M477 308h0M465 315.5h0M456.5 318h0M430 314.5h0M478.5 319.5h0M416 327.5h0M441.5 314h0M488 313h0M445.5 337h0M479 320h0M455.5 324h0M428.5 334h0M451.5 340h0M435 321.5h0M443.5 330h0M430.5 336.5h0M473 330.5h0M474 321h0M431 327.5h0M447 319.5h0M471 322.5h0M457 323h0M448.5 330h0M465 313.5h0M470.5 327h0M466.5 330h0M466 315.5h0M417.5 319h0M487 334h0M500.5 316h0M479.5 312h0M466.5 316h0M477.5 311.5h0M465 303.5h0M461 333.5h0M469.5 341.5h0M480 315.5h0M437 330.5h0M433.5 302h0M468 342.5h0M426.5 330h0M404 338h0M459 311h0M477.5 302.5h0M451.5 327h0M459 308.5h0M459.5 310.5h0M483.5 345h0M454.5 312.5h0M462 314.5h0M487.5 324h0M432.5 299h0M413 311h0M417 326.5h0M464 315.5h0M446.5 318h0M426 338h0M469.5 336.5h0M429.5 339.5h0M437.5 318.5h0M447.5 339h0M433.5 316.5h0M472.5 318h0M416 301h0M454 315h0M416.5 328.5h0M461.5 349.5h0M475.5 328h0M463.5 311.5h0M497.5 309.5h0M454.5 322h0M487 304h0M469.5 331.5h0M429.5 315h0M495 315h0M458 312h0M474 305.5h0M433 319.5h0M453 310h0M455 329.5h0M447 312h0M440 305.5h0M486 301h0M474 303h0M448.5 308h0M451.5 319.5h0M464.5 333h0M420 333.5h0M420.5 341h0M479.5 299.5h0M432.5 332.5h0M452.5 337.5h0M466 315h0M474 319h0M475 336h0M470 329h0M423 324.5h0M427.5 318h0M432 315.5h0M453 312h0M439 323.5h0M416 331.5h0M425 313.5h0M458.5 321.5h0M445.5 341h0M460.5 333.5h0M473 341.5h0M439 314h0M441 341.5h0M431 310h0M415.5 324.5h0M436.5 326.5h0M486 304h0M433 321.5h0M447.5 315h0M423.5 317h0M436 313.5h0M484.5 312h0M455 313h0M475.5 323.5h0M471 334h0M494 332h0M449.5 315h0M419 330h0M456.5 301.5h0M465 325.5h0M434.5 295.5h0M444.5 330.5h0M447 333.5h0M475.5 326.5h0M463.5 321.5h0M433.5 316h0M430 314h0M460.5 323h0M438.5 324.5h0M466 311.5h0M462 327h0M493 337.5h0M482.5 307.5h0M469.5 320h0M482 333h0M463.5 328.5h0M438.5 314h0M429.5 333.5h0M470.5 306.5h0M414 324.5h0M476.5 321h0M442 311h0M476.5 305h0M432.5 333h0M426.5 312h0M441.5 343h0M476.5 316.5h0M432 322h0M485 313.5h0M422 319h0M483.5 327h0M456.5 331h0M422.5 310h0M429 322.5h0M441 339.5h0M470.5 302h0M458.5 340h0M427 339h0M448.5 310h0M450.5 310.5h0M435.5 313h0M409 328.5h0M436 321h0M454 344h0M471 326.5h0M439 329h0M476 310h0M430 308.5h0M468 319.5h0M430 327.5h0M418.5 327h0M434 304.5h0M446 307h0M451 306.5h0M477 336h0M477.5 318.5h0M458.5 323.5h0M484 336h0M442 339.5h0M424 332h0M472.5 299.5h0M458 305h0M463 313.5h0M484 306h0M458 335h0M467 310.5h0M444 339h0M434.5 328.5h0M444 341h0M477 321.5h0M467 320h0M417.5 323h0M436.5 328h0M458 324.5h0M434 337h0M449 323.5h0M410.5 323h0M454.5 332.5h0M421 314h0M436 309.5h0M460 330h0M412 321.5h0M411.5 314.5h0M479.5 330h0M419.5 328.5h0M490 310.5h0M482.5 314.5h0M471.5 315h0M424 318h0M439 340.5h0M482.5 301.5h0M417.5 324h0M443.5 337.5h0M453.5 319.5h0M481.5 333h0M453 306.5h0M488.5 305.5h0M488 306h0M487.5 301.5h0M421.5 333.5h0M469.5 305.5h0M488.5 312h0M461.5 316h0M417 328.5h0M435 331h0M442.5 318.5h0M446 319h0M452 325.5h0M435.5 337h0M436 325h0M474 307.5h0M466.5 335.5h0M421 321h0M457 343h0M468.5 307h0M449 308.5h0M444.5 321.5h0M424.5 339.5h0M441.5 317.5h0M442 324.5h0M470 336h0M470.5 325h0M493 319h0M411 322.5h0M438 308h0M450 326.5h0M497.5 315.5h0M441 307.5h0M450.5 317.5h0M444 307h0M430.5 324.5h0M459 320h0M435.5 343h0M488 322h0M414 331.5h0M450 339.5h0M433.5 341.5h0M415 333.5h0M406 338h0M457.5 327.5h0M411 322h0M471.5 306h0M430 334.5h0M444.5 311.5h0M451.5 327h0M425.5 318h0M492 309.5h0M470.5 303h0M452 320h0M409 319.5h0M464 318h0M485 330.5h0M446 318h0M434 344.5h0M480 332.5h0M460 333.5h0M475 315.5h0M414 330h0M474 299h0M470.5 314.5h0M438.5 316.5h0M416.5 330.5h0M426.5 305.5h0M475 313.5h0M450 326.5h0M457 315h0M418 316.5h0M474 308h0M427 324.5h0M447.5 327.5h0M476.5 330h0M473 318.5h0M420 336h0M471 312h0M458.5 333h0M460 320h0M430 313h0M439 328.5h0M436.5 312.5h0M445.5 314.5h0M494 306.5h0M461 333h0M468.5 332h0M437.5 317.5h0M448.5 332h0M475.5 331.5h0M445 328h0M480.5 320.5h0M477.5 310h0M426.5 316h0M452.5 307h0M446.5 334.5h0M425 323h0M409.5 323.5h0M447 324.5h0M433.5 324h0M486.5 331.5h0M483 329.5h0M477.5 321.5h0M440.5 324.5h0M451 339h0M420 320h0M444.5 319h0M499.5 329h0M493 310h0M431.5 319.5h0M434.5 337h0M457 334.5h0M431.5 327.5h0M452.5 313.5h0M481.5 327h0M431 328.5h0M429.5 306h0M451.5 314.5h0M468 333h0M435 312.5h0M461 334.5h0M454 323h0M479 305.5h0M469 336h0M417.5 326h0M436 304h0M487 320.5h0M449.5 315.5h0M472 318h0M480.5 342.5h0M452 329h0M458 323h0M450.5 341h0M432 338h0M449 330h0M459 343h0M423.5 327.5h0M482.5 304h0M474 338h0M471 315.5h0M489.5 319.5h0M442 330h0M435 319.5h0M483 318h0M479 319.5h0M473.5 325h0M469.5 314.5h0M449.5 312.5h0M459.5 332h0M437.5 322h0M423.5 330h0M462 324h0M472 305.5h0M443 329.5h0M441 331.5h0M487.5 352h0M481 311h0M468 325h0M435 325h0M430 325.5h0M421 339.5h0M450.5 308h0M468.5 311h0M481 334.5h0M435 329.5h0M471.5 332h0M465 332.5h0M458.5 332.5h0M484.5 314h0M454 327.5h0M436.5 337h0M478 310h0M439 338h0M451 310h0M426 323h0M426 323.5h0M445.5 329.5h0M437 326.5h0M440.5 320h0M448.5 316h0M407 331.5h0M461.5 311h0M435 315.5h0M474.5 325.5h0M415.5 316.5h0M454 332.5h0M440 328h0M427.5 309.5h0M427.5 309h0M471 320h0M471 321h0M433 320h0M429.5 325.5h0M433.5 338.5h0M461 317.5h0M419.5 311.5h0M415.5 327.5h0M417.5 341h0M467 336.5h0M480.5 302h0M485.5 320h0M422 332h0M485.5 297.5h0M486 325h0M488 325h0M457.5 310.5h0M417.5 302.5h0M435.5 313h0M458 320.5h0M496 316h0M422 334h0M452.5 324.5h0M481.5 326h0M481.5 347.5h0M442 324h0M479 335.5h0M445.5 325.5h0M450 333h0M468 310h0M472 322h0M455.5 328h0M471 307h0M448 316h0M450.5 305.5h0M456 339h0M461.5 304.5h0M425.5 321h0M458.5 322h0M478.5 322h0M478 300h0M453 310h0M432 329h0M470 335.5h0M418.5 337h0M416 330.5h0M443.5 320h0M447 328.5h0M483.5 334.5h0M455.5 324h0M489 308h0M434.5 332.5h0M486 318h0M420 315.5h0M461.5 328h0M460.5 330h0M444.5 315.5h0M457.5 324.5h0M486.5 321h0M463 328h0M437.5 314.5h0M456 310.5h0M467 332.5h0M450 311h0M472 306.5h0M468.5 306h0M474.5 324h0M494.5 308h0M457 312.5h0M472 316h0M464.5 322h0M412 303.5h0M491.5 308.5h0M474.5 332.5h0M484 336.5h0M459 322h0M467 329.5h0M467 335h0M464 295h0M438 328h0M466.5 301.5h0M436.5 329h0M432.5 322h0M483.5 314h0M439 316h0M462 329h0M453.5 325.5h0M459 329.5h0M463 311.5h0M434.5 345h0M459.5 324.5h0M472 342.5h0M468 320.5h0M420.5 322.5h0M472.5 312.5h0M426 317.5h0M412.5 342.5h0M460 316h0M425.5 342h0M424.5 341h0M463 331.5h0M428 318.5h0M489 315.5h0M427 343.5h0M454.5 327h0M441 325.5h0M473 324h0M439 317h0M452 333h0M446.5 327h0M467.5 337.5h0M483 330h0M416 328h0M474.5 332.5h0M481.5 321h0M414 326h0M420 307h0M434 323h0M459.5 335.5h0M484.5 328.5h0M495.5 328h0M473 309.5h0M468.5 325.5h0M474 331.5h0M458.5 338h0M455 323h0M475.5 330h0M452 329.5h0M493.5 304h0M426 323.5h0M461.5 305.5h0M421 321.5h0M471 315.5h0M432.5 334.5h0M455.5 336.5h0M476.5 300h0M439 322h0M486.5 315h0M447.5 330.5h0M413 326h0M480.5 329.5h0M432 322h0M422.5 328.5h0M479.5 330h0M460 308.5h0M422 317.5h0M448.5 332.5h0M417.5 329h0M417 312h0M473 331h0M468.5 326h0M479.5 318h0M433 315.5h0M483.5 335.5h0M458.5 330.5h0M454.5 333h0M481 329.5h0M461.5 310h0M462 317h0M468 318.5h0M440.5 343h0M435.5 304.5h0M421 327.5h0M418.5 339.5h0M442.5 316h0M450.5 298.5h0M414.5 320h0M478 336.5h0M436 319h0M434 329.5h0M450.5 316.5h0M415.5 312h0M452 324h0M456 313h0M462.5 326h0M447 324.5h0M485.5 326h0M468 329h0M472 307h0M486.5 302.5h0M459.5 330.5h0M474 301h0M484 314.5h0M481.5 308h0M474.5 320h0M446 327h0M433.5 331h0M473.5 321h0M478.5 328h0M479.5 324h0M463 315h0M474.5 320.5h0M446 333h0M442 319.5h0M446.5 307h0M490.5 304.5h0M464.5 332.5h0M453.5 335.5h0M470.5 319h0M445.5 329.5h0M432.5 324h0M467.5 310h0M458.5 331h0M475.5 305.5h0M473 326.5h0M459 323h0M425 313.5h0M465 308.5h0M448 318h0M452.5 327.5h0M436 332.5h0M468 310.5h0M435 330h0M437 321h0M458 321h0M439 335.5h0M446 335.5h0M487.5 309.5h0M465 323h0M476.5 331h0M464.5 308.5h0M489 308h0M432.5 336.5h0M470 324.5h0M473 290h0M445.5 333.5h0M485.5 336.5h0M420.5 319.5h0M432.5 338h0M435 331h0M424 313.5h0M430 311h0M467.5 325h0M483 326.5h0M416 311.5h0M417 324.5h0M463 320.5h0M435.5 315.5h0M490.5 337h0M401 329.5h0M464 321h0M414 315h0M500 323.5h0M443.5 311.5h0M449 323h0M455.5 321.5h0M406 315.5h0M428 317h0M443.5 311h0M421.5 318h0M420.5 335h0M414.5 340.5h0M424 326h0M483 310.5h0M422 339.5h0M443.5 334h0M456.5 325.5h0M443 335h0M432.5 324h0M454 320h0M413.5 326h0M463 339h0M447.5 341.5h0M431.5 294.5h0M455 336.5h0M422 333.5h0M477 316h0M428.5 312h0M441 330h0M473.5 332h0M423 309h0M480.5 304.5h0M419 310h0M445 332.5h0M472.5 309.5h0M432.5 308h0M456 313.5h0M462.5 319h0M430 317.5h0M450 325.5h0M484 323.5h0M436.5 334.5h0M422 342.5h0M431 301.5h0M420.5 331h0M429.5 328.5h0M460 313.5h0M442.5 333.5h0M450.5 317.5h0M475 316.5h0M480 325.5h0M464.5 321h0M462 296.5h0M413 325.5h0M451.5 316.5h0M443.5 315h0M462.5 338.5h0M430.5 306h0M417.5 337.5h0M474.5 337.5h0M436.5 320.5h0M479 325h0M460.5 326.5h0M446 324h0M473.5 326.5h0M472 313h0M476.5 326h0M427.5 341h0M489 335h0M476 338h0M438 332.5h0M438 338.5h0M445 350h0M460.5 316.5h0M493 340h0M427 316.5h0M420.5 334h0M460.5 330.5h0M445 315.5h0M434.5 324h0M451 326.5h0M474 319h0M464 304h0M488 329h0M422.5 319.5h0M450 322.5h0M449 323h0M464 316h0M435.5 319.5h0M449 344h0M468.5 312.5h0M458 323h0M473 303h0M443.5 340h0M483.5 312.5h0M490 324.5h0M449.5 345h0M479 324h0M436.5 322h0M494 314.5h0M462 335h0M412 325.5h0M464 334.5h0M492 313h0M477 318h0M499.5 327h0M442 310h0M431.5 302.5h0M414 310.5h0M473.5 315h0M479.5 298h0M442.5 327h0M477.5 301h0M469.5 323.5h0M452 313.5h0M461.5 329h0M468 326h0M475 328.5h0M477 336.5h0M474 298.5h0M427.5 313h0M442 311h0M451 310.5h0M471.5 331h0M474 298.5h0M467.5 329.5h0M455 322h0M483.5 326h0M477.5 313h0M455 314h0M442.5 328.5h0M483 308h0M432 298h0M466 323h0M458 325.5h0M471 338h0M412.5 329.5h0M471 333h0M489.5 337h0M471 291.5h0M450 321h0M480 324h0M421 335h0M442.5 325h0M474 342.5h0M459.5 331h0M425.5 334.5h0M466.5 320.5h0M484.5 314h0M464 327h0M440.5 327.5h0M465.5 321h0M425.5 312.5h0M455.5 319h0M456 325h0M430 337.5h0M435.5 325h0M482.5 323.5h0M429.5 317.5h0M424 328h0M443 314h0M420.5 313.5h0M468.5 322h0M450 310h0M458.5 329.5h0M455.5 345.5h0M470.5 311h0M424 308h0M425 324h0M468 320h0M464 302.5h0M470.5 319.5h0M483.5 309h0M433.5 324.5h0M425.5 337h0M472 318h0M427 305.5h0M443.5 320.5h0M462 329.5h0M476 314.5h0M438 319.5h0M488 329.5h0M438 337h0M429.5 316.5h0M453 327.5h0M407.5 325.5h0M418.5 329h0M412.5 334.5h0M453 320.5h0M474 335h0M425 324.5h0M462 321.5h0M451 313h0M447.5 332h0M448.5 309h0M445 321h0M431.5 304.5h0M434 333h0M424 314.5h0M488.5 311.5h0M429 334h0M455 321h0M488.5 308.5h0M435.5 337.5h0M434 326.5h0M418.5 324.5h0M458 335h0M492.5 324h0M459.5 320h0M439.5 313h0M484.5 306.5h0M489.5 316.5h0M407.5 321.5h0M474 338h0M426 343h0M465 319.5h0M468.5 336h0M482 334h0M437 301.5h0M449.5 326.5h0M439 339h0M430.5 334.5h0M443 332h0M480.5 331h0M471 326.5h0M416.5 311.5h0M438.5 328h0M463 335h0M486.5 336.5h0M473 315h0M478 322h0M407 312h0M432 315.5h0M433.5 333.5h0M421 331.5h0M423 304.5h0M439.5 341h0M444.5 333h0M447 316h0M472 325.5h0M446 310h0M449.5 325h0M435 333h0M437 330h0M478 300h0M435 318.5h0M428 336.5h0M409 320h0M420 325h0M475 318.5h0M477.5 311.5h0M439.5 332.5h0M437 340h0M461.5 328.5h0M433.5 330.5h0M468.5 321.5h0M485.5 325.5h0M428 321.5h0M409.5 319.5h0M451.5 317h0M474.5 296h0M486.5 340.5h0M447 305.5h0M441 312h0M441 327.5h0M456.5 316h0M430.5 321.5h0M470 329h0M448.5 336.5h0M433 310.5h0M442.5 332.5h0M407.5 320h0M468.5 299.5h0M431 325h0M477 304.5h0M434.5 312h0M445 329.5h0M444.5 339h0M431.5 348.5h0M442 318.5h0M492.5 323h0M445.5 333h0M408.5 312h0M468 334h0M420 317h0M451 328.5h0M462.5 313.5h0M442 307h0M420.5 325h0M424 318h0M471 337h0M481 302.5h0M466.5 329h0M471 309.5h0M451.5 340.5h0M433 319h0M494.5 328h0M470.5 316.5h0M453 334.5h0M440 310.5h0M476.5 300.5h0M445.5 324h0M494.5 325h0M414.5 320.5h0M457 335.5h0M481 319h0M477 325.5h0M483 327h0M416.5 325h0M462.5 314.5h0M430 313.5h0M433.5 336.5h0M418.5 322.5h0M479 302.5h0M434 325.5h0M475.5 336h0M482 326.5h0M461.5 307h0M427 328h0M477.5 333h0M446.5 319h0M479.5 316h0M445 317.5h0M438.5 320.5h0M439 339.5h0M471.5 308.5h0M437.5 317.5h0M486 312h0M446.5 334.5h0M471.5 313.5h0M428 311h0M439.5 333.5h0M477.5 331h0M423.5 342h0M482.5 313.5h0M436.5 333h0M471 317.5h0M453.5 322h0M477 320h0M477.5 340h0M452 325.5h0M436 322.5h0M436.5 335h0M428.5 321h0M472.5 338h0M470 331h0M478.5 334.5h0M432.5 320h0M468.5 335h0M447 336h0M461 341h0M484 312h0M476.5 343.5h0M404 339h0M484 310h0M443 320h0M424.5 326h0M408.5 320.5h0M464.5 304h0M447.5 342.5h0M417 322.5h0M424.5 336h0M475.5 318h0M462.5 297.5h0M478.5 299.5h0M472.5 323h0M444.5 333.5h0M463.5 332.5h0M438 317h0M441.5 317.5h0M468 310.5h0M444 327.5h0M463 347.5h0M485 318.5h0M463.5 313h0M484.5 317h0M463.5 328h0M430 328h0M424.5 326.5h0M454 330h0M462 317h0M485.5 325.5h0M437.5 334h0M439.5 329.5h0M471.5 324.5h0M449 331.5h0M468 333h0M435.5 317h0M424 307h0M485.5 336h0M475.5 318h0M456.5 310.5h0M424.5 327.5h0M444.5 339.5h0M459 338.5h0M469.5 301.5h0M458.5 338h0M444.5 325.5h0M475 328h0M439.5 318.5h0M419.5 318h0M467 328.5h0M490 328h0M437 335.5h0M445 335.5h0M439.5 319.5h0M445.5 329.5h0M429.5 318h0M470.5 323h0M419.5 320.5h0M471.5 314h0M426.5 330h0M472.5 303.5h0M455 329h0M474.5 321h0M475.5 321h0M457 302.5h0M445.5 335.5h0M447.5 347h0M433 318.5h0M480 307.5h0M447.5 334.5h0M486.5 300.5h0M474.5 338h0M480 314.5h0M490 310h0M443 307h0M416.5 324.5h0M476 310h0M424.5 306.5h0M426 332h0M472 305h0M469.5 317h0M463.5 334.5h0M436 304h0M421.5 308.5h0M494 331h0M421.5 320.5h0M454 330h0M438 319h0M464 333.5h0M481 342.5h0M436 336h0M462 335.5h0M480.5 315.5h0M452.5 321.5h0M439.5 318.5h0M421 312h0M447 347h0M469.5 299.5h0M481.5 295.5h0M457.5 325h0M459 319h0M458.5 340h0M471.5 318h0M413.5 314h0M424 318h0M461 302.5h0M454 325h0M479.5 317.5h0M485.5 319.5h0M480.5 305.5h0M453 335.5h0M423 319.5h0M432 321h0M428.5 334h0M487 323.5h0M475.5 330h0M477.5 298h0M442.5 339.5h0M451 318.5h0M440 335h0M436 322.5h0M476.5 298h0M479.5 338.5h0M443.5 328.5h0M458.5 331.5h0M431.5 333.5h0M444 323.5h0M436.5 320h0M426.5 309h0M416 340h0M457.5 327h0M441.5 314h0M465 314.5h0M470.5 314h0M444.5 332.5h0M489.5 319.5h0M467.5 344.5h0M487.5 334h0M472 338h0M448.5 324h0M460 309.5h0M485 301.5h0M451.5 339h0M459.5 336h0M444 311.5h0M464.5 338.5h0M486.5 321h0M450.5 314h0M425.5 320h0M465.5 311.5h0M425.5 337.5h0M472 314.5h0M474.5 341h0M469.5 338.5h0M471 302.5h0M483 330.5h0M431.5 331.5h0M448 338.5h0M460.5 304.5h0M477.5 296h0M473.5 306h0M444 304h0M435.5 321.5h0M428.5 317.5h0M420 343h0M430 331h0M458 320.5h0M470.5 321h0M448.5 336.5h0M470.5 313h0M475.5 308.5h0M439.5 342.5h0M474 342.5h0M456 338h0M465 315.5h0M469.5 337.5h0M500.5 321h0M439 313.5h0M458.5 335h0M474 300.5h0M452.5 314h0M462 338h0M414 328.5h0M419 303.5h0M456.5 315.5h0M433 324h0M480 326h0M418 314.5h0M458 310.5h0M469 302h0M463.5 307h0M417 315.5h0M453.5 352.5h0M435.5 319.5h0M425.5 328.5h0M475.5 334.5h0M482 325.5h0M486 314h0M466.5 334.5h0M441 318h0M474.5 344.5h0M463.5 317h0M447 321h0M434 315h0M461.5 326.5h0M481 303h0M460 308h0M479 311h0M444.5 323.5h0M501 319.5h0M441.5 311.5h0M436 328.5h0M472.5 327h0M478 302.5h0M484.5 321h0M487 324.5h0M469.5 304h0M439.5 314h0M471 344h0M431 313h0M455 300.5h0M450 326h0M463.5 336h0M490.5 307.5h0M428 313.5h0M475 303.5h0M495.5 302h0M407.5 327.5h0M442.5 329.5h0M436 343h0M485.5 322.5h0M479 305.5h0M478.5 327.5h0M425.5 322.5h0M469.5 303h0M472.5 316h0M475 300h0M464.5 317h0M455 316.5h0M460.5 322h0M464 330.5h0M476.5 314h0M460.5 307h0M451.5 339.5h0M435.5 306h0M433 336h0M441.5 312h0M480.5 325.5h0M432 313h0M463 333h0M421.5 314.5h0M485 317.5h0M444 326h0M413 326h0M476.5 342h0M424.5 328h0M476.5 337.5h0M425 333.5h0M453.5 336h0M464.5 336.5h0M502 330.5h0M486 324.5h0M432 316.5h0M441 307.5h0M425.5 323.5h0M455.5 321h0M458 333.5h0M485 306.5h0M458.5 321.5h0M492 308h0M429 331h0M437.5 342.5h0M479 325.5h0M444 310h0M482 336.5h0M483 297h0M453.5 321.5h0M424.5 323h0M465 313.5h0M482 320h0M479.5 315.5h0M420.5 334h0M478.5 329h0M421.5 304.5h0M458 347.5h0M481 310h0M481.5 327.5h0M477.5 325h0M443.5 335h0M425 308h0M422.5 299h0M463.5 318.5h0M471 312.5h0M430 337.5h0M428.5 325.5h0M431.5 332.5h0M486.5 317h0M478.5 337h0M422.5 313.5h0M419 327.5h0M426.5 333.5h0M429.5 312h0M484.5 331.5h0M430.5 337.5h0M437 339h0M482.5 298.5h0M470 351h0M477 314h0M466 326.5h0M450 310.5h0M465.5 321h0M458 316.5h0M478 348h0M463 331.5h0M456 338.5h0M418 309.5h0M432 326h0M418.5 317h0M488 302h0M468 324.5h0M495 310h0M488 323h0M467 332h0M457 310.5h0M463.5 306h0M481.5 324h0M427 328.5h0M423.5 328.5h0M448.5 331.5h0M468.5 324.5h0M465 301.5h0M493.5 305.5h0M468.5 302h0M442.5 331h0M489 308.5h0M486.5 327.5h0M455.5 318.5h0M487.5 332h0M419.5 342h0M452 342.5h0M464.5 320.5h0M444 312h0M452.5 334h0M481 337h0M470.5 308.5h0M437.5 335h0M475.5 314h0M490 324.5h0M445.5 309h0M483 317h0M422 333.5h0M443 311h0M418 340.5h0M479.5 302.5h0M432.5 325.5h0M471.5 329.5h0M460 322h0M447.5 300h0M424.5 339h0M450.5 331h0M481.5 335.5h0M462 334.5h0M404.5 333h0M483.5 309h0M458 338h0M454.5 317h0M462.5 325.5h0M433 332.5h0M415.5 301.5h0M483 311h0M449.5 310h0M413 321h0M450.5 325h0M438.5 328h0M430.5 338h0M449 324.5h0M443.5 331h0M405.5 322h0M427 316.5h0M444.5 324.5h0M453 326.5h0M479 309h0M420.5 344.5h0M418 343.5h0M429 325h0M496 328h0M436.5 321h0M470.5 319.5h0M442 341.5h0M420 326h0M461.5 336h0M465 302h0M479.5 333.5h0M474 339h0M487.5 342h0M416.5 309h0M450.5 317h0M473 311h0M436.5 333h0M483.5 299h0M459 312h0M472 326.5h0M433 330.5h0M463 319h0M415.5 327.5h0M479.5 306h0M468.5 298h0M465.5 307.5h0M469 334.5h0M457.5 310h0M449 322h0M462.5 337h0M475.5 309h0M485.5 317.5h0M452 331h0M467.5 319h0M488.5 308.5h0M481.5 313.5h0M479 309h0M466.5 326h0M456.5 304h0M467 293h0M491.5 327.5h0M436.5 345h0M493.5 336.5h0M490 303h0M474.5 318h0M487 306.5h0M431.5 313.5h0M486 308h0M455.5 335h0M474 311h0M453 310h0M452 318.5h0M433.5 336h0M438 315h0M421 319h0M453.5 303.5h0M432 328.5h0M488 335h0M446 301.5h0M462.5 331h0M490.5 320h0M443 322h0M485.5 300.5h0M463.5 331h0M471.5 316.5h0M494.5 318h0M441.5 322.5h0M477.5 298h0M485.5 304.5h0M436 327.5h0M441 322h0M427 337.5h0M495.5 332h0M484 315.5h0M470 328.5h0M447 322h0M429 323h0M457.5 345h0M464 306h0M465.5 333h0M411 335h0M461 295h0M467 311.5h0M472 325.5h0M434.5 306.5h0M421.5 306.5h0M484 338.5h0M472.5 299.5h0M458 309.5h0M461 336h0M436.5 328h0M453.5 316.5h0M475.5 316h0M434.5 331.5h0M483.5 333.5h0M453 343h0M455 342.5h0M413 305.5h0M430 321.5h0M487 321.5h0M461 324.5h0M429.5 328h0M468 335.5h0M422 319.5h0M490.5 313h0M447.5 327.5h0M416.5 328.5h0M470.5 310.5h0M447.5 339h0M458 312.5h0M436.5 331.5h0M433.5 336.5h0M430 326h0M414 312.5h0M484 306h0M466 314h0M420.5 338h0M428.5 326h0M476 305.5h0M435 325.5h0M489.5 306.5h0M454.5 339h0M467 300.5h0M446 321h0M440.5 312h0M429 309h0M427 334h0M479 304.5h0M459 324h0M470 321.5h0M472.5 323h0M417 322.5h0M463.5 329h0M477.5 315.5h0M455 331h0M445.5 321h0M456 325h0M490 335h0M417.5 326.5h0M441 315h0M486 317.5h0M482 339h0M484.5 327.5h0M421.5 324.5h0M474 335.5h0M406.5 321.5h0M441.5 319.5h0M480 326h0M477.5 312h0M419 333h0M413 309.5h0M470.5 307h0M474 306h0M466.5 316.5h0M423.5 335.5h0M485 311.5h0M482 308.5h0M445 324h0M449 303h0M438 321h0M428 311.5h0M425.5 330h0M475 311.5h0M482.5 314.5h0M409 311.5h0M462.5 310h0M469.5 316.5h0M493 316.5h0M442.5 328.5h0M438 313h0M476 338h0M484.5 300.5h0M420 323.5h0M480 321.5h0M432 318h0M477 318.5h0M490.5 331h0M458.5 341.5h0M461.5 317h0M461.5 317.5h0M492 313h0M491.5 305.5h0M436 334.5h0M474 323h0M482.5 307.5h0M441.5 313h0M427.5 334h0M453 313.5h0M480 314.5h0M482.5 326h0M421.5 325h0M471.5 319h0M463.5 318.5h0M473 332.5h0M479.5 323h0M464.5 323h0M440 335.5h0M448.5 329.5h0M432 333.5h0M473 325h0M465 303.5h0M471.5 319h0M485 308.5h0M443 303.5h0M418.5 318h0M461 321.5h0M431 327h0M433 314h0M441.5 312.5h0M485 317h0M429.5 313.5h0M438 324h0M472 325.5h0M455 347.5h0M424.5 307h0M456.5 327h0M467 300.5h0M462 305.5h0M483 304h0M454 321.5h0M434.5 344h0M441.5 335.5h0M481.5 306.5h0M467.5 331h0M475.5 313h0M439 322h0M434.5 310.5h0M474.5 331h0M465.5 310h0M445 327h0M421 336h0M446.5 337.5h0M482 327.5h0M474.5 343.5h0M444 329h0M481 304.5h0M499 312h0M481 326.5h0M489.5 310.5h0M457 334h0M421 340h0M473.5 313.5h0M414.5 323h0M484 328h0M448 312h0M455.5 325h0M471.5 342.5h0M464 332h0M413 314h0M426.5 314.5h0M428 331.5h0M455.5 308.5h0M462.5 316h0M437 310.5h0M441.5 329.5h0M431.5 333.5h0M459 303.5h0M444 319h0M409 322h0M451.5 309h0M476.5 309.5h0M475.5 313h0M437.5 325.5h0M450.5 307h0M443.5 331h0M414.5 308.5h0M466.5 310.5h0M422.5 337.5h0M417.5 334.5h0M474 316.5h0M484.5 316.5h0M429.5 324h0M420.5 312.5h0M481.5 304h0M445.5 338h0M457.5 304.5h0M485.5 308h0M429.5 333.5h0M460 304.5h0M456.5 336h0M489.5 320h0M464 310h0M429.5 332h0M460 309h0M434 315.5h0M477.5 324.5h0M451.5 338.5h0M480 331h0M474.5 321h0M480.5 296.5h0M435 326.5h0M443 306h0M431 313h0M478 327h0M488 304h0M462.5 333.5h0M480 291.5h0M448.5 328.5h0M453 338.5h0M430.5 343h0M462.5 311.5h0M437.5 337.5h0M481 306.5h0M448.5 345h0M477 299h0M481.5 333.5h0M430.5 327.5h0M432 314h0M470.5 333h0M464 334.5h0M475 307h0M465 328h0M452.5 319h0M434.5 303.5h0M481 315.5h0M486.5 315h0M446.5 326h0M425 333.5h0M459 323.5h0M448 330.5h0M464.5 305h0M440 329h0M470 315.5h0M438 313.5h0M455.5 332h0M439 331h0M460 314h0M459 338h0M463.5 307h0M481 325h0M477.5 335.5h0M453.5 325h0M436 309.5h0M471 309.5h0M453 324h0M429 309h0M433.5 308.5h0M434.5 340.5h0M480 317.5h0M441 339.5h0M462 323.5h0M472.5 327.5h0M479 298h0M458.5 315h0M449 329.5h0M477.5 300h0M447.5 307h0M443 333.5h0M454 316.5h0M450 306.5h0M470 333h0M443.5 312h0M491 318.5h0M462 322.5h0M455 317.5h0M429 305.5h0M439.5 344h0M466.5 337h0M470.5 348h0M473.5 305h0M411.5 311h0M430.5 322h0M449 319h0M461 313.5h0M482 330.5h0M441 319.5h0M439 312h0M476.5 308h0M472 322.5h0M419.5 312.5h0M453.5 337h0M430.5 313h0M414.5 346.5h0M424.5 317h0M461 315.5h0M492.5 331h0M436.5 327h0M481 311h0M448 340.5h0M460 317h0M425.5 343.5h0M491 324.5h0M482.5 322.5h0M471 321h0M460.5 329h0M466 328h0M417.5 320.5h0M436 302.5h0M427 308h0M434 320h0M405.5 320.5h0M436 335.5h0M467.5 294h0M438 311.5h0M448 328h0M474 328.5h0M448 328.5h0M466.5 311.5h0M463.5 318h0M475.5 328.5h0M474.5 340.5h0M442.5 319.5h0M457 307.5h0M425 332.5h0M489 337h0M453 318.5h0M412.5 321h0M446.5 334h0M465 317h0M447.5 328.5h0M431.5 315.5h0M481 300h0M415 331h0M481 308h0M444.5 320h0M478 330h0M464.5 333.5h0M446.5 335.5h0M470 316.5h0M447 345h0M435 309.5h0M442 327h0M426 337h0M436.5 313.5h0M468 328h0M473.5 328h0M455 307.5h0M435.5 334.5h0M469 331.5h0M456.5 304.5h0M440 307.5h0M478 303.5h0M417 314h0M473 333.5h0M481 340h0M478.5 333.5h0M443.5 325h0M481 318h0M426 312h0M453.5 330h0M451 320h0M438 317h0M461.5 309.5h0M439 331h0M484 320.5h0M472 307.5h0M466.5 309h0M483 323h0M417.5 316h0M418.5 332.5h0M429.5 313h0M448 321h0M412.5 331h0M475.5 313.5h0M452.5 326h0M475.5 349.5h0M466 343h0M466.5 311.5h0M430 328.5h0M447 317h0M420 348.5h0M487.5 308h0M446 335h0M417 336.5h0M425.5 332.5h0M439.5 324.5h0M492 319h0M456.5 336.5h0M485 298h0M464 317.5h0M487.5 322.5h0M464.5 306h0M479 321h0M449 317.5h0M439 305.5h0M481 304h0M436.5 329.5h0M487.5 326h0M460 314h0M469.5 327.5h0M458.5 322.5h0M483.5 333h0M416.5 330.5h0M478 307.5h0M489.5 317.5h0M481.5 301.5h0M446 341h0M482 310h0M467.5 336h0M477.5 290h0M476 330.5h0M478 306.5h0M447.5 314h0M448.5 303.5h0M478 331h0M440.5 319.5h0M478.5 326h0M432.5 331.5h0M467 305.5h0M428.5 308.5h0M480 323.5h0M449.5 310.5h0M451.5 331.5h0M446 340h0M457 320.5h0M464.5 333.5h0M422 324h0M477 299h0M433.5 312h0M449.5 294h0M481 330.5h0M483 320h0M426.5 324h0M466.5 335h0M477.5 346h0M442.5 342h0M446 325.5h0M424.5 351.5h0M439.5 334.5h0M482 304.5h0M441 313.5h0M425 324h0M454 329h0M461.5 341h0M411 313.5h0M403 321h0M443.5 323h0M433.5 314.5h0M441 315h0M445.5 343h0M425.5 332h0M462 307.5h0M480.5 316h0M423.5 317.5h0M480 299h0M476.5 326.5h0M427 332.5h0M465 334.5h0M445 341.5h0M434 307h0M416.5 325.5h0M437 306.5h0M474 335.5h0M483 335.5h0M436.5 310.5h0M429.5 314h0M423 320h0M447 317.5h0M461 338h0M450.5 339h0M434 325.5h0M492 330h0M435.5 341.5h0M466 323.5h0M485.5 310.5h0M420 337h0M432.5 301h0M424.5 322.5h0M451 336h0M449 332h0M466.5 311.5h0M474.5 304h0M474 344h0M466 310h0M462.5 330.5h0M475.5 321h0M463 312.5h0M422 310h0M440.5 314.5h0M456.5 306.5h0M450.5 321h0M443.5 339.5h0M449.5 307h0M423.5 310.5h0M481 310.5h0M479 326.5h0M469.5 326.5h0M463.5 324h0M416.5 331.5h0M462 333h0M481 315h0M475.5 302h0M439.5 318h0M460.5 341h0M423.5 314.5h0M478.5 329h0M409 333.5h0M486 337h0M440.5 313.5h0M489.5 339.5h0M466 318.5h0M489.5 316h0M480 329.5h0M458 325h0M477 321.5h0M490.5 308.5h0M491 314h0M447.5 343h0M466 336h0M465.5 327h0M475 302h0M418 344.5h0M446.5 340h0M434.5 303.5h0M489 330.5h0M467.5 309h0M412.5 296h0M417.5 319h0M485.5 317h0M475 324.5h0M432 340.5h0M434.5 315.5h0M432 322.5h0M445 309h0M478.5 335h0M465 301h0M483 332h0M415 316.5h0M476 303.5h0M474.5 335.5h0M460.5 300.5h0M471 324h0M477 325h0M419 312.5h0M420.5 313h0M438.5 302.5h0M472 276.5h0M420.5 281h0M471.5 279.5h0M445 276.5h0M476 292.5h0M431.5 281h0M438 280h0M447 284.5h0M478.5 284.5h0M469.5 288h0M439 276h0M438 277h0M489 279h0M490.5 281.5h0M443 288.5h0M466.5 288h0M448.5 281h0M477.5 288h0M476 277h0M452.5 291.5h0M458.5 286h0M429 282.5h0M418 290.5h0M433.5 286h0M418.5 276h0M469 280.5h0M445 282h0M479 294h0M473.5 287h0M471.5 290.5h0M456.5 290.5h0M445.5 274.5h0M478 279.5h0M486.5 288h0M447.5 289h0M421.5 287.5h0M426 278h0M481 282.5h0M437.5 276.5h0M462.5 295h0M428.5 281.5h0M452.5 290.5h0M458.5 287.5h0M474.5 279.5h0M458.5 289.5h0M417 284h0M430.5 287.5h0M475 292h0M443 275h0M464 278h0M455 275h0M482 281h0M467 279.5h0M488.5 278.5h0M482.5 288h0M454.5 274.5h0M432.5 279.5h0M488.5 283.5h0M469.5 291h0M423 284.5h0M455 278h0M469 285.5h0M488.5 291h0M462 284h0M485 282h0M453.5 281.5h0M452.5 285.5h0M456.5 284h0M472.5 286.5h0M449 288h0M468.5 276.5h0M435 289h0M443 277h0M458 287h0M450 286h0M430 282.5h0M481 287h0M480 284.5h0M485.5 291h0M451 289.5h0M472.5 286.5h0M475.5 278h0M468.5 288.5h0M433 275.5h0M479 277h0M452.5 277.5h0M468.5 283h0M429 288.5h0M444.5 282.5h0M461 284h0M422.5 277h0M429.5 278h0M469.5 286h0M475.5 280h0M430.5 280.5h0M434 278h0M409 286.5h0M432 279.5h0M445 275.5h0M419 286h0M487 285h0M473 286h0M467.5 284.5h0M463.5 278h0M428 275h0M459 281.5h0M482.5 284h0M474.5 280.5h0M456.5 280.5h0M412 288h0M452 280.5h0M472 284h0M461 286h0M450 275h0M482.5 282.5h0M424.5 274h0M485.5 282.5h0M487.5 285.5h0M465.5 288h0M468 283.5h0M450 281h0M475.5 284.5h0M471.5 276h0M414 279h0M444 284.5h0M438 282.5h0M466.5 287h0M487 289h0M438.5 278.5h0M489.5 290h0M434.5 287h0M436 282.5h0M471.5 284.5h0M428 283.5h0M483.5 281.5h0M456 281h0M452.5 286h0M449 278.5h0M466.5 286h0M417 281.5h0M432 287.5h0M467 277.5h0M437.5 287.5h0M456 282h0M438.5 278h0M445 288.5h0M465 276.5h0M477.5 290h0M448.5 284h0M488 283h0M449 284h0M489 284.5h0M455 285.5h0M438 278h0M455.5 273h0M453 276.5h0M450.5 283.5h0M476 289h0M449 275.5h0M461.5 290h0M409 279.5h0M424 277.5h0M416 288.5h0M421.5 288.5h0M454 288h0M476.5 286.5h0M420 289.5h0M443.5 287.5h0M485 288h0M454.5 278h0M455.5 271h0M453.5 276h0M469.5 279.5h0M470.5 282.5h0M480 278.5h0M443 280h0M469.5 275.5h0M469 279.5h0M456 288h0M425.5 287.5h0M440.5 290.5h0M443 285.5h0M485 282h0M454 283h0M432 289.5h0M474 289h0M437 279h0M411 285h0M477.5 288.5h0M451.5 283h0M420 287h0M470.5 279.5h0M486.5 283h0M446 283h0M453 284.5h0M461.5 288h0M481 282.5h0M473.5 286h0M466.5 281h0M427.5 285h0M474 276.5h0M471.5 284h0M462.5 291.5h0M470.5 282h0M450 289.5h0M420 279h0M439.5 281.5h0M486 284.5h0M442 276.5h0M477.5 289h0M481 273.5h0M470.5 290.5h0M453.5 275h0M436 273.5h0M418.5 278.5h0M414 282.5h0M490 287.5h0M485.5 288h0M475.5 280h0M430.5 285.5h0M432.5 282.5h0M448 279.5h0M417 282.5h0M448.5 275.5h0M426 285.5h0M444 286.5h0M489 287h0M451 284.5h0M465 289.5h0M457 282h0M472 281.5h0M455 293h0M459.5 286h0M432.5 282.5h0M434.5 282.5h0M430 281h0M413.5 282.5h0M460 280h0M434 282h0M438 280h0M469.5 292.5h0M476 282.5h0M446 283.5h0M450 286.5h0M468 277.5h0M431.5 281h0M472.5 287.5h0M474 288.5h0M420 278h0M449 277h0M417.5 286h0M483 284.5h0M466 278.5h0M484 289h0M428 287.5h0M440.5 281.5h0M473 280h0M466 281.5h0M487.5 278.5h0M485 289.5h0M459 280.5h0M486 285h0M484 279.5h0M474 284.5h0M455.5 291h0M440.5 273h0M433 277h0M468.5 278h0M437.5 284h0M426 277h0M430.5 290h0M463.5 276.5h0M429.5 282h0M450 282h0M414.5 279h0M424.5 273h0M421.5 280.5h0M460 279.5h0M451 278h0M424.5 292.5h0M467.5 292h0M468.5 286h0M459.5 285.5h0M472.5 274.5h0M437 283.5h0M475 288.5h0M484.5 284h0M463.5 279h0M467.5 290h0M457 276.5h0M447.5 283.5h0M460 274h0M420 279.5h0M485 284.5h0M443.5 288h0M491.5 282.5h0M464.5 281.5h0M422.5 287h0M434.5 276h0M458.5 284h0M432 285h0M429 293.5h0M422.5 284.5h0M440 281h0M488 276.5h0M445.5 283.5h0M458 284h0M420.5 277h0M417.5 286.5h0M467 290h0M466.5 286h0M486 283h0M477 275.5h0M468.5 278.5h0M419.5 286h0M439 276.5h0M432 278.5h0M431.5 285.5h0M478.5 287h0M447.5 279.5h0M436 278.5h0M436.5 282h0M482 279.5h0M458.5 289.5h0M445 284h0M423 283h0M450.5 286.5h0M423.5 282h0M439.5 282h0M462.5 278h0M427 275h0M461 281.5h0M477 277.5h0M425.5 284.5h0M422.5 287h0M486 287.5h0M425.5 275.5h0M444.5 286.5h0M461 288.5h0M459.5 282h0M435.5 283h0M454.5 279h0M466.5 283h0M471.5 278h0M473.5 279.5h0M476.5 279.5h0M438 272.5h0M455.5 286h0M424.5 280.5h0M464.5 284h0M480.5 289h0M468.5 287h0M481.5 278h0M468 286h0M420 278.5h0M444.5 279.5h0M452.5 284.5h0M442.5 285h0M461.5 290h0M435 290h0M419.5 281.5h0M425.5 287.5h0M447.5 284.5h0M478.5 281h0M464.5 280h0M437 281h0M464.5 275h0M467 287h0M442.5 274.5h0M434.5 286h0M422 280h0M460 286h0M476 282h0M425.5 276h0M473 287h0M441.5 282h0M468.5 282h0M486 282h0M481 282h0M494.5 283h0M414 283.5h0M484.5 288.5h0M446.5 272.5h0M434.5 290h0M472.5 276h0M426.5 278.5h0M455 276.5h0M473.5 282h0M460 279h0M442 290h0M453 283h0M428.5 281h0M416 279.5h0M451.5 281.5h0M462 278.5h0M456 276.5h0M481.5 282.5h0M467.5 284h0M419 277h0M426 284h0M467 279h0M449.5 286h0M465.5 276.5h0M443.5 276.5h0M425.5 286h0M476.5 282.5h0M474.5 287h0M448 274h0M459 283h0M452 272.5h0M455 275.5h0M458.5 285.5h0M425.5 283h0M469.5 291.5h0M444.5 284h0M416.5 282h0M450 280.5h0M439.5 278h0M458 284h0M466.5 273.5h0M448.5 271h0M453 282.5h0M448 280.5h0M442 284.5h0M470.5 279.5h0M477.5 281.5h0M467.5 285.5h0M426.5 284.5h0M450.5 282h0M464 282.5h0M420 282h0M480 290.5h0M427 285h0M487 286.5h0M478 276h0M422 281.5h0M470.5 285h0M467 274.5h0M473 281h0M457 283h0M416.5 286h0M427 287.5h0M457.5 280h0M449 290.5h0M484 281.5h0M449 283h0M443.5 279.5h0M418.5 279h0M424 288.5h0M425 285.5h0M456.5 279.5h0M458.5 288.5h0M483 290h0M476 273h0M433 277.5h0M416 278h0M431.5 281h0M429.5 286h0M446.5 288h0M450 279.5h0M470.5 285h0M464 279h0M444.5 278.5h0M435 277.5h0M488.5 278h0M473 276h0M475.5 277.5h0M427.5 283.5h0M423 289h0M421 283.5h0M455 282h0M451 284.5h0M437.5 280.5h0M436 282h0M441 288h0M431.5 288.5h0M444.5 286.5h0M469 278.5h0M486.5 282h0M482 281h0M462 280.5h0M461.5 284.5h0M475.5 281h0M433.5 284.5h0M431.5 290.5h0M427.5 285h0M433.5 287.5h0M467.5 271h0M428 279.5h0M474.5 274.5h0M486 283.5h0M468 284.5h0M415.5 284h0M470 289.5h0M474 278.5h0M462 283.5h0M469 273h0M473 276h0M441.5 283h0M418 285.5h0M410.5 282h0M421 285h0M469.5 278h0M448 290h0M445 286.5h0M471.5 275h0M481.5 289.5h0M422.5 272.5h0M428.5 277.5h0M472 282h0M476.5 280.5h0M476 291h0M462.5 288.5h0M448 275h0M483.5 285h0M488 280.5h0M478.5 277.5h0M448 286h0M435.5 286.5h0M482 274.5h0M420.5 280h0M452 272.5h0M466.5 286h0M418.5 279.5h0M475 284.5h0M432.5 279.5h0M439 279h0M458 289.5h0M477 283.5h0M434 286.5h0M441.5 284h0M475 291.5h0M454.5 278.5h0M467.5 286.5h0M463.5 274h0M470.5 273.5h0M473.5 286.5h0M466 288h0M477.5 277.5h0M412 284.5h0M444 277.5h0M468.5 275.5h0M478 281.5h0M421 291.5h0M470.5 283h0M461 283h0M461 282h0M434.5 288h0M429 275h0M444.5 284.5h0M462.5 279h0M470.5 280.5h0M458.5 282.5h0M439 285.5h0M457 280h0M443.5 282.5h0M441 278.5h0M453 285.5h0M471.5 281h0M494 287h0M464.5 280h0M473 284.5h0M461 283h0M488 286.5h0M451.5 275.5h0M473.5 295h0M456 284.5h0M468 288.5h0M472 285.5h0M451 292.5h0M453 281h0M478 281.5h0M461.5 281h0M438 280.5h0M433 276h0M452 283.5h0M476 279h0M423.5 289.5h0M453 289h0M446 280.5h0M421.5 288h0M430.5 283.5h0M477 288.5h0M420 278.5h0M477 280.5h0M458.5 285.5h0M428 277.5h0M432 285h0M469 293.5h0M469 285h0M487 277.5h0M463.5 283h0M434 281.5h0M468.5 282h0M449 279h0M462 290h0M482 290.5h0M441.5 287.5h0M464 288h0M453 290h0M432.5 284.5h0M464 277h0M443 286.5h0M445.5 289h0M475.5 283.5h0M475.5 280h0M484 278h0M439 277.5h0M436.5 278h0M434.5 280h0M433.5 285h0M486.5 290h0M465 289h0M468.5 284.5h0M460 275.5h0M444 285h0M470 280.5h0M465.5 277.5h0M426.5 294h0M420.5 279h0M418 273.5h0M461.5 281h0M435 281h0M472.5 283.5h0M456 282.5h0M422.5 284h0M439 281h0M448 286.5h0M479 276.5h0M484 287.5h0M439 280h0M466 282h0M455 283h0M474.5 282.5h0M424 281h0M484 288.5h0M480.5 277h0M435.5 275.5h0M441.5 287.5h0M449.5 283.5h0M465 286h0M452 283h0M481 291h0M485.5 279.5h0M470 289h0M466 283h0M435.5 274h0M469.5 286h0M437.5 284.5h0M419 288.5h0M467 283.5h0M445 282h0M450 281.5h0M443 282h0M465.5 278h0M438.5 290.5h0M439 275.5h0M475.5 289.5h0M468 284h0M434 285h0M433 287h0M479.5 280h0M469 289h0M466.5 281.5h0M427.5 276h0M465.5 276h0M484.5 284.5h0M433 285h0M433 277.5h0M455.5 272.5h0M414.5 281.5h0M427 283h0M478.5 286h0M430.5 281.5h0M431 282.5h0M467 277h0M448 287h0M468.5 290.5h0M483 285.5h0M448.5 281.5h0M425.5 277.5h0M488 289h0M446.5 279h0M442.5 281h0M463 289.5h0M444.5 279.5h0M418 278h0M448 285.5h0M433.5 287h0M413.5 285h0M457.5 288.5h0M431.5 276.5h0M480.5 284.5h0M477.5 289h0M477.5 279h0M457 284.5h0M478.5 283h0M434 290.5h0M477 286.5h0M465.5 289.5h0M482.5 280.5h0M429.5 288.5h0M501 291.5h0M489 309h0M457.5 327.5h0M461.5 344.5h0M492 332.5h0M448.5 277h0M491 341.5h0M410.5 285.5h0M489.5 295h0M472.5 342.5h0M470.5 298h0M479.5 348h0M433 334.5h0M448.5 318h0M462 329.5h0M500 296h0M463 325.5h0M441 346h0M440.5 328h0M413.5 326h0M487 286h0M498.5 300.5h0M422 305.5h0M453 326.5h0M428 306.5h0M465.5 295.5h0M488 296h0M458 286.5h0M497 279.5h0M471 345.5h0M422.5 306.5h0M435.5 317.5h0M429.5 305.5h0M424 290h0M494.5 336.5h0M479 324.5h0M406 276h0M465.5 316h0M403 305h0M442.5 293.5h0M408 307h0M449 283.5h0M428.5 335h0M461 328.5h0M456 349h0M501.5 347h0M482 279h0M496 327.5h0M416 307.5h0M473.5 283.5h0M458.5 283h0M440.5 342h0M472.5 341.5h0M446.5 286h0M435 290.5h0M476.5 342.5h0M481 283h0M472 317.5h0M487.5 290.5h0M461 314.5h0M446.5 301h0M473.5 313.5h0M479 295h0M436.5 322h0M404.5 346h0M487.5 297.5h0M462.5 337h0M450.5 316h0M448 320h0M474 287.5h0M411 283.5h0M436.5 304h0M444.5 275h0M430.5 310h0M495 288h0M421 342h0M449.5 282.5h0M451.5 287.5h0M431.5 285h0M502.5 317h0M454 295.5h0M425.5 317h0M432.5 344.5h0M490 296h0M497 343h0M489.5 309.5h0M481.5 339.5h0M412.5 307h0" stroke="#e4261e" stroke-opacity="0.7" stroke-width="1.1" stroke-linecap="square" fill="none"/>
<path d="M412.0,326.0C411.5,322.0 412.0,318.0 413.0,315.0C414.0,312.0 415.5,309.7 418.0,308.0C420.5,306.3 424.3,305.3 428.0,305.0C431.7,304.7 436.3,305.3 440.0,306.0C443.7,306.7 446.7,309.2 450.0,309.0C453.3,308.8 456.7,306.5 460.0,305.0C463.3,303.5 466.3,301.0 470.0,300.0C473.7,299.0 478.8,298.3 482.0,299.0C485.2,299.7 487.5,300.8 489.0,304.0C490.5,307.2 490.8,313.3 491.0,318.0C491.2,322.7 490.8,328.5 490.0,332.0C489.2,335.5 489.3,337.5 486.0,339.0C482.7,340.5 476.0,340.8 470.0,341.0C464.0,341.2 456.7,340.0 450.0,340.0C443.3,340.0 435.7,341.2 430.0,341.0C424.3,340.8 419.0,341.5 416.0,339.0C413.0,336.5 412.5,330.0 412.0,326.0Z" fill="#e92a20" opacity="0.9" filter="url(#fblur2)"/>
<path d="M418.0,326.0C418.3,324.0 418.8,320.6 420.1,319.2C421.4,317.8 423.4,317.7 425.8,317.6C428.2,317.5 431.5,318.2 434.4,318.8C437.3,319.4 440.5,320.6 443.1,321.4C445.7,322.2 447.7,323.5 450.0,323.4C452.3,323.2 454.6,322.0 456.9,320.5C459.2,319.0 461.5,316.1 463.8,314.4C466.1,312.7 468.5,311.1 470.8,310.1C473.1,309.1 475.6,308.4 477.7,308.4C479.8,308.4 482.0,309.1 483.5,310.1C485.0,311.1 486.0,312.2 486.6,314.2C487.2,316.2 487.3,319.5 487.3,322.0C487.3,324.5 487.0,327.7 486.6,329.3C486.2,330.9 486.3,331.2 485.1,331.8C483.9,332.4 481.8,332.8 479.4,333.0C477.0,333.2 474.6,333.1 470.8,333.0C467.1,332.9 460.4,332.8 456.9,332.3C453.4,331.8 452.3,330.2 450.0,330.1C447.7,330.0 446.3,331.2 443.1,331.8C439.9,332.4 434.5,333.4 431.0,333.6C427.5,333.8 424.4,333.4 422.3,333.0C420.2,332.6 419.1,332.2 418.4,331.0C417.7,329.8 417.7,328.0 418.0,326.0Z" fill="#ec3220" stroke="#ec3220" stroke-width="21" stroke-linejoin="round" filter="url(#fblur2)"/>
<g filter="url(#fblur)">
<path d="M418.0,326.0C418.3,324.0 418.8,320.6 420.1,319.2C421.4,317.8 423.4,317.7 425.8,317.6C428.2,317.5 431.5,318.2 434.4,318.8C437.3,319.4 440.5,320.6 443.1,321.4C445.7,322.2 447.7,323.5 450.0,323.4C452.3,323.2 454.6,322.0 456.9,320.5C459.2,319.0 461.5,316.1 463.8,314.4C466.1,312.7 468.5,311.1 470.8,310.1C473.1,309.1 475.6,308.4 477.7,308.4C479.8,308.4 482.0,309.1 483.5,310.1C485.0,311.1 486.0,312.2 486.6,314.2C487.2,316.2 487.3,319.5 487.3,322.0C487.3,324.5 487.0,327.7 486.6,329.3C486.2,330.9 486.3,331.2 485.1,331.8C483.9,332.4 481.8,332.8 479.4,333.0C477.0,333.2 474.6,333.1 470.8,333.0C467.1,332.9 460.4,332.8 456.9,332.3C453.4,331.8 452.3,330.2 450.0,330.1C447.7,330.0 446.3,331.2 443.1,331.8C439.9,332.4 434.5,333.4 431.0,333.6C427.5,333.8 424.4,333.4 422.3,333.0C420.2,332.6 419.1,332.2 418.4,331.0C417.7,329.8 417.7,328.0 418.0,326.0Z" fill="#ef441e" stroke="#ef441e" stroke-width="15.5" stroke-linejoin="round"/>
<path d="M418.0,326.0C418.3,324.0 418.8,320.6 420.1,319.2C421.4,317.8 423.4,317.7 425.8,317.6C428.2,317.5 431.5,318.2 434.4,318.8C437.3,319.4 440.5,320.6 443.1,321.4C445.7,322.2 447.7,323.5 450.0,323.4C452.3,323.2 454.6,322.0 456.9,320.5C459.2,319.0 461.5,316.1 463.8,314.4C466.1,312.7 468.5,311.1 470.8,310.1C473.1,309.1 475.6,308.4 477.7,308.4C479.8,308.4 482.0,309.1 483.5,310.1C485.0,311.1 486.0,312.2 486.6,314.2C487.2,316.2 487.3,319.5 487.3,322.0C487.3,324.5 487.0,327.7 486.6,329.3C486.2,330.9 486.3,331.2 485.1,331.8C483.9,332.4 481.8,332.8 479.4,333.0C477.0,333.2 474.6,333.1 470.8,333.0C467.1,332.9 460.4,332.8 456.9,332.3C453.4,331.8 452.3,330.2 450.0,330.1C447.7,330.0 446.3,331.2 443.1,331.8C439.9,332.4 434.5,333.4 431.0,333.6C427.5,333.8 424.4,333.4 422.3,333.0C420.2,332.6 419.1,332.2 418.4,331.0C417.7,329.8 417.7,328.0 418.0,326.0Z" fill="#f25c1e" stroke="#f25c1e" stroke-width="12" stroke-linejoin="round"/>
<path d="M418.0,326.0C418.3,324.0 418.8,320.6 420.1,319.2C421.4,317.8 423.4,317.7 425.8,317.6C428.2,317.5 431.5,318.2 434.4,318.8C437.3,319.4 440.5,320.6 443.1,321.4C445.7,322.2 447.7,323.5 450.0,323.4C452.3,323.2 454.6,322.0 456.9,320.5C459.2,319.0 461.5,316.1 463.8,314.4C466.1,312.7 468.5,311.1 470.8,310.1C473.1,309.1 475.6,308.4 477.7,308.4C479.8,308.4 482.0,309.1 483.5,310.1C485.0,311.1 486.0,312.2 486.6,314.2C487.2,316.2 487.3,319.5 487.3,322.0C487.3,324.5 487.0,327.7 486.6,329.3C486.2,330.9 486.3,331.2 485.1,331.8C483.9,332.4 481.8,332.8 479.4,333.0C477.0,333.2 474.6,333.1 470.8,333.0C467.1,332.9 460.4,332.8 456.9,332.3C453.4,331.8 452.3,330.2 450.0,330.1C447.7,330.0 446.3,331.2 443.1,331.8C439.9,332.4 434.5,333.4 431.0,333.6C427.5,333.8 424.4,333.4 422.3,333.0C420.2,332.6 419.1,332.2 418.4,331.0C417.7,329.8 417.7,328.0 418.0,326.0Z" fill="#f5861e" stroke="#f5861e" stroke-width="9" stroke-linejoin="round"/>
<path d="M418.0,326.0C418.3,324.0 418.8,320.6 420.1,319.2C421.4,317.8 423.4,317.7 425.8,317.6C428.2,317.5 431.5,318.2 434.4,318.8C437.3,319.4 440.5,320.6 443.1,321.4C445.7,322.2 447.7,323.5 450.0,323.4C452.3,323.2 454.6,322.0 456.9,320.5C459.2,319.0 461.5,316.1 463.8,314.4C466.1,312.7 468.5,311.1 470.8,310.1C473.1,309.1 475.6,308.4 477.7,308.4C479.8,308.4 482.0,309.1 483.5,310.1C485.0,311.1 486.0,312.2 486.6,314.2C487.2,316.2 487.3,319.5 487.3,322.0C487.3,324.5 487.0,327.7 486.6,329.3C486.2,330.9 486.3,331.2 485.1,331.8C483.9,332.4 481.8,332.8 479.4,333.0C477.0,333.2 474.6,333.1 470.8,333.0C467.1,332.9 460.4,332.8 456.9,332.3C453.4,331.8 452.3,330.2 450.0,330.1C447.7,330.0 446.3,331.2 443.1,331.8C439.9,332.4 434.5,333.4 431.0,333.6C427.5,333.8 424.4,333.4 422.3,333.0C420.2,332.6 419.1,332.2 418.4,331.0C417.7,329.8 417.7,328.0 418.0,326.0Z" fill="#eee22c" stroke="#eee22c" stroke-width="6.4" stroke-linejoin="round"/>
<path d="M418.0,326.0C418.3,324.0 418.8,320.6 420.1,319.2C421.4,317.8 423.4,317.7 425.8,317.6C428.2,317.5 431.5,318.2 434.4,318.8C437.3,319.4 440.5,320.6 443.1,321.4C445.7,322.2 447.7,323.5 450.0,323.4C452.3,323.2 454.6,322.0 456.9,320.5C459.2,319.0 461.5,316.1 463.8,314.4C466.1,312.7 468.5,311.1 470.8,310.1C473.1,309.1 475.6,308.4 477.7,308.4C479.8,308.4 482.0,309.1 483.5,310.1C485.0,311.1 486.0,312.2 486.6,314.2C487.2,316.2 487.3,319.5 487.3,322.0C487.3,324.5 487.0,327.7 486.6,329.3C486.2,330.9 486.3,331.2 485.1,331.8C483.9,332.4 481.8,332.8 479.4,333.0C477.0,333.2 474.6,333.1 470.8,333.0C467.1,332.9 460.4,332.8 456.9,332.3C453.4,331.8 452.3,330.2 450.0,330.1C447.7,330.0 446.3,331.2 443.1,331.8C439.9,332.4 434.5,333.4 431.0,333.6C427.5,333.8 424.4,333.4 422.3,333.0C420.2,332.6 419.1,332.2 418.4,331.0C417.7,329.8 417.7,328.0 418.0,326.0Z" fill="#7cc83c" stroke="#7cc83c" stroke-width="4.2" stroke-linejoin="round"/>
<path d="M418.0,326.0C418.3,324.0 418.8,320.6 420.1,319.2C421.4,317.8 423.4,317.7 425.8,317.6C428.2,317.5 431.5,318.2 434.4,318.8C437.3,319.4 440.5,320.6 443.1,321.4C445.7,322.2 447.7,323.5 450.0,323.4C452.3,323.2 454.6,322.0 456.9,320.5C459.2,319.0 461.5,316.1 463.8,314.4C466.1,312.7 468.5,311.1 470.8,310.1C473.1,309.1 475.6,308.4 477.7,308.4C479.8,308.4 482.0,309.1 483.5,310.1C485.0,311.1 486.0,312.2 486.6,314.2C487.2,316.2 487.3,319.5 487.3,322.0C487.3,324.5 487.0,327.7 486.6,329.3C486.2,330.9 486.3,331.2 485.1,331.8C483.9,332.4 481.8,332.8 479.4,333.0C477.0,333.2 474.6,333.1 470.8,333.0C467.1,332.9 460.4,332.8 456.9,332.3C453.4,331.8 452.3,330.2 450.0,330.1C447.7,330.0 446.3,331.2 443.1,331.8C439.9,332.4 434.5,333.4 431.0,333.6C427.5,333.8 424.4,333.4 422.3,333.0C420.2,332.6 419.1,332.2 418.4,331.0C417.7,329.8 417.7,328.0 418.0,326.0Z" fill="#2a4ccc" stroke="#2a4ccc" stroke-width="1.8" stroke-linejoin="round"/>
<path d="M418.0,326.0C418.3,324.0 418.8,320.6 420.1,319.2C421.4,317.8 423.4,317.7 425.8,317.6C428.2,317.5 431.5,318.2 434.4,318.8C437.3,319.4 440.5,320.6 443.1,321.4C445.7,322.2 447.7,323.5 450.0,323.4C452.3,323.2 454.6,322.0 456.9,320.5C459.2,319.0 461.5,316.1 463.8,314.4C466.1,312.7 468.5,311.1 470.8,310.1C473.1,309.1 475.6,308.4 477.7,308.4C479.8,308.4 482.0,309.1 483.5,310.1C485.0,311.1 486.0,312.2 486.6,314.2C487.2,316.2 487.3,319.5 487.3,322.0C487.3,324.5 487.0,327.7 486.6,329.3C486.2,330.9 486.3,331.2 485.1,331.8C483.9,332.4 481.8,332.8 479.4,333.0C477.0,333.2 474.6,333.1 470.8,333.0C467.1,332.9 460.4,332.8 456.9,332.3C453.4,331.8 452.3,330.2 450.0,330.1C447.7,330.0 446.3,331.2 443.1,331.8C439.9,332.4 434.5,333.4 431.0,333.6C427.5,333.8 424.4,333.4 422.3,333.0C420.2,332.6 419.1,332.2 418.4,331.0C417.7,329.8 417.7,328.0 418.0,326.0Z" fill="#3f2896"/>
</g>
<ellipse cx="450" cy="326.8" rx="8" ry="3.2" fill="#2a5ad0" filter="url(#fblur2)"/>
<ellipse cx="450" cy="326.8" rx="2.8" ry="1.3" fill="#2a80c8" opacity="0.5" filter="url(#fblur)"/>
<line x1="439.6" y1="306.5" x2="439.6" y2="353" stroke="#222" stroke-width="0.5" opacity="0.0"/>
<line x1="465" y1="306.5" x2="465" y2="353" stroke="#222" stroke-width="0.5" opacity="0.0"/>
<text x="410.8" y="362" font-size="3.2" fill="#555" text-anchor="middle">Low</text>
<text x="449.5" y="362" font-size="3.2" fill="#555" text-anchor="middle">Mid</text>
<text x="477" y="362" font-size="3.2" fill="#555" text-anchor="middle">Hi</text>
<polygon points="450.6,269.8 425.8,291.9 424.7,290.6 422.3,296.2 428.1,294.5 427.0,293.2 451.8,271.0" fill="#000"/>
<polygon points="450.4,270.5 451.6,290.6 449.9,290.7 452.8,296.0 455.1,290.3 453.3,290.5 452.0,270.3" fill="#000"/>
<polygon points="450.6,271.0 475.8,293.0 474.6,294.3 480.5,296.0 478.1,290.4 476.9,291.7 451.8,269.8" fill="#000"/>
<text x="1.3" y="165.8" font-size="16.2" font-weight="bold" fill="#111" textLength="10.3" lengthAdjust="spacingAndGlyphs" stroke="#111" stroke-width="0.1">B</text>
<rect x="1.5" y="186.3" width="67.9" height="24.2" fill="#fff" stroke="#404040" stroke-width="1.15"/>
<text x="11.0" y="203.5" font-size="12.2" font-weight="bold" fill="#111" textLength="48.6" lengthAdjust="spacingAndGlyphs">Day zero</text>
<rect x="152.5" y="154.0" width="65.8" height="24.3" fill="#fff" stroke="#404040" stroke-width="1.15"/>
<text x="161.5" y="170.8" font-size="12.2" font-weight="bold" fill="#111" textLength="45.8" lengthAdjust="spacingAndGlyphs">Day one</text>
<rect x="283.3" y="154.0" width="76.5" height="24.3" fill="#fff" stroke="#404040" stroke-width="1.15"/>
<text x="292.7" y="170.8" font-size="12.2" font-weight="bold" fill="#111" textLength="55.2" lengthAdjust="spacingAndGlyphs">Day three</text>
<rect x="417.6" y="154.0" width="65.1" height="24.0" fill="#fff" stroke="#404040" stroke-width="1.15"/>
<text x="427.7" y="170.8" font-size="12.2" font-weight="bold" fill="#111" textLength="45.0" lengthAdjust="spacingAndGlyphs">Day five</text>
<polygon points="69.8,200.1 88.1,197.6 88.8,202.3 102.2,193.4 86.9,188.4 87.5,193.1 69.2,195.5" fill="#1766b5"/>
<polygon points="68.3,201.8 79.9,208.5 77.6,212.4 93.7,213.6 84.6,200.3 82.3,204.3 70.7,197.6" fill="#e8232d"/>
<text x="109.4" y="197.6" font-size="13" font-weight="bold" fill="#1a62b0" textLength="20.4" lengthAdjust="spacingAndGlyphs">CSS</text>
<text x="100.6" y="218.1" font-size="13.4" font-weight="bold" fill="#e0262e" textLength="37.4" lengthAdjust="spacingAndGlyphs">R1881</text>
<polygon points="145.6,216.3 486.5,216.3 486.5,221.4 501.0,213.7 486.5,206.0 486.5,211.0 145.6,211.0" fill="#e8232d"/>
<polygon points="137.0,196.1 487.0,196.1 487.0,200.9 501.0,193.5 487.0,186.1 487.0,190.9 137.0,190.9" fill="#1766b5"/>
<polygon points="162.0,211.5 162.0,230.5 157.2,230.5 164.5,245.0 171.8,230.5 167.0,230.5 167.0,211.5" fill="#e8232d"/>
<polygon points="300.3,211.5 300.3,232.5 295.6,232.5 302.8,247.0 310.1,232.5 305.3,232.5 305.3,211.5" fill="#e8232d"/>
<polygon points="432.9,211.5 432.9,231.5 428.1,231.5 435.4,246.0 442.6,231.5 437.9,231.5 437.9,211.5" fill="#e8232d"/>
<polygon points="202.3,191.5 202.3,232.5 197.3,232.5 204.8,247.0 212.3,232.5 207.3,232.5 207.3,191.5" fill="#1766b5"/>
<polygon points="341.4,191.5 341.4,231.5 336.4,231.5 343.9,246.0 351.4,231.5 346.4,231.5 346.4,191.5" fill="#1766b5"/>
<polygon points="469.3,191.5 469.3,230.1 464.3,230.1 471.8,244.6 479.3,230.1 474.3,230.1 474.3,191.5" fill="#1766b5"/>
<rect x="154.0" y="245.3" width="62.3" height="23.7" fill="#fff" stroke="#404040" stroke-width="1.15"/>
<text x="160.8" y="262.3" font-size="14.8" fill="#111" textLength="48.0" lengthAdjust="spacingAndGlyphs">Pre-sort</text>
<rect x="291.0" y="248.2" width="61.8" height="23.8" fill="#fff" stroke="#404040" stroke-width="1.15"/>
<text x="297.0" y="265.2" font-size="14.8" fill="#111" textLength="48.0" lengthAdjust="spacingAndGlyphs">Pre-sort</text>
<rect x="419.4" y="246.6" width="62.1" height="23.6" fill="#fff" stroke="#404040" stroke-width="1.15"/>
<text x="426.0" y="263.3" font-size="14.8" fill="#111" textLength="48.0" lengthAdjust="spacingAndGlyphs">Pre-sort</text>
<polygon points="116.3,348.3 116.3,280.7 118.9,280.7 115.0,273.2 111.1,280.7 113.7,280.7 113.7,348.3" fill="#000"/>
<text transform="translate(119.2,378) rotate(-90)" font-size="10.3" font-weight="bold" fill="#111" stroke="#111" stroke-width="0.3" textLength="22.2" lengthAdjust="spacingAndGlyphs">DAPI</text>
<text x="143.4" y="398.8" font-size="9.6" font-weight="bold" fill="#111" textLength="11.4" lengthAdjust="spacingAndGlyphs" stroke="#111" stroke-width="0.3">PE</text>
<polygon points="161.8,396.1 494.0,396.1 494.0,398.6 501.5,394.8 494.0,391.1 494.0,393.6 161.8,393.6" fill="#000"/>
<text x="0.9" y="428.8" font-size="16.2" font-weight="bold" fill="#111" stroke="#111" stroke-width="0.6">C</text>
<text x="129.4" y="427.2" font-size="11.2" font-weight="bold" fill="#111" textLength="29.8" lengthAdjust="spacingAndGlyphs" stroke="#111" stroke-width="0.25">CD44</text>
<text x="159.8" y="421.6" font-size="8" font-weight="bold" fill="#111" textLength="14.2" lengthAdjust="spacingAndGlyphs">low</text>
<line x1="60.8" y1="483.2" x2="240" y2="483.2" stroke="#222" stroke-width="1" stroke-dasharray="1.2 2.1"/>
<line x1="121.4" y1="441.5" x2="121.4" y2="564.0" stroke="#222" stroke-width="1" stroke-dasharray="1.2 2.1"/>
<path d="M60.8,442.8 V564.0 H242.9" stroke="#111" stroke-width="1.4" fill="none"/>
<line x1="56.8" y1="564.0" x2="60.8" y2="564.0" stroke="#111" stroke-width="1.3"/>
<text x="54.2" y="567.0" font-size="8.4" font-weight="bold" text-anchor="end" fill="#111" stroke="#111" stroke-width="0.25">0.0</text>
<line x1="56.8" y1="523.6" x2="60.8" y2="523.6" stroke="#111" stroke-width="1.3"/>
<text x="54.2" y="526.6" font-size="8.4" font-weight="bold" text-anchor="end" fill="#111" stroke="#111" stroke-width="0.25">0.5</text>
<line x1="56.8" y1="483.2" x2="60.8" y2="483.2" stroke="#111" stroke-width="1.3"/>
<text x="54.2" y="486.2" font-size="8.4" font-weight="bold" text-anchor="end" fill="#111" stroke="#111" stroke-width="0.25">1.0</text>
<line x1="56.8" y1="442.8" x2="60.8" y2="442.8" stroke="#111" stroke-width="1.3"/>
<text x="54.2" y="445.8" font-size="8.4" font-weight="bold" text-anchor="end" fill="#111" stroke="#111" stroke-width="0.25">1.5</text>
<line x1="60.7" y1="564.0" x2="60.7" y2="567.8" stroke="#111" stroke-width="1.1"/>
<line x1="66.8" y1="564.0" x2="66.8" y2="566.3" stroke="#111" stroke-width="1.1"/>
<line x1="72.8" y1="564.0" x2="72.8" y2="566.3" stroke="#111" stroke-width="1.1"/>
<line x1="78.8" y1="564.0" x2="78.8" y2="566.3" stroke="#111" stroke-width="1.1"/>
<line x1="84.9" y1="564.0" x2="84.9" y2="566.3" stroke="#111" stroke-width="1.1"/>
<line x1="91.0" y1="564.0" x2="91.0" y2="566.3" stroke="#111" stroke-width="1.1"/>
<line x1="97.0" y1="564.0" x2="97.0" y2="566.3" stroke="#111" stroke-width="1.1"/>
<line x1="103.1" y1="564.0" x2="103.1" y2="566.3" stroke="#111" stroke-width="1.1"/>
<line x1="109.1" y1="564.0" x2="109.1" y2="566.3" stroke="#111" stroke-width="1.1"/>
<line x1="115.2" y1="564.0" x2="115.2" y2="566.3" stroke="#111" stroke-width="1.1"/>
<line x1="121.2" y1="564.0" x2="121.2" y2="567.8" stroke="#111" stroke-width="1.1"/>
<line x1="127.2" y1="564.0" x2="127.2" y2="566.3" stroke="#111" stroke-width="1.1"/>
<line x1="133.3" y1="564.0" x2="133.3" y2="566.3" stroke="#111" stroke-width="1.1"/>
<line x1="139.3" y1="564.0" x2="139.3" y2="566.3" stroke="#111" stroke-width="1.1"/>
<line x1="145.4" y1="564.0" x2="145.4" y2="566.3" stroke="#111" stroke-width="1.1"/>
<line x1="151.4" y1="564.0" x2="151.4" y2="566.3" stroke="#111" stroke-width="1.1"/>
<line x1="157.5" y1="564.0" x2="157.5" y2="566.3" stroke="#111" stroke-width="1.1"/>
<line x1="163.6" y1="564.0" x2="163.6" y2="566.3" stroke="#111" stroke-width="1.1"/>
<line x1="169.6" y1="564.0" x2="169.6" y2="566.3" stroke="#111" stroke-width="1.1"/>
<line x1="175.7" y1="564.0" x2="175.7" y2="566.3" stroke="#111" stroke-width="1.1"/>
<line x1="181.7" y1="564.0" x2="181.7" y2="567.8" stroke="#111" stroke-width="1.1"/>
<line x1="187.8" y1="564.0" x2="187.8" y2="566.3" stroke="#111" stroke-width="1.1"/>
<line x1="193.8" y1="564.0" x2="193.8" y2="566.3" stroke="#111" stroke-width="1.1"/>
<line x1="199.9" y1="564.0" x2="199.9" y2="566.3" stroke="#111" stroke-width="1.1"/>
<line x1="205.9" y1="564.0" x2="205.9" y2="566.3" stroke="#111" stroke-width="1.1"/>
<line x1="211.9" y1="564.0" x2="211.9" y2="566.3" stroke="#111" stroke-width="1.1"/>
<line x1="218.0" y1="564.0" x2="218.0" y2="566.3" stroke="#111" stroke-width="1.1"/>
<line x1="224.1" y1="564.0" x2="224.1" y2="566.3" stroke="#111" stroke-width="1.1"/>
<line x1="230.1" y1="564.0" x2="230.1" y2="566.3" stroke="#111" stroke-width="1.1"/>
<line x1="236.2" y1="564.0" x2="236.2" y2="566.3" stroke="#111" stroke-width="1.1"/>
<line x1="242.2" y1="564.0" x2="242.2" y2="567.8" stroke="#111" stroke-width="1.1"/>
<text x="60.7" y="578.7" font-size="8.8" font-weight="bold" text-anchor="middle" fill="#111" stroke="#111" stroke-width="0.25">−10,000</text>
<text x="121.2" y="578.7" font-size="8.8" font-weight="bold" text-anchor="middle" fill="#111" stroke="#111" stroke-width="0.25">0</text>
<text x="181.7" y="578.7" font-size="8.8" font-weight="bold" text-anchor="middle" fill="#111" stroke="#111" stroke-width="0.25">10,000</text>
<text x="242.2" y="578.7" font-size="8.8" font-weight="bold" text-anchor="middle" fill="#111" stroke="#111" stroke-width="0.25">20,000</text>
<text x="151.9" y="593.4" font-size="10" font-weight="bold" text-anchor="middle" fill="#111" textLength="48.8" lengthAdjust="spacingAndGlyphs" stroke="#111" stroke-width="0.25">Difference</text>
<text transform="translate(35.3,504.6) rotate(-90)" font-size="8.4" font-weight="bold" fill="#111" stroke="#111" stroke-width="0.25" text-anchor="middle" textLength="64" lengthAdjust="spacingAndGlyphs">−Log (<tspan font-style="italic">q</tspan> value)</text>
<g fill="#111"><circle cx="70.2" cy="543.5" r="2.3"/><circle cx="87.4" cy="539.4" r="2.3"/><circle cx="91.3" cy="539.4" r="2.3"/><circle cx="94.8" cy="539.4" r="2.3"/><circle cx="93.8" cy="546.4" r="2.3"/><circle cx="98.6" cy="548.0" r="2.3"/><circle cx="111.9" cy="512.4" r="2.3"/><circle cx="119.3" cy="515.4" r="2.3"/><circle cx="131.0" cy="515.1" r="2.3"/><circle cx="133.7" cy="515.1" r="2.3"/><circle cx="117.4" cy="529.8" r="2.3"/><circle cx="117.8" cy="534.1" r="2.3"/><circle cx="127.9" cy="534.1" r="2.3"/><circle cx="150.3" cy="543.6" r="2.3"/><circle cx="144.5" cy="539.5" r="2.3"/><circle cx="139.4" cy="539.4" r="2.3"/><circle cx="137.1" cy="548.0" r="2.3"/><circle cx="180.6" cy="539.2" r="2.3"/><circle cx="225.5" cy="539.4" r="2.3"/><circle cx="106.3" cy="539.4" r="2.3"/><circle cx="109.6" cy="538.0" r="2.3"/><circle cx="114.4" cy="538.5" r="2.3"/><circle cx="117.8" cy="539.4" r="2.3"/><circle cx="125.5" cy="538.5" r="2.3"/><circle cx="134.6" cy="538.0" r="2.3"/><circle cx="100.2" cy="547.6" r="2.3"/><circle cx="106.3" cy="548.1" r="2.3"/><circle cx="111.5" cy="547.6" r="2.3"/><circle cx="107.7" cy="543.3" r="2.3"/><circle cx="113.5" cy="544.2" r="2.3"/><circle cx="121.2" cy="543.3" r="2.3"/><circle cx="128.8" cy="541.3" r="2.3"/><circle cx="132.7" cy="542.3" r="2.3"/><circle cx="136.5" cy="543.3" r="2.3"/><circle cx="116.8" cy="554.8" r="2.3"/><circle cx="124.0" cy="553.8" r="2.3"/><circle cx="130.8" cy="555.8" r="2.3"/><circle cx="119.2" cy="558.7" r="2.3"/><circle cx="123.1" cy="558.7" r="2.3"/><circle cx="126.0" cy="557.7" r="2.3"/><circle cx="120.7" cy="561.5" r="2.3"/><circle cx="121.6" cy="563.3" r="2.3"/><circle cx="120.3" cy="544.3" r="2.3"/><circle cx="137.3" cy="543.1" r="2.3"/><circle cx="122.3" cy="544.6" r="2.3"/><circle cx="110.6" cy="543.7" r="2.3"/><circle cx="126.7" cy="547.3" r="2.3"/><circle cx="107.4" cy="540.9" r="2.3"/><circle cx="107.3" cy="547.5" r="2.3"/><circle cx="129.0" cy="537.5" r="2.3"/><circle cx="139.4" cy="549.5" r="2.3"/><circle cx="127.5" cy="545.0" r="2.3"/><circle cx="109.7" cy="537.2" r="2.3"/><circle cx="123.0" cy="537.8" r="2.3"/><circle cx="110.8" cy="540.1" r="2.3"/><circle cx="105.1" cy="543.0" r="2.3"/><circle cx="119.9" cy="548.0" r="2.3"/><circle cx="122.7" cy="545.3" r="2.3"/><circle cx="122.0" cy="545.6" r="2.3"/><circle cx="120.5" cy="540.6" r="2.3"/><circle cx="139.9" cy="549.9" r="2.3"/><circle cx="134.2" cy="546.2" r="2.3"/><circle cx="115.3" cy="540.0" r="2.3"/><circle cx="114.4" cy="537.9" r="2.3"/><circle cx="131.6" cy="542.2" r="2.3"/><circle cx="134.5" cy="542.0" r="2.3"/><circle cx="138.5" cy="548.0" r="2.3"/><circle cx="104.0" cy="539.7" r="2.3"/><circle cx="136.8" cy="543.1" r="2.3"/><circle cx="139.3" cy="542.2" r="2.3"/><circle cx="106.6" cy="545.2" r="2.3"/><circle cx="132.0" cy="540.5" r="2.3"/><circle cx="107.1" cy="541.3" r="2.3"/><circle cx="138.7" cy="546.9" r="2.3"/><circle cx="108.2" cy="540.2" r="2.3"/><circle cx="107.6" cy="537.8" r="2.3"/><circle cx="132.7" cy="539.3" r="2.3"/><circle cx="124.1" cy="542.8" r="2.3"/><circle cx="110.9" cy="546.5" r="2.3"/><circle cx="108.7" cy="545.4" r="2.3"/><circle cx="108.2" cy="542.5" r="2.3"/><circle cx="111.7" cy="540.5" r="2.3"/><circle cx="123.4" cy="561.6" r="2.3"/><circle cx="127.8" cy="553.0" r="2.3"/><circle cx="120.3" cy="551.7" r="2.3"/><circle cx="123.1" cy="560.1" r="2.3"/><circle cx="130.9" cy="550.3" r="2.3"/><circle cx="118.1" cy="551.8" r="2.3"/><circle cx="121.2" cy="559.0" r="2.3"/><circle cx="115.8" cy="552.9" r="2.3"/><circle cx="123.5" cy="550.2" r="2.3"/><circle cx="123.7" cy="552.2" r="2.3"/><circle cx="121.5" cy="553.8" r="2.3"/><circle cx="122.3" cy="561.5" r="2.3"/><circle cx="125.9" cy="556.5" r="2.3"/><circle cx="116.2" cy="551.4" r="2.3"/><circle cx="123.8" cy="560.8" r="2.3"/><circle cx="117.2" cy="552.2" r="2.3"/><circle cx="125.5" cy="558.6" r="2.3"/><circle cx="129.5" cy="551.6" r="2.3"/><circle cx="122.9" cy="560.5" r="2.3"/><circle cx="117.1" cy="554.5" r="2.3"/><circle cx="130.9" cy="549.5" r="2.3"/><circle cx="125.3" cy="552.1" r="2.3"/><circle cx="127.1" cy="552.3" r="2.3"/><circle cx="120.2" cy="556.8" r="2.3"/><circle cx="125.8" cy="551.3" r="2.3"/><circle cx="116.9" cy="549.9" r="2.3"/><circle cx="125.9" cy="556.3" r="2.3"/><circle cx="120.2" cy="557.0" r="2.3"/><circle cx="121.1" cy="560.9" r="2.3"/><circle cx="117.4" cy="549.2" r="2.3"/></g>
<text x="269.9" y="428.7" font-size="16.2" font-weight="bold" fill="#111" stroke="#111" stroke-width="0.6">D</text>
<text x="378.5" y="428.4" font-size="11.2" font-weight="bold" fill="#111" textLength="29.2" lengthAdjust="spacingAndGlyphs" stroke="#111" stroke-width="0.25">CD44</text>
<text x="408.5" y="423.8" font-size="8" font-weight="bold" fill="#111" textLength="18.7" lengthAdjust="spacingAndGlyphs">High</text>
<line x1="313.6" y1="523.4" x2="491" y2="523.4" stroke="#222" stroke-width="1" stroke-dasharray="1.2 2.1"/>
<line x1="402.8" y1="442" x2="402.8" y2="563.4" stroke="#222" stroke-width="1" stroke-dasharray="1.2 2.1"/>
<path d="M313.6,443.5 V563.4 H492.9" stroke="#111" stroke-width="1.4" fill="none"/>
<line x1="309.6" y1="563.4" x2="313.6" y2="563.4" stroke="#111" stroke-width="1.3"/>
<text x="307.2" y="566.4" font-size="8.4" font-weight="bold" text-anchor="end" fill="#111" stroke="#111" stroke-width="0.25">0.0</text>
<line x1="309.6" y1="523.4" x2="313.6" y2="523.4" stroke="#111" stroke-width="1.3"/>
<text x="307.2" y="526.4" font-size="8.4" font-weight="bold" text-anchor="end" fill="#111" stroke="#111" stroke-width="0.25">1.0</text>
<line x1="309.6" y1="483.5" x2="313.6" y2="483.5" stroke="#111" stroke-width="1.3"/>
<text x="307.2" y="486.5" font-size="8.4" font-weight="bold" text-anchor="end" fill="#111" stroke="#111" stroke-width="0.25">2.0</text>
<line x1="309.6" y1="443.5" x2="313.6" y2="443.5" stroke="#111" stroke-width="1.3"/>
<text x="307.2" y="446.5" font-size="8.4" font-weight="bold" text-anchor="end" fill="#111" stroke="#111" stroke-width="0.25">3.0</text>
<line x1="313.4" y1="563.4" x2="313.4" y2="567.1999999999999" stroke="#111" stroke-width="1.1"/>
<text x="313.4" y="578.1" font-size="8.8" font-weight="bold" text-anchor="middle" fill="#111" stroke="#111" stroke-width="0.25">−10,000</text>
<line x1="358.1" y1="563.4" x2="358.1" y2="567.1999999999999" stroke="#111" stroke-width="1.1"/>
<text x="358.1" y="578.1" font-size="8.8" font-weight="bold" text-anchor="middle" fill="#111" stroke="#111" stroke-width="0.25">−5,000</text>
<line x1="402.8" y1="563.4" x2="402.8" y2="567.1999999999999" stroke="#111" stroke-width="1.1"/>
<text x="402.8" y="578.1" font-size="8.8" font-weight="bold" text-anchor="middle" fill="#111" stroke="#111" stroke-width="0.25">0</text>
<line x1="447.5" y1="563.4" x2="447.5" y2="567.1999999999999" stroke="#111" stroke-width="1.1"/>
<text x="447.5" y="578.1" font-size="8.8" font-weight="bold" text-anchor="middle" fill="#111" stroke="#111" stroke-width="0.25">5,000</text>
<line x1="492.2" y1="563.4" x2="492.2" y2="567.1999999999999" stroke="#111" stroke-width="1.1"/>
<text x="492.2" y="578.1" font-size="8.8" font-weight="bold" text-anchor="middle" fill="#111" stroke="#111" stroke-width="0.25">10,000</text>
<text x="402.4" y="592.1" font-size="10" font-weight="bold" text-anchor="middle" fill="#111" textLength="47.6" lengthAdjust="spacingAndGlyphs" stroke="#111" stroke-width="0.25">Difference</text>
<text transform="translate(288.6,504.7) rotate(-90)" font-size="8.4" font-weight="bold" fill="#111" stroke="#111" stroke-width="0.25" text-anchor="middle" textLength="65" lengthAdjust="spacingAndGlyphs">−Log (<tspan font-style="italic">q</tspan> value)</text>
<g fill="#111"><circle cx="412.7" cy="465.4" r="2.3"/><circle cx="428.8" cy="482.3" r="2.3"/><circle cx="432.7" cy="482.3" r="2.3"/><circle cx="378.8" cy="486.7" r="2.3"/><circle cx="379.6" cy="499.6" r="2.3"/><circle cx="359.5" cy="521.3" r="2.3"/><circle cx="409.5" cy="515.2" r="2.3"/><circle cx="410.2" cy="516.6" r="2.3"/><circle cx="381.8" cy="521.1" r="2.3"/><circle cx="457.7" cy="528.8" r="2.3"/><circle cx="430.6" cy="536.3" r="2.3"/><circle cx="369.7" cy="540.3" r="2.3"/><circle cx="371.4" cy="542.4" r="2.3"/><circle cx="405.7" cy="523.9" r="2.3"/><circle cx="391.3" cy="524.2" r="2.3"/><circle cx="397.4" cy="527.3" r="2.3"/><circle cx="380.1" cy="528.5" r="2.3"/><circle cx="385.3" cy="527.3" r="2.3"/><circle cx="383.5" cy="532.0" r="2.3"/><circle cx="412.1" cy="524.2" r="2.3"/><circle cx="412.0" cy="528.5" r="2.3"/><circle cx="419.0" cy="527.7" r="2.3"/><circle cx="420.7" cy="529.4" r="2.3"/><circle cx="427.3" cy="528.5" r="2.3"/><circle cx="390.5" cy="531.0" r="2.3"/><circle cx="391.3" cy="534.6" r="2.3"/><circle cx="393.0" cy="537.2" r="2.3"/><circle cx="405.2" cy="532.9" r="2.3"/><circle cx="406.9" cy="536.3" r="2.3"/><circle cx="410.4" cy="535.5" r="2.3"/><circle cx="414.7" cy="536.3" r="2.3"/><circle cx="389.6" cy="542.4" r="2.3"/><circle cx="415.6" cy="543.3" r="2.3"/><circle cx="414.7" cy="545.8" r="2.3"/><circle cx="391.3" cy="551.9" r="2.3"/><circle cx="417.3" cy="550.7" r="2.3"/><circle cx="394.5" cy="540.5" r="2.3"/><circle cx="388.5" cy="546.0" r="2.3"/><circle cx="415.5" cy="547.0" r="2.3"/><circle cx="392.0" cy="555.0" r="2.3"/><circle cx="406.4" cy="557.1" r="2.3"/><circle cx="414.2" cy="545.2" r="2.3"/><circle cx="402.1" cy="547.7" r="2.3"/><circle cx="404.2" cy="553.9" r="2.3"/><circle cx="410.4" cy="546.0" r="2.3"/><circle cx="411.3" cy="545.6" r="2.3"/><circle cx="406.3" cy="545.4" r="2.3"/><circle cx="394.9" cy="547.1" r="2.3"/><circle cx="404.1" cy="555.9" r="2.3"/><circle cx="414.0" cy="548.7" r="2.3"/><circle cx="399.1" cy="546.2" r="2.3"/><circle cx="393.1" cy="544.2" r="2.3"/><circle cx="397.4" cy="554.5" r="2.3"/><circle cx="398.5" cy="548.9" r="2.3"/><circle cx="411.9" cy="552.1" r="2.3"/><circle cx="397.8" cy="552.1" r="2.3"/><circle cx="408.7" cy="544.1" r="2.3"/><circle cx="416.3" cy="543.4" r="2.3"/><circle cx="399.3" cy="554.0" r="2.3"/><circle cx="389.3" cy="543.9" r="2.3"/><circle cx="398.6" cy="549.7" r="2.3"/><circle cx="403.7" cy="557.7" r="2.3"/><circle cx="406.1" cy="560.4" r="2.3"/><circle cx="404.3" cy="548.9" r="2.3"/><circle cx="397.9" cy="546.4" r="2.3"/><circle cx="391.2" cy="545.8" r="2.3"/><circle cx="393.5" cy="543.9" r="2.3"/><circle cx="400.4" cy="547.5" r="2.3"/><circle cx="405.6" cy="558.7" r="2.3"/><circle cx="401.8" cy="551.0" r="2.3"/><circle cx="412.5" cy="545.5" r="2.3"/><circle cx="406.7" cy="558.0" r="2.3"/><circle cx="397.3" cy="551.6" r="2.3"/><circle cx="402.7" cy="556.9" r="2.3"/><circle cx="402.4" cy="548.5" r="2.3"/><circle cx="400.3" cy="545.8" r="2.3"/><circle cx="403.0" cy="549.4" r="2.3"/><circle cx="391.5" cy="548.2" r="2.3"/><circle cx="399.1" cy="557.9" r="2.3"/><circle cx="407.6" cy="557.4" r="2.3"/><circle cx="399.2" cy="556.4" r="2.3"/><circle cx="396.9" cy="552.2" r="2.3"/><circle cx="407.2" cy="554.0" r="2.3"/><circle cx="402.0" cy="558.5" r="2.3"/><circle cx="407.1" cy="558.2" r="2.3"/><circle cx="398.7" cy="555.2" r="2.3"/><circle cx="403.5" cy="553.1" r="2.3"/><circle cx="408.4" cy="556.7" r="2.3"/><circle cx="409.4" cy="546.3" r="2.3"/><circle cx="410.9" cy="554.0" r="2.3"/><circle cx="407.6" cy="551.0" r="2.3"/><circle cx="406.5" cy="557.7" r="2.3"/><circle cx="406.8" cy="556.7" r="2.3"/><circle cx="401.3" cy="555.4" r="2.3"/><circle cx="406.7" cy="543.8" r="2.3"/><circle cx="402.2" cy="547.3" r="2.3"/><circle cx="390.5" cy="545.5" r="2.3"/><circle cx="397.9" cy="546.4" r="2.3"/></g>
<text x="0.4" y="623.5" font-size="16.2" font-weight="bold" fill="#111" stroke="#111" stroke-width="0.6">E</text>
<path d="M46.6,630.8 V715.7 M44,715.7 H174.7" stroke="#222" stroke-width="1.4" fill="none"/>
<line x1="43.0" y1="630.8" x2="46.6" y2="630.8" stroke="#333" stroke-width="1.1"/>
<text x="42.0" y="633.0" font-size="6.2" font-weight="bold" text-anchor="end" fill="#222" stroke="#222" stroke-width="0.2">20,000</text>
<line x1="43.0" y1="652.0" x2="46.6" y2="652.0" stroke="#333" stroke-width="1.1"/>
<text x="42.0" y="654.2" font-size="6.2" font-weight="bold" text-anchor="end" fill="#222" stroke="#222" stroke-width="0.2">15,000</text>
<line x1="43.0" y1="673.4" x2="46.6" y2="673.4" stroke="#333" stroke-width="1.1"/>
<text x="42.0" y="675.6" font-size="6.2" font-weight="bold" text-anchor="end" fill="#222" stroke="#222" stroke-width="0.2">10,000</text>
<line x1="43.0" y1="694.6" x2="46.6" y2="694.6" stroke="#333" stroke-width="1.1"/>
<text x="42.0" y="696.8" font-size="6.2" font-weight="bold" text-anchor="end" fill="#222" stroke="#222" stroke-width="0.2">5000</text>
<line x1="43.0" y1="715.7" x2="46.6" y2="715.7" stroke="#333" stroke-width="1.1"/>
<text x="42.0" y="717.9" font-size="6.2" font-weight="bold" text-anchor="end" fill="#222" stroke="#222" stroke-width="0.2">0</text>
<line x1="61.4" y1="715.7" x2="61.4" y2="718.7" stroke="#333" stroke-width="1.1"/>
<text x="61.4" y="726.3" font-size="6.6" font-weight="bold" text-anchor="middle" fill="#222" stroke="#222" stroke-width="0.2">Input</text>
<line x1="93.9" y1="715.7" x2="93.9" y2="718.7" stroke="#333" stroke-width="1.1"/>
<text x="93.9" y="726.3" font-size="6.6" font-weight="bold" text-anchor="middle" fill="#222" stroke="#222" stroke-width="0.2">Low</text>
<line x1="126.7" y1="715.7" x2="126.7" y2="718.7" stroke="#333" stroke-width="1.1"/>
<text x="126.7" y="726.3" font-size="6.6" font-weight="bold" text-anchor="middle" fill="#222" stroke="#222" stroke-width="0.2">Medium</text>
<line x1="159.9" y1="715.7" x2="159.9" y2="718.7" stroke="#333" stroke-width="1.1"/>
<text x="159.9" y="726.3" font-size="6.6" font-weight="bold" text-anchor="middle" fill="#222" stroke="#222" stroke-width="0.2">High</text>
<text x="110.7" y="736.1" font-size="7.5" font-weight="bold" text-anchor="middle" fill="#222" textLength="56.0" lengthAdjust="spacingAndGlyphs" stroke="#222" stroke-width="0.2">CD44 Expression</text>
<text x="80.6" y="624.0" font-size="13.7" fill="#222" textLength="58.5" lengthAdjust="spacingAndGlyphs" stroke="#222" stroke-width="0.25">CD44.006</text>
<text transform="translate(17.6,675.8) rotate(-90)" font-size="7" font-weight="bold" fill="#222" stroke="#222" stroke-width="0.2" text-anchor="middle" textLength="76" lengthAdjust="spacingAndGlyphs">Normalized readcount</text>
<circle cx="51.9" cy="696.9" r="1.9" fill="#111"/>
<rect x="50.1" y="706.1" width="3.6" height="3.6" fill="#e0202e"/>
<text x="61.3" y="699.4" font-size="7.2" fill="#333" textLength="13.6" lengthAdjust="spacingAndGlyphs" stroke="#333" stroke-width="0.2">CSS</text>
<text x="61.3" y="710.4" font-size="7.2" fill="#333" textLength="19.2" lengthAdjust="spacingAndGlyphs" stroke="#333" stroke-width="0.2">R1881</text>
<line x1="51.6" y1="672.3" x2="58.4" y2="672.3" stroke="#111" stroke-width="1.1"/>
<circle cx="53.1" cy="672.8" r="2.0" fill="#111"/>
<circle cx="55" cy="671" r="2.0" fill="#111"/>
<circle cx="57.5" cy="670.6" r="2.0" fill="#111"/>
<circle cx="54.4" cy="676.3" r="2.0" fill="#111"/>
<circle cx="52.5" cy="673.8" r="2.0" fill="#111"/>
<line x1="64" y1="673.1" x2="71.2" y2="673.1" stroke="#e0202e" stroke-width="1.1"/>
<rect x="63.1" y="668.8" width="3.7" height="3.7" fill="#e0202e"/>
<rect x="68.2" y="668.8" width="3.7" height="3.7" fill="#e0202e"/>
<rect x="63.7" y="673.8" width="3.7" height="3.7" fill="#e0202e"/>
<rect x="68.2" y="673.8" width="3.7" height="3.7" fill="#e0202e"/>
<rect x="65.7" y="671.2" width="3.7" height="3.7" fill="#e0202e"/>
<line x1="84.4" y1="653.1" x2="91.3" y2="653.1" stroke="#111" stroke-width="1.1"/>
<circle cx="85.6" cy="651" r="2.0" fill="#111"/>
<circle cx="88.1" cy="651.9" r="2.0" fill="#111"/>
<circle cx="90.6" cy="653.1" r="2.0" fill="#111"/>
<circle cx="87.5" cy="654.4" r="2.0" fill="#111"/>
<circle cx="88.1" cy="657.5" r="2.0" fill="#111"/>
<path d="M99,646 V655 M97.2,646 h3.6 M97.2,655 h3.6" stroke="#e0202e" stroke-width="0.9" fill="none"/>
<line x1="95.8" y1="651" x2="103.2" y2="651" stroke="#e0202e" stroke-width="1.1"/>
<rect x="97.2" y="644.1" width="3.7" height="3.7" fill="#e0202e"/>
<rect x="97.2" y="647.1" width="3.7" height="3.7" fill="#e0202e"/>
<rect x="95.7" y="651.6" width="3.7" height="3.7" fill="#e0202e"/>
<rect x="98.8" y="650.0" width="3.7" height="3.7" fill="#e0202e"/>
<rect x="100.7" y="651.6" width="3.7" height="3.7" fill="#e0202e"/>
<rect x="97.2" y="653.1" width="3.7" height="3.7" fill="#e0202e"/>
<path d="M121.3,663.5 V675 M119.5,663.5 h3.6 M119.5,675 h3.6" stroke="#111" stroke-width="0.9" fill="none"/>
<line x1="116.9" y1="670.6" x2="125" y2="670.6" stroke="#111" stroke-width="1.1"/>
<circle cx="121.3" cy="664.4" r="2.0" fill="#111"/>
<circle cx="121.3" cy="667.5" r="2.0" fill="#111"/>
<circle cx="122.5" cy="671.3" r="2.0" fill="#111"/>
<circle cx="120" cy="671.3" r="2.0" fill="#111"/>
<circle cx="118.1" cy="674.4" r="2.0" fill="#111"/>
<path d="M133.1,668 V678 M131.29999999999998,668 h3.6 M131.29999999999998,678 h3.6" stroke="#e0202e" stroke-width="0.9" fill="none"/>
<line x1="129.4" y1="669.4" x2="136.9" y2="669.4" stroke="#e0202e" stroke-width="1.1"/>
<rect x="128.8" y="668.1" width="3.7" height="3.7" fill="#e0202e"/>
<rect x="133.8" y="668.1" width="3.7" height="3.7" fill="#e0202e"/>
<rect x="131.2" y="669.4" width="3.7" height="3.7" fill="#e0202e"/>
<rect x="130.7" y="676.2" width="3.7" height="3.7" fill="#e0202e"/>
<line x1="150" y1="681" x2="158.1" y2="681" stroke="#111" stroke-width="1.1"/>
<circle cx="151.3" cy="680.6" r="2.0" fill="#111"/>
<circle cx="154.4" cy="681.3" r="2.0" fill="#111"/>
<circle cx="156.9" cy="681.5" r="2.0" fill="#111"/>
<line x1="161.5" y1="685" x2="169.5" y2="685" stroke="#e0202e" stroke-width="1.1"/>
<rect x="161.2" y="683.1" width="3.7" height="3.7" fill="#e0202e"/>
<rect x="163.8" y="681.9" width="3.7" height="3.7" fill="#e0202e"/>
<rect x="166.2" y="683.8" width="3.7" height="3.7" fill="#e0202e"/>
<rect x="163.2" y="684.4" width="3.7" height="3.7" fill="#e0202e"/>
<path d="M152.5,672.5 V669.4 H168.1 V676.3" stroke="#111" stroke-width="1.5" fill="none"/>
<circle cx="160.6" cy="663.6" r="1.7" fill="#111"/>
<path d="M218.3,631.4 V716.0 M216,716.0 H345.4" stroke="#222" stroke-width="1.4" fill="none"/>
<line x1="214.70000000000002" y1="631.4" x2="218.3" y2="631.4" stroke="#333" stroke-width="1.1"/>
<text x="214.0" y="633.6" font-size="6.2" font-weight="bold" text-anchor="end" fill="#222" stroke="#222" stroke-width="0.2">25,000</text>
<line x1="214.70000000000002" y1="648.3" x2="218.3" y2="648.3" stroke="#333" stroke-width="1.1"/>
<text x="214.0" y="650.5" font-size="6.2" font-weight="bold" text-anchor="end" fill="#222" stroke="#222" stroke-width="0.2">20,000</text>
<line x1="214.70000000000002" y1="665.2" x2="218.3" y2="665.2" stroke="#333" stroke-width="1.1"/>
<text x="214.0" y="667.4" font-size="6.2" font-weight="bold" text-anchor="end" fill="#222" stroke="#222" stroke-width="0.2">15,000</text>
<line x1="214.70000000000002" y1="682.1" x2="218.3" y2="682.1" stroke="#333" stroke-width="1.1"/>
<text x="214.0" y="684.3" font-size="6.2" font-weight="bold" text-anchor="end" fill="#222" stroke="#222" stroke-width="0.2">10,000</text>
<line x1="214.70000000000002" y1="699.0" x2="218.3" y2="699.0" stroke="#333" stroke-width="1.1"/>
<text x="214.0" y="701.2" font-size="6.2" font-weight="bold" text-anchor="end" fill="#222" stroke="#222" stroke-width="0.2">5,000</text>
<line x1="214.70000000000002" y1="716.0" x2="218.3" y2="716.0" stroke="#333" stroke-width="1.1"/>
<text x="214.0" y="718.2" font-size="6.2" font-weight="bold" text-anchor="end" fill="#222" stroke="#222" stroke-width="0.2">0</text>
<line x1="232.6" y1="716.0" x2="232.6" y2="719.0" stroke="#333" stroke-width="1.1"/>
<text x="232.6" y="726.3" font-size="6.6" font-weight="bold" text-anchor="middle" fill="#222" stroke="#222" stroke-width="0.2">Input</text>
<line x1="265.2" y1="716.0" x2="265.2" y2="719.0" stroke="#333" stroke-width="1.1"/>
<text x="265.2" y="726.3" font-size="6.6" font-weight="bold" text-anchor="middle" fill="#222" stroke="#222" stroke-width="0.2">Low</text>
<line x1="298.3" y1="716.0" x2="298.3" y2="719.0" stroke="#333" stroke-width="1.1"/>
<text x="298.3" y="726.3" font-size="6.6" font-weight="bold" text-anchor="middle" fill="#222" stroke="#222" stroke-width="0.2">Medium</text>
<line x1="331" y1="716.0" x2="331" y2="719.0" stroke="#333" stroke-width="1.1"/>
<text x="331.0" y="726.3" font-size="6.6" font-weight="bold" text-anchor="middle" fill="#222" stroke="#222" stroke-width="0.2">High</text>
<text x="282.8" y="736.1" font-size="7.5" font-weight="bold" text-anchor="middle" fill="#222" textLength="56.0" lengthAdjust="spacingAndGlyphs" stroke="#222" stroke-width="0.2">CD44 Expression</text>
<text x="252.7" y="624.0" font-size="13.7" fill="#222" textLength="58.5" lengthAdjust="spacingAndGlyphs" stroke="#222" stroke-width="0.25">CD44.008</text>
<text transform="translate(190.6,674.3) rotate(-90)" font-size="7" font-weight="bold" fill="#222" stroke="#222" stroke-width="0.2" text-anchor="middle" textLength="76" lengthAdjust="spacingAndGlyphs">Normalized readcount</text>
<circle cx="222.6" cy="696.7" r="1.9" fill="#111"/>
<rect x="220.79999999999998" y="705.9000000000001" width="3.6" height="3.6" fill="#e0202e"/>
<text x="232.0" y="699.2" font-size="7.2" fill="#333" textLength="13.6" lengthAdjust="spacingAndGlyphs" stroke="#333" stroke-width="0.2">CSS</text>
<text x="232.0" y="710.2" font-size="7.2" fill="#333" textLength="19.2" lengthAdjust="spacingAndGlyphs" stroke="#333" stroke-width="0.2">R1881</text>
<path d="M226.4,660.6 V668.3 M224.6,660.6 h3.6 M224.6,668.3 h3.6" stroke="#111" stroke-width="0.9" fill="none"/>
<line x1="222" y1="664.9" x2="231" y2="664.9" stroke="#111" stroke-width="1.1"/>
<circle cx="226" cy="658.5" r="2.0" fill="#111"/>
<circle cx="225.2" cy="665.7" r="2.0" fill="#111"/>
<circle cx="226.9" cy="664.4" r="2.0" fill="#111"/>
<circle cx="229" cy="665.4" r="2.0" fill="#111"/>
<circle cx="224.3" cy="669.6" r="2.0" fill="#111"/>
<circle cx="228.6" cy="668.9" r="2.0" fill="#111"/>
<line x1="234.5" y1="655.5" x2="242.5" y2="655.5" stroke="#e0202e" stroke-width="1.1"/>
<rect x="234.6" y="650.0" width="3.7" height="3.7" fill="#e0202e"/>
<rect x="237.2" y="651.8" width="3.7" height="3.7" fill="#e0202e"/>
<rect x="239.8" y="653.9" width="3.7" height="3.7" fill="#e0202e"/>
<rect x="235.5" y="654.4" width="3.7" height="3.7" fill="#e0202e"/>
<rect x="234.6" y="659.0" width="3.7" height="3.7" fill="#e0202e"/>
<path d="M259.2,683 V703.8 M257.4,683 h3.6 M257.4,703.8 h3.6" stroke="#111" stroke-width="0.9" fill="none"/>
<line x1="255.5" y1="693.7" x2="263.2" y2="693.7" stroke="#111" stroke-width="1.1"/>
<circle cx="257" cy="685.6" r="2.0" fill="#111"/>
<circle cx="261.7" cy="688.5" r="2.0" fill="#111"/>
<circle cx="259.2" cy="705.4" r="2.0" fill="#111"/>
<path d="M272.5,669.2 V684.6 M270.7,669.2 h3.6 M270.7,684.6 h3.6" stroke="#e0202e" stroke-width="0.9" fill="none"/>
<line x1="268.5" y1="678.5" x2="276.5" y2="678.5" stroke="#e0202e" stroke-width="1.1"/>
<rect x="270.0" y="669.4" width="3.7" height="3.7" fill="#e0202e"/>
<rect x="272.3" y="670.2" width="3.7" height="3.7" fill="#e0202e"/>
<rect x="269.4" y="672.1" width="3.7" height="3.7" fill="#e0202e"/>
<rect x="272.3" y="672.8" width="3.7" height="3.7" fill="#e0202e"/>
<rect x="270.1" y="690.0" width="3.7" height="3.7" fill="#e0202e"/>
<path d="M292.2,666.3 V690.4 M290.4,666.3 h3.6 M290.4,690.4 h3.6" stroke="#111" stroke-width="0.9" fill="none"/>
<line x1="288" y1="678.8" x2="296.5" y2="678.8" stroke="#111" stroke-width="1.1"/>
<circle cx="289.6" cy="670.2" r="2.0" fill="#111"/>
<circle cx="294.4" cy="670.2" r="2.0" fill="#111"/>
<circle cx="292.5" cy="678.8" r="2.0" fill="#111"/>
<circle cx="292" cy="696.2" r="2.0" fill="#111"/>
<path d="M304.6,662.5 V695.2 M302.8,662.5 h3.6 M302.8,695.2 h3.6" stroke="#e0202e" stroke-width="0.9" fill="none"/>
<line x1="300.5" y1="679.2" x2="308.5" y2="679.2" stroke="#e0202e" stroke-width="1.1"/>
<rect x="300.2" y="665.4" width="3.7" height="3.7" fill="#e0202e"/>
<rect x="305.0" y="665.4" width="3.7" height="3.7" fill="#e0202e"/>
<rect x="302.8" y="676.9" width="3.7" height="3.7" fill="#e0202e"/>
<rect x="302.8" y="701.0" width="3.7" height="3.7" fill="#e0202e"/>
<path d="M325,657.7 V682.3 M323.2,657.7 h3.6 M323.2,682.3 h3.6" stroke="#111" stroke-width="0.9" fill="none"/>
<line x1="320.5" y1="669.2" x2="329.5" y2="669.2" stroke="#111" stroke-width="1.1"/>
<circle cx="322.3" cy="657.3" r="2.0" fill="#111"/>
<circle cx="327.1" cy="657.7" r="2.0" fill="#111"/>
<circle cx="322.7" cy="669.6" r="2.0" fill="#111"/>
<circle cx="327.7" cy="672.1" r="2.0" fill="#111"/>
<circle cx="325.2" cy="689.4" r="2.0" fill="#111"/>
<line x1="333" y1="657.1" x2="341.5" y2="657.1" stroke="#e0202e" stroke-width="1.1"/>
<rect x="335.4" y="648.5" width="3.7" height="3.7" fill="#e0202e"/>
<rect x="332.9" y="654.9" width="3.7" height="3.7" fill="#e0202e"/>
<rect x="337.8" y="654.9" width="3.7" height="3.7" fill="#e0202e"/>
<rect x="332.9" y="659.6" width="3.7" height="3.7" fill="#e0202e"/>
<rect x="337.8" y="660.0" width="3.7" height="3.7" fill="#e0202e"/>
<path d="M226.6,651.9 V639.4 H239 V645" stroke="#111" stroke-width="1.5" fill="none"/>
<circle cx="232.6" cy="633.0" r="1.7" fill="#111"/>
<path d="M259.2,677 V659.6 H271.3 V664.4" stroke="#111" stroke-width="1.5" fill="none"/>
<circle cx="265.6" cy="653.4" r="1.7" fill="#111"/>
<path d="M324.6,651 V636.5 H337.7 V641.3" stroke="#111" stroke-width="1.5" fill="none"/>
<circle cx="331" cy="630.3" r="1.7" fill="#111"/>
<path d="M391.8,631.1 V715.3 M389.3,715.3 H520" stroke="#222" stroke-width="1.4" fill="none"/>
<line x1="388.2" y1="631.1" x2="391.8" y2="631.1" stroke="#333" stroke-width="1.1"/>
<text x="388.0" y="633.3" font-size="6.2" font-weight="bold" text-anchor="end" fill="#222" stroke="#222" stroke-width="0.2">50,000</text>
<line x1="388.2" y1="648.0" x2="391.8" y2="648.0" stroke="#333" stroke-width="1.1"/>
<text x="388.0" y="650.2" font-size="6.2" font-weight="bold" text-anchor="end" fill="#222" stroke="#222" stroke-width="0.2">40,000</text>
<line x1="388.2" y1="664.9" x2="391.8" y2="664.9" stroke="#333" stroke-width="1.1"/>
<text x="388.0" y="667.1" font-size="6.2" font-weight="bold" text-anchor="end" fill="#222" stroke="#222" stroke-width="0.2">30,000</text>
<line x1="388.2" y1="681.7" x2="391.8" y2="681.7" stroke="#333" stroke-width="1.1"/>
<text x="388.0" y="683.9" font-size="6.2" font-weight="bold" text-anchor="end" fill="#222" stroke="#222" stroke-width="0.2">20,000</text>
<line x1="388.2" y1="698.5" x2="391.8" y2="698.5" stroke="#333" stroke-width="1.1"/>
<text x="388.0" y="700.7" font-size="6.2" font-weight="bold" text-anchor="end" fill="#222" stroke="#222" stroke-width="0.2">10,000</text>
<line x1="388.2" y1="715.3" x2="391.8" y2="715.3" stroke="#333" stroke-width="1.1"/>
<text x="388.0" y="717.5" font-size="6.2" font-weight="bold" text-anchor="end" fill="#222" stroke="#222" stroke-width="0.2">0</text>
<line x1="406.8" y1="715.3" x2="406.8" y2="718.3" stroke="#333" stroke-width="1.1"/>
<text x="406.8" y="726.3" font-size="6.6" font-weight="bold" text-anchor="middle" fill="#222" stroke="#222" stroke-width="0.2">Input</text>
<line x1="439.2" y1="715.3" x2="439.2" y2="718.3" stroke="#333" stroke-width="1.1"/>
<text x="439.2" y="726.3" font-size="6.6" font-weight="bold" text-anchor="middle" fill="#222" stroke="#222" stroke-width="0.2">Low</text>
<line x1="471.5" y1="715.3" x2="471.5" y2="718.3" stroke="#333" stroke-width="1.1"/>
<text x="471.5" y="726.3" font-size="6.6" font-weight="bold" text-anchor="middle" fill="#222" stroke="#222" stroke-width="0.2">Medium</text>
<line x1="504.2" y1="715.3" x2="504.2" y2="718.3" stroke="#333" stroke-width="1.1"/>
<text x="504.2" y="726.3" font-size="6.6" font-weight="bold" text-anchor="middle" fill="#222" stroke="#222" stroke-width="0.2">High</text>
<text x="455.7" y="736.1" font-size="7.5" font-weight="bold" text-anchor="middle" fill="#222" textLength="56.0" lengthAdjust="spacingAndGlyphs" stroke="#222" stroke-width="0.2">CD44 Expression</text>
<text x="426.4" y="624.0" font-size="13.7" fill="#222" textLength="58.6" lengthAdjust="spacingAndGlyphs" stroke="#222" stroke-width="0.25">CD44.009</text>
<text transform="translate(364.2,675) rotate(-90)" font-size="7" font-weight="bold" fill="#222" stroke="#222" stroke-width="0.2" text-anchor="middle" textLength="76" lengthAdjust="spacingAndGlyphs">Normalized readcount</text>
<circle cx="396.6" cy="697" r="1.9" fill="#111"/>
<rect x="394.8" y="706.2" width="3.6" height="3.6" fill="#e0202e"/>
<text x="406.0" y="699.5" font-size="7.2" fill="#333" textLength="13.6" lengthAdjust="spacingAndGlyphs" stroke="#333" stroke-width="0.2">CSS</text>
<text x="406.0" y="710.5" font-size="7.2" fill="#333" textLength="19.2" lengthAdjust="spacingAndGlyphs" stroke="#333" stroke-width="0.2">R1881</text>
<line x1="396.5" y1="649.5" x2="404.5" y2="649.5" stroke="#111" stroke-width="1.1"/>
<circle cx="399.9" cy="646.1" r="2.0" fill="#111"/>
<circle cx="398.4" cy="650.8" r="2.0" fill="#111"/>
<circle cx="401.2" cy="650.8" r="2.0" fill="#111"/>
<circle cx="403.6" cy="650.8" r="2.0" fill="#111"/>
<line x1="409" y1="650.5" x2="417.5" y2="650.5" stroke="#e0202e" stroke-width="1.1"/>
<rect x="408.6" y="648.6" width="3.7" height="3.7" fill="#e0202e"/>
<rect x="411.1" y="648.1" width="3.7" height="3.7" fill="#e0202e"/>
<rect x="413.6" y="648.6" width="3.7" height="3.7" fill="#e0202e"/>
<rect x="411.1" y="649.6" width="3.7" height="3.7" fill="#e0202e"/>
<path d="M433.1,661.9 V686 M431.3,661.9 h3.6 M431.3,686 h3.6" stroke="#111" stroke-width="0.9" fill="none"/>
<line x1="429.5" y1="673.1" x2="437" y2="673.1" stroke="#111" stroke-width="1.1"/>
<circle cx="430.6" cy="666.3" r="2.0" fill="#111"/>
<circle cx="435.4" cy="667.3" r="2.0" fill="#111"/>
<circle cx="433.1" cy="686.2" r="2.0" fill="#111"/>
<line x1="441.5" y1="665" x2="449.5" y2="665" stroke="#e0202e" stroke-width="1.1"/>
<rect x="440.8" y="660.6" width="3.7" height="3.7" fill="#e0202e"/>
<rect x="446.0" y="660.6" width="3.7" height="3.7" fill="#e0202e"/>
<rect x="443.1" y="663.5" width="3.7" height="3.7" fill="#e0202e"/>
<rect x="446.6" y="662.5" width="3.7" height="3.7" fill="#e0202e"/>
<rect x="443.1" y="670.2" width="3.7" height="3.7" fill="#e0202e"/>
<path d="M465.8,656 V672 M464.0,656 h3.6 M464.0,672 h3.6" stroke="#111" stroke-width="0.9" fill="none"/>
<line x1="462" y1="663.8" x2="470" y2="663.8" stroke="#111" stroke-width="1.1"/>
<circle cx="465.8" cy="656.7" r="2.0" fill="#111"/>
<circle cx="463.3" cy="663.8" r="2.0" fill="#111"/>
<circle cx="468.1" cy="663.8" r="2.0" fill="#111"/>
<circle cx="465.8" cy="672.1" r="2.0" fill="#111"/>
<path d="M477.7,655.8 V673.1 M475.9,655.8 h3.6 M475.9,673.1 h3.6" stroke="#e0202e" stroke-width="0.9" fill="none"/>
<line x1="473.5" y1="663.1" x2="481.5" y2="663.1" stroke="#e0202e" stroke-width="1.1"/>
<rect x="472.9" y="654.9" width="3.7" height="3.7" fill="#e0202e"/>
<rect x="477.8" y="656.9" width="3.7" height="3.7" fill="#e0202e"/>
<rect x="475.8" y="659.4" width="3.7" height="3.7" fill="#e0202e"/>
<rect x="475.8" y="676.0" width="3.7" height="3.7" fill="#e0202e"/>
<path d="M497.5,646 V654 M495.7,646 h3.6 M495.7,654 h3.6" stroke="#111" stroke-width="0.9" fill="none"/>
<line x1="494" y1="649.6" x2="502" y2="649.6" stroke="#111" stroke-width="1.1"/>
<circle cx="496.9" cy="648.1" r="2.0" fill="#111"/>
<circle cx="498.8" cy="649" r="2.0" fill="#111"/>
<circle cx="496" cy="650" r="2.0" fill="#111"/>
<circle cx="497.9" cy="657.3" r="2.0" fill="#111"/>
<line x1="506" y1="642" x2="514" y2="642" stroke="#e0202e" stroke-width="1.1"/>
<rect x="505.6" y="637.5" width="3.7" height="3.7" fill="#e0202e"/>
<rect x="507.5" y="641.4" width="3.7" height="3.7" fill="#e0202e"/>
<rect x="510.4" y="640.0" width="3.7" height="3.7" fill="#e0202e"/>
<rect x="506.6" y="642.4" width="3.7" height="3.7" fill="#e0202e"/>
<path d="M433.1,657.7 V651 H446 V654.8" stroke="#111" stroke-width="1.5" fill="none"/>
<circle cx="439.2" cy="645.7" r="1.7" fill="#111"/>
<path d="M497.5,642.3 V630.8 H510.4 V634.6" stroke="#111" stroke-width="1.5" fill="none"/>
<circle cx="504" cy="625.5" r="1.7" fill="#111"/>
</svg>
</body></html>
